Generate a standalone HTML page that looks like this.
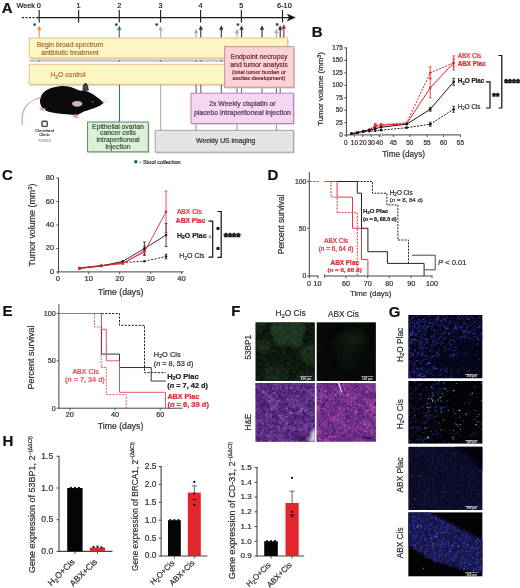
<!DOCTYPE html>
<html><head><meta charset="utf-8"><title>Figure</title>
<style>
html,body{margin:0;padding:0;background:#fff;}
body{width:520px;height:588px;overflow:hidden;}
svg{display:block;filter:blur(0.45px);}
text{font-family:'Liberation Sans', Arial, sans-serif;}
</style></head>
<body>
<svg width="520" height="588" viewBox="0 0 520 588">
<defs>
<filter id="blur2" x="-50%" y="-50%" width="200%" height="200%"><feGaussianBlur stdDeviation="4"/></filter>
<filter id="blur1" x="-50%" y="-50%" width="200%" height="200%"><feGaussianBlur stdDeviation="1.5"/></filter>
<filter id="soft" x="-5%" y="-5%" width="110%" height="110%"><feGaussianBlur stdDeviation="0.35"/></filter>
<filter id="nF1" x="0" y="0" width="1" height="1" color-interpolation-filters="sRGB"><feTurbulence type="fractalNoise" baseFrequency="0.3" numOctaves="2" seed="5"/><feColorMatrix type="matrix" values="0.2353 0.0000 0.0000 0.0000 0.0000 0.3922 0.0000 0.0000 0.0000 0.0000 0.2353 0.0000 0.0000 0.0000 0.0000 0.0000 0.0000 0.0000 0.0000 1.0000"/></filter>
<filter id="nF2" x="0" y="0" width="1" height="1" color-interpolation-filters="sRGB"><feTurbulence type="fractalNoise" baseFrequency="0.12" numOctaves="3" seed="7"/><feColorMatrix type="matrix" values="0.0863 0.0000 0.0000 0.0000 0.0000 0.1176 0.0000 0.0000 0.0000 0.0078 0.0863 0.0000 0.0000 0.0000 0.0000 0.0000 0.0000 0.0000 0.0000 1.0000"/></filter>
<filter id="nF3b" x="0" y="0" width="1" height="1" color-interpolation-filters="sRGB"><feTurbulence type="fractalNoise" baseFrequency="0.09" numOctaves="3" seed="17"/><feColorMatrix type="matrix" values="0.3059 0.0000 0.0000 0.0000 0.2431 0.2235 0.0000 0.0000 0.0000 0.0980 0.2510 0.0000 0.0000 0.0000 0.4235 0.0000 0.0000 0.0000 0.0000 1.0000"/></filter>
<filter id="nF4b" x="0" y="0" width="1" height="1" color-interpolation-filters="sRGB"><feTurbulence type="fractalNoise" baseFrequency="0.09" numOctaves="3" seed="19"/><feColorMatrix type="matrix" values="0.3412 0.0000 0.0000 0.0000 0.3333 0.1686 0.0000 0.0000 0.0000 0.1373 0.1176 0.0000 0.0000 0.0000 0.5098 0.0000 0.0000 0.0000 0.0000 1.0000"/></filter>
<clipPath id="cF1"><rect x="255.4" y="322.3" width="59.5" height="58.7"/></clipPath>
<clipPath id="cF2"><rect x="316.6" y="322.3" width="59.3" height="58.7"/></clipPath>
<clipPath id="cF3"><rect x="255.4" y="382.9" width="59.5" height="58.9"/></clipPath>
<clipPath id="cF4"><rect x="316.6" y="382.9" width="59.3" height="58.9"/></clipPath>
<clipPath id="cG1"><rect x="408.2" y="315.0" width="74.4" height="63.5"/></clipPath>
<clipPath id="cG2"><rect x="408.2" y="381.0" width="74.4" height="62.8"/></clipPath>
<clipPath id="cG3"><rect x="408.2" y="446.6" width="74.4" height="63.4"/></clipPath>
<clipPath id="cG4"><rect x="408.2" y="512.2" width="74.4" height="64.4"/></clipPath>
</defs>
<rect x="0" y="0" width="520" height="588" fill="#fff"/>
<text x="1.80" y="12.90" font-size="15" text-anchor="start" fill="#111" font-weight="bold" stroke="#111" stroke-width="0.22">A</text>
<line x1="22.00" y1="17.60" x2="37.00" y2="17.60" stroke="#222" stroke-width="1.2" stroke-dasharray="2,1.5"/>
<line x1="37.00" y1="17.60" x2="290.00" y2="17.60" stroke="#1a1a1a" stroke-width="1.35"/>
<path d="M287.3,14.100000000000001 L295.2,17.6 L287.3,21.1 L289.3,17.6 Z" stroke="#111" stroke-width="0.4" fill="#111"/>
<line x1="39.20" y1="10.00" x2="39.20" y2="22.40" stroke="#222" stroke-width="1.15"/>
<line x1="78.60" y1="10.00" x2="78.60" y2="22.40" stroke="#222" stroke-width="1.15"/>
<line x1="119.30" y1="10.00" x2="119.30" y2="22.40" stroke="#222" stroke-width="1.15"/>
<line x1="160.60" y1="10.00" x2="160.60" y2="22.40" stroke="#222" stroke-width="1.15"/>
<line x1="200.60" y1="10.00" x2="200.60" y2="22.40" stroke="#222" stroke-width="1.15"/>
<line x1="241.40" y1="10.00" x2="241.40" y2="22.40" stroke="#222" stroke-width="1.15"/>
<line x1="282.50" y1="10.00" x2="282.50" y2="22.40" stroke="#222" stroke-width="1.15"/>
<text x="38.80" y="7.90" font-size="7.3" text-anchor="middle" fill="#222" stroke="#222" stroke-width="0.22">0</text>
<text x="78.60" y="7.90" font-size="7.3" text-anchor="middle" fill="#222" stroke="#222" stroke-width="0.22">1</text>
<text x="119.30" y="7.90" font-size="7.3" text-anchor="middle" fill="#222" stroke="#222" stroke-width="0.22">2</text>
<text x="160.60" y="7.90" font-size="7.3" text-anchor="middle" fill="#222" stroke="#222" stroke-width="0.22">3</text>
<text x="200.60" y="7.90" font-size="7.3" text-anchor="middle" fill="#222" stroke="#222" stroke-width="0.22">4</text>
<text x="241.40" y="7.90" font-size="7.3" text-anchor="middle" fill="#222" stroke="#222" stroke-width="0.22">5</text>
<text x="284.40" y="7.90" font-size="7.3" text-anchor="middle" fill="#222" stroke="#222" stroke-width="0.22">6-10</text>
<text x="35.00" y="7.90" font-size="7.3" text-anchor="end" fill="#222" stroke="#222" stroke-width="0.22">Week</text>
<circle cx="34.60" cy="24.60" r="1.4" fill="#1b4f8f"/>
<circle cx="116.30" cy="24.60" r="1.4" fill="#1b4f8f"/>
<circle cx="156.70" cy="24.60" r="1.4" fill="#1b4f8f"/>
<circle cx="237.90" cy="24.60" r="1.4" fill="#1b4f8f"/>
<circle cx="277.20" cy="24.50" r="1.4" fill="#1b4f8f"/>
<line x1="39.20" y1="28.50" x2="39.20" y2="37.60" stroke="#f0873a" stroke-width="1.1"/>
<path d="M37.35,29.80 L39.20,26.00 L41.05,29.80 Z" stroke="#f0873a" stroke-width="0.4" fill="#f0873a"/>
<line x1="119.30" y1="28.50" x2="119.30" y2="37.60" stroke="#2d7a4c" stroke-width="1.1"/>
<path d="M117.45,29.80 L119.30,26.00 L121.15,29.80 Z" stroke="#2d7a4c" stroke-width="0.4" fill="#2d7a4c"/>
<line x1="160.60" y1="29.10" x2="160.60" y2="37.60" stroke="#a9a9a9" stroke-width="1.1"/>
<path d="M158.75,30.40 L160.60,26.60 L162.45,30.40 Z" stroke="#a9a9a9" stroke-width="0.4" fill="#a9a9a9"/>
<line x1="196.10" y1="31.80" x2="196.10" y2="37.60" stroke="#a9a9a9" stroke-width="1.1"/>
<path d="M194.25,33.10 L196.10,29.30 L197.95,33.10 Z" stroke="#a9a9a9" stroke-width="0.4" fill="#a9a9a9"/>
<line x1="237.00" y1="31.80" x2="237.00" y2="37.60" stroke="#a9a9a9" stroke-width="1.1"/>
<path d="M235.15,33.10 L237.00,29.30 L238.85,33.10 Z" stroke="#a9a9a9" stroke-width="0.4" fill="#a9a9a9"/>
<line x1="276.40" y1="31.80" x2="276.40" y2="37.60" stroke="#a9a9a9" stroke-width="1.1"/>
<path d="M274.55,33.10 L276.40,29.30 L278.25,33.10 Z" stroke="#a9a9a9" stroke-width="0.4" fill="#a9a9a9"/>
<line x1="200.80" y1="28.30" x2="200.80" y2="37.60" stroke="#43204a" stroke-width="1.1"/>
<path d="M198.95,29.60 L200.80,25.80 L202.65,29.60 Z" stroke="#43204a" stroke-width="0.4" fill="#43204a"/>
<line x1="221.30" y1="28.30" x2="221.30" y2="37.60" stroke="#43204a" stroke-width="1.1"/>
<path d="M219.45,29.60 L221.30,25.80 L223.15,29.60 Z" stroke="#43204a" stroke-width="0.4" fill="#43204a"/>
<line x1="241.60" y1="28.30" x2="241.60" y2="37.60" stroke="#43204a" stroke-width="1.1"/>
<path d="M239.75,29.60 L241.60,25.80 L243.45,29.60 Z" stroke="#43204a" stroke-width="0.4" fill="#43204a"/>
<line x1="262.00" y1="28.30" x2="262.00" y2="37.60" stroke="#43204a" stroke-width="1.1"/>
<path d="M260.15,29.60 L262.00,25.80 L263.85,29.60 Z" stroke="#43204a" stroke-width="0.4" fill="#43204a"/>
<line x1="280.20" y1="28.30" x2="280.20" y2="37.60" stroke="#43204a" stroke-width="1.1"/>
<path d="M278.35,29.60 L280.20,25.80 L282.05,29.60 Z" stroke="#43204a" stroke-width="0.4" fill="#43204a"/>
<line x1="283.80" y1="27.10" x2="283.80" y2="46.50" stroke="#a8283c" stroke-width="1.2"/>
<path d="M281.95,28.40 L283.80,24.60 L285.65,28.40 Z" stroke="#a8283c" stroke-width="0.4" fill="#a8283c"/>
<rect x="30.50" y="39.50" width="258.30" height="20.50" fill="#d8d8d8" stroke="none" stroke-width="1"/>
<rect x="30.50" y="65.70" width="258.30" height="20.20" fill="#d8d8d8" stroke="none" stroke-width="1"/>
<rect x="29.20" y="59.90" width="258.30" height="2.00" fill="#c9c9c9" stroke="none" stroke-width="1"/>
<circle cx="39.20" cy="60.90" r="0.7" fill="#555"/>
<circle cx="119.30" cy="60.90" r="0.7" fill="#555"/>
<circle cx="160.60" cy="60.90" r="0.7" fill="#555"/>
<circle cx="196.10" cy="60.90" r="0.7" fill="#555"/>
<circle cx="200.80" cy="60.90" r="0.7" fill="#555"/>
<circle cx="221.30" cy="60.90" r="0.7" fill="#555"/>
<rect x="29.20" y="38.00" width="258.30" height="20.00" fill="#fcf5c4" stroke="#f0bf80" stroke-width="1.0"/>
<text x="70.00" y="47.30" font-size="6.8" text-anchor="middle" fill="#a8733c" stroke="#a8733c" stroke-width="0.22">Begin broad spectrum</text>
<text x="70.00" y="54.50" font-size="6.8" text-anchor="middle" fill="#a8733c" stroke="#a8733c" stroke-width="0.22">antibiotic treatment</text>
<rect x="29.20" y="64.30" width="258.30" height="20.00" fill="#fcf5c4" stroke="#f0bf80" stroke-width="1.0"/>
<text x="68.00" y="76.80" font-size="6.8" text-anchor="middle" fill="#a8733c" stroke="#a8733c" stroke-width="0.22">H<tspan font-size="72%" dy="1.76">2</tspan><tspan dy="-1.76">O</tspan> control</text>
<line x1="196.10" y1="84.80" x2="196.10" y2="93.00" stroke="#444" stroke-width="0.9"/>
<line x1="200.80" y1="84.80" x2="200.80" y2="93.00" stroke="#444" stroke-width="0.9"/>
<line x1="221.30" y1="84.80" x2="221.30" y2="93.00" stroke="#444" stroke-width="0.9"/>
<line x1="237.00" y1="87.50" x2="237.00" y2="93.00" stroke="#444" stroke-width="0.9"/>
<line x1="241.60" y1="87.50" x2="241.60" y2="93.00" stroke="#444" stroke-width="0.9"/>
<line x1="262.00" y1="87.50" x2="262.00" y2="93.00" stroke="#444" stroke-width="0.9"/>
<line x1="276.40" y1="87.50" x2="276.40" y2="93.00" stroke="#444" stroke-width="0.9"/>
<line x1="280.20" y1="87.50" x2="280.20" y2="93.00" stroke="#444" stroke-width="0.9"/>
<line x1="196.10" y1="123.50" x2="196.10" y2="130.30" stroke="#888" stroke-width="0.9"/>
<line x1="237.00" y1="123.50" x2="237.00" y2="130.30" stroke="#888" stroke-width="0.9"/>
<line x1="276.40" y1="123.50" x2="276.40" y2="130.30" stroke="#888" stroke-width="0.9"/>
<line x1="119.50" y1="84.60" x2="119.50" y2="122.00" stroke="#2d7a4c" stroke-width="1.0"/>
<line x1="160.70" y1="84.60" x2="160.70" y2="130.30" stroke="#9a9a9a" stroke-width="0.9"/>
<rect x="225.90" y="47.90" width="69.20" height="40.70" fill="#d8d0d0" stroke="none" stroke-width="1"/>
<rect x="224.60" y="46.60" width="69.20" height="40.70" fill="#fad3d7" stroke="#d6959b" stroke-width="1.1"/>
<text x="259.00" y="58.80" font-size="6.85" text-anchor="middle" fill="#74283a" stroke="#74283a" stroke-width="0.22">Endpoint necropsy</text>
<text x="259.00" y="66.90" font-size="6.85" text-anchor="middle" fill="#74283a" stroke="#74283a" stroke-width="0.22">and tumor analysis</text>
<text x="259.00" y="73.70" font-size="5.6" text-anchor="middle" fill="#74283a" stroke="#74283a" stroke-width="0.22">(total tumor burden or</text>
<text x="259.00" y="79.80" font-size="5.6" text-anchor="middle" fill="#74283a" stroke="#74283a" stroke-width="0.22">ascites development)</text>
<rect x="192.30" y="94.30" width="102.40" height="30.40" fill="#d0c8d0" stroke="none" stroke-width="1"/>
<rect x="191.00" y="93.20" width="102.40" height="30.30" fill="#f6d6f1" stroke="#b985b3" stroke-width="1.0"/>
<text x="242.40" y="105.80" font-size="6.9" text-anchor="middle" fill="#553a58" stroke="#553a58" stroke-width="0.22">2x Weekly cisplatin or</text>
<text x="242.40" y="114.70" font-size="6.9" text-anchor="middle" fill="#553a58" stroke="#553a58" stroke-width="0.22">placebo intraperitoneal injection</text>
<rect x="156.50" y="131.60" width="138.20" height="21.90" fill="#cfcfcf" stroke="none" stroke-width="1"/>
<rect x="155.20" y="130.30" width="138.20" height="21.90" fill="#e4e4e4" stroke="#a0a0a0" stroke-width="0.9"/>
<text x="225.70" y="142.80" font-size="6.8" text-anchor="middle" fill="#333" stroke="#333" stroke-width="0.22">Weekly US imaging</text>
<rect x="89.00" y="123.20" width="60.60" height="30.00" fill="#cfd8cf" stroke="none" stroke-width="1"/>
<rect x="87.50" y="122.00" width="60.80" height="29.80" fill="#deeed9" stroke="#6d8f74" stroke-width="1.1"/>
<text x="118.00" y="128.60" font-size="6.8" text-anchor="middle" fill="#35603f" stroke="#35603f" stroke-width="0.22">Epithelial ovarian</text>
<text x="118.00" y="135.30" font-size="6.8" text-anchor="middle" fill="#35603f" stroke="#35603f" stroke-width="0.22">cancer cells</text>
<text x="118.00" y="142.00" font-size="6.8" text-anchor="middle" fill="#35603f" stroke="#35603f" stroke-width="0.22">intraperitoneal</text>
<text x="118.00" y="148.70" font-size="6.8" text-anchor="middle" fill="#35603f" stroke="#35603f" stroke-width="0.22">injection</text>
<circle cx="135.80" cy="161.70" r="1.75" fill="#1b5a9a"/>
<text x="139.60" y="163.80" font-size="5.6" text-anchor="start" fill="#333" stroke="#333" stroke-width="0.22">- Stool collection</text>
<path d="M40.6,97.4 C42.5,91 50,87 60,86.2 C67,85.6 73,87.5 77,89.5 C80,90.8 82.5,91 84.5,90.8 C88.5,91.2 92,93.5 96,96.5 C99.5,99 102.5,101.3 103.9,102.8 C101.5,104.8 99,106.3 96.5,107.3 C92,109 88,110.5 84.5,111.3 C81,113 78.5,114.8 75.5,115.3 C71,114.6 67,114.2 63,114.0 C56,113.6 50,112.4 46.5,111.0 C43,109.5 41,106.8 40.4,104 C39.8,101.8 39.9,99.6 40.6,97.4 Z" stroke="none" stroke-width="0" fill="#0b0b0b"/>
<path d="M82.6,91.2 C82.3,87.2 83.2,83.3 85.3,83.1 C87.4,83.1 88.5,86.6 88.8,90.6 Z" stroke="none" stroke-width="0" fill="#3b3434"/>
<path d="M84.4,89.5 C84.3,87 84.8,85 85.5,85 C86.3,85.1 86.8,87.2 86.9,89.4 Z" stroke="none" stroke-width="0" fill="#5a4a4a"/>
<ellipse cx="77.2" cy="103.8" rx="5.2" ry="2.9" fill="#cdb6aa"/>
<circle cx="92.60" cy="101.90" r="0.9" fill="#666"/>
<path d="M72.6,115.2 C73.5,114.2 77.5,114.2 78.4,115.6 L78.8,118.2 L77.6,117.4 L76.8,119.0 L75.8,117.5 L74.6,118.8 L74.2,117.2 L72.9,117.8 Z" stroke="none" stroke-width="0" fill="#e0a8ad"/>
<path d="M39.5,108.6 C40.5,107.4 43.8,107.5 45.3,108.6 L45.6,110.6 L44.2,110.0 L43.3,111.2 L42.4,110.2 L41.2,111.0 L40.8,109.8 L39.6,110.2 Z" stroke="none" stroke-width="0" fill="#e0a8ad"/>
<path d="M40.2,97.6 C31,100 24.5,106 22.8,113 C21.8,117.5 21.8,121 22.3,125" stroke="#cbb0bc" stroke-width="1.3" fill="none"/>
<path d="M101.5,101.3 L108.2,98.6 M101.8,102.3 L108.6,101.6" stroke="#c0c0c0" stroke-width="0.5" fill="none"/>
<rect x="42.0" y="121.3" width="5.2" height="5.1" rx="0.9" fill="#fff" stroke="#454545" stroke-width="1.4"/>
<text x="44.50" y="131.60" font-size="4.3" text-anchor="middle" fill="#555" stroke="#555" stroke-width="0.22">Cleveland</text>
<text x="44.50" y="135.60" font-size="4.3" text-anchor="middle" fill="#555" stroke="#555" stroke-width="0.22">Clinic</text>
<text x="44.70" y="141.60" font-size="4.3" text-anchor="middle" fill="#aaa" stroke="#aaa" stroke-width="0.22">©2022</text>
<text x="311.80" y="36.60" font-size="15" text-anchor="start" fill="#111" font-weight="bold" stroke="#111" stroke-width="0.22">B</text>
<line x1="346.40" y1="47.40" x2="346.40" y2="135.40" stroke="#444" stroke-width="1.0"/>
<line x1="344.20" y1="135.20" x2="346.40" y2="135.20" stroke="#444" stroke-width="0.9"/>
<text x="342.80" y="137.10" font-size="6.4" text-anchor="end" fill="#333" stroke="#333" stroke-width="0.22">0</text>
<line x1="344.20" y1="122.73" x2="346.40" y2="122.73" stroke="#444" stroke-width="0.9"/>
<text x="342.80" y="124.63" font-size="6.4" text-anchor="end" fill="#333" stroke="#333" stroke-width="0.22">25</text>
<line x1="344.20" y1="110.26" x2="346.40" y2="110.26" stroke="#444" stroke-width="0.9"/>
<text x="342.80" y="112.16" font-size="6.4" text-anchor="end" fill="#333" stroke="#333" stroke-width="0.22">50</text>
<line x1="344.20" y1="97.79" x2="346.40" y2="97.79" stroke="#444" stroke-width="0.9"/>
<text x="342.80" y="99.69" font-size="6.4" text-anchor="end" fill="#333" stroke="#333" stroke-width="0.22">75</text>
<line x1="344.20" y1="85.31" x2="346.40" y2="85.31" stroke="#444" stroke-width="0.9"/>
<text x="342.80" y="87.21" font-size="6.4" text-anchor="end" fill="#333" stroke="#333" stroke-width="0.22">100</text>
<line x1="344.20" y1="72.84" x2="346.40" y2="72.84" stroke="#444" stroke-width="0.9"/>
<text x="342.80" y="74.74" font-size="6.4" text-anchor="end" fill="#333" stroke="#333" stroke-width="0.22">125</text>
<line x1="344.20" y1="60.37" x2="346.40" y2="60.37" stroke="#444" stroke-width="0.9"/>
<text x="342.80" y="62.27" font-size="6.4" text-anchor="end" fill="#333" stroke="#333" stroke-width="0.22">150</text>
<line x1="344.20" y1="47.90" x2="346.40" y2="47.90" stroke="#444" stroke-width="0.9"/>
<text x="342.80" y="49.80" font-size="6.4" text-anchor="end" fill="#333" stroke="#333" stroke-width="0.22">175</text>
<line x1="346.40" y1="134.90" x2="460.80" y2="134.90" stroke="#444" stroke-width="1.0"/>
<line x1="346.40" y1="134.90" x2="346.40" y2="137.10" stroke="#444" stroke-width="0.9"/>
<text x="345.90" y="144.50" font-size="6.4" text-anchor="middle" fill="#333" stroke="#333" stroke-width="0.22">0</text>
<line x1="354.40" y1="134.90" x2="354.40" y2="137.10" stroke="#444" stroke-width="0.9"/>
<text x="354.40" y="144.50" font-size="6.4" text-anchor="middle" fill="#333" stroke="#333" stroke-width="0.22">10</text>
<line x1="362.90" y1="134.90" x2="362.90" y2="137.10" stroke="#444" stroke-width="0.9"/>
<text x="362.90" y="144.50" font-size="6.4" text-anchor="middle" fill="#333" stroke="#333" stroke-width="0.22">20</text>
<line x1="371.20" y1="134.90" x2="371.20" y2="137.10" stroke="#444" stroke-width="0.9"/>
<text x="371.20" y="144.50" font-size="6.4" text-anchor="middle" fill="#333" stroke="#333" stroke-width="0.22">30</text>
<line x1="379.40" y1="134.90" x2="379.40" y2="137.10" stroke="#444" stroke-width="0.9"/>
<text x="379.40" y="144.50" font-size="6.4" text-anchor="middle" fill="#333" stroke="#333" stroke-width="0.22">40</text>
<line x1="393.30" y1="134.90" x2="393.30" y2="137.10" stroke="#444" stroke-width="0.9"/>
<text x="393.30" y="144.50" font-size="6.4" text-anchor="middle" fill="#333" stroke="#333" stroke-width="0.22">45</text>
<line x1="409.80" y1="134.90" x2="409.80" y2="137.10" stroke="#444" stroke-width="0.9"/>
<text x="409.80" y="144.50" font-size="6.4" text-anchor="middle" fill="#333" stroke="#333" stroke-width="0.22">50</text>
<line x1="427.10" y1="134.90" x2="427.10" y2="137.10" stroke="#444" stroke-width="0.9"/>
<text x="427.10" y="144.50" font-size="6.4" text-anchor="middle" fill="#333" stroke="#333" stroke-width="0.22">55</text>
<line x1="443.50" y1="134.90" x2="443.50" y2="137.10" stroke="#444" stroke-width="0.9"/>
<text x="443.50" y="144.50" font-size="6.4" text-anchor="middle" fill="#333" stroke="#333" stroke-width="0.22">60</text>
<line x1="460.40" y1="134.90" x2="460.40" y2="137.10" stroke="#444" stroke-width="0.9"/>
<text x="460.40" y="144.50" font-size="6.4" text-anchor="middle" fill="#333" stroke="#333" stroke-width="0.22">65</text>
<circle cx="381.4" cy="134.9" r="1.3" fill="white" stroke="#555" stroke-width="0.6"/>
<text x="0" y="0" transform="translate(323.20,89.00) rotate(-90)" font-size="7.9" text-anchor="middle" fill="#333" stroke="#333" stroke-width="0.22">Tumor volume (mm<tspan font-size="65%" dy="-2.5">3</tspan><tspan dy="2.5">)</tspan></text>
<text x="403.60" y="156.60" font-size="8.2" text-anchor="middle" fill="#333" stroke="#333" stroke-width="0.22">Time (days)</text>
<path d="M351.52,133.70 L357.43,132.71 L363.35,131.21 L369.26,129.71 L375.18,126.72 L381.09,125.22 L406.72,123.73 L430.21,87.81 L453.69,62.87" stroke="#e3262e" stroke-width="1.0" fill="none"/>
<circle cx="351.52" cy="133.70" r="1.2" fill="#e3262e"/>
<circle cx="357.43" cy="132.71" r="1.2" fill="#e3262e"/>
<circle cx="363.35" cy="131.21" r="1.2" fill="#e3262e"/>
<circle cx="369.26" cy="129.71" r="1.2" fill="#e3262e"/>
<circle cx="375.18" cy="126.72" r="1.2" fill="#e3262e"/>
<line x1="375.18" y1="128.71" x2="375.18" y2="124.72" stroke="#e3262e" stroke-width="0.8"/>
<line x1="373.78" y1="124.72" x2="376.57" y2="124.72" stroke="#e3262e" stroke-width="0.8"/>
<line x1="373.78" y1="128.71" x2="376.57" y2="128.71" stroke="#e3262e" stroke-width="0.8"/>
<circle cx="381.09" cy="125.22" r="1.2" fill="#e3262e"/>
<line x1="381.09" y1="126.72" x2="381.09" y2="123.73" stroke="#e3262e" stroke-width="0.8"/>
<line x1="379.69" y1="123.73" x2="382.49" y2="123.73" stroke="#e3262e" stroke-width="0.8"/>
<line x1="379.69" y1="126.72" x2="382.49" y2="126.72" stroke="#e3262e" stroke-width="0.8"/>
<circle cx="406.72" cy="123.73" r="1.2" fill="#e3262e"/>
<circle cx="430.21" cy="87.81" r="1.2" fill="#e3262e"/>
<line x1="430.21" y1="97.79" x2="430.21" y2="77.83" stroke="#e3262e" stroke-width="0.8"/>
<line x1="428.81" y1="77.83" x2="431.61" y2="77.83" stroke="#e3262e" stroke-width="0.8"/>
<line x1="428.81" y1="97.79" x2="431.61" y2="97.79" stroke="#e3262e" stroke-width="0.8"/>
<circle cx="453.69" cy="62.87" r="1.2" fill="#e3262e"/>
<line x1="453.69" y1="66.86" x2="453.69" y2="58.87" stroke="#e3262e" stroke-width="0.8"/>
<line x1="452.29" y1="58.87" x2="455.09" y2="58.87" stroke="#e3262e" stroke-width="0.8"/>
<line x1="452.29" y1="66.86" x2="455.09" y2="66.86" stroke="#e3262e" stroke-width="0.8"/>
<path d="M351.52,133.70 L357.43,132.71 L363.35,131.21 L369.26,129.71 L375.18,125.22 L381.09,124.72 L406.72,122.73 L430.21,72.84 L453.69,62.87" stroke="#e3262e" stroke-width="1.0" fill="none" stroke-dasharray="2,1.3"/>
<circle cx="351.52" cy="133.70" r="1.2" fill="#e3262e"/>
<circle cx="357.43" cy="132.71" r="1.2" fill="#e3262e"/>
<circle cx="363.35" cy="131.21" r="1.2" fill="#e3262e"/>
<circle cx="369.26" cy="129.71" r="1.2" fill="#e3262e"/>
<circle cx="375.18" cy="125.22" r="1.2" fill="#e3262e"/>
<line x1="375.18" y1="127.22" x2="375.18" y2="123.23" stroke="#e3262e" stroke-width="0.8"/>
<line x1="373.78" y1="123.23" x2="376.57" y2="123.23" stroke="#e3262e" stroke-width="0.8"/>
<line x1="373.78" y1="127.22" x2="376.57" y2="127.22" stroke="#e3262e" stroke-width="0.8"/>
<circle cx="381.09" cy="124.72" r="1.2" fill="#e3262e"/>
<circle cx="406.72" cy="122.73" r="1.2" fill="#e3262e"/>
<circle cx="430.21" cy="72.84" r="1.2" fill="#e3262e"/>
<line x1="430.21" y1="78.83" x2="430.21" y2="66.86" stroke="#e3262e" stroke-width="0.8"/>
<line x1="428.81" y1="66.86" x2="431.61" y2="66.86" stroke="#e3262e" stroke-width="0.8"/>
<line x1="428.81" y1="78.83" x2="431.61" y2="78.83" stroke="#e3262e" stroke-width="0.8"/>
<circle cx="453.69" cy="62.87" r="1.2" fill="#e3262e"/>
<line x1="453.69" y1="69.85" x2="453.69" y2="55.88" stroke="#e3262e" stroke-width="0.8"/>
<line x1="452.29" y1="55.88" x2="455.09" y2="55.88" stroke="#e3262e" stroke-width="0.8"/>
<line x1="452.29" y1="69.85" x2="455.09" y2="69.85" stroke="#e3262e" stroke-width="0.8"/>
<path d="M351.52,133.70 L357.43,132.71 L363.35,131.71 L369.26,131.21 L375.18,130.71 L381.09,130.21 L406.72,127.72 L430.21,124.23 L453.69,109.26" stroke="#1a1a1a" stroke-width="1.0" fill="none" stroke-dasharray="2,1.3"/>
<circle cx="351.52" cy="133.70" r="1.35" fill="#1a1a1a"/>
<circle cx="357.43" cy="132.71" r="1.35" fill="#1a1a1a"/>
<circle cx="363.35" cy="131.71" r="1.35" fill="#1a1a1a"/>
<circle cx="369.26" cy="131.21" r="1.35" fill="#1a1a1a"/>
<circle cx="375.18" cy="130.71" r="1.35" fill="#1a1a1a"/>
<circle cx="381.09" cy="130.21" r="1.35" fill="#1a1a1a"/>
<circle cx="406.72" cy="127.72" r="1.35" fill="#1a1a1a"/>
<circle cx="430.21" cy="124.23" r="1.35" fill="#1a1a1a"/>
<line x1="430.21" y1="126.22" x2="430.21" y2="122.23" stroke="#1a1a1a" stroke-width="0.8"/>
<line x1="428.81" y1="122.23" x2="431.61" y2="122.23" stroke="#1a1a1a" stroke-width="0.8"/>
<line x1="428.81" y1="126.22" x2="431.61" y2="126.22" stroke="#1a1a1a" stroke-width="0.8"/>
<circle cx="453.69" cy="109.26" r="1.35" fill="#1a1a1a"/>
<line x1="453.69" y1="112.25" x2="453.69" y2="106.27" stroke="#1a1a1a" stroke-width="0.8"/>
<line x1="452.29" y1="106.27" x2="455.09" y2="106.27" stroke="#1a1a1a" stroke-width="0.8"/>
<line x1="452.29" y1="112.25" x2="455.09" y2="112.25" stroke="#1a1a1a" stroke-width="0.8"/>
<path d="M351.52,133.70 L357.43,132.71 L363.35,131.21 L369.26,130.21 L375.18,128.71 L381.09,127.22 L406.72,124.23 L430.21,109.26 L453.69,81.82" stroke="#1a1a1a" stroke-width="1.0" fill="none"/>
<circle cx="351.52" cy="133.70" r="1.35" fill="#1a1a1a"/>
<circle cx="357.43" cy="132.71" r="1.35" fill="#1a1a1a"/>
<circle cx="363.35" cy="131.21" r="1.35" fill="#1a1a1a"/>
<circle cx="369.26" cy="130.21" r="1.35" fill="#1a1a1a"/>
<circle cx="375.18" cy="128.71" r="1.35" fill="#1a1a1a"/>
<circle cx="381.09" cy="127.22" r="1.35" fill="#1a1a1a"/>
<circle cx="406.72" cy="124.23" r="1.35" fill="#1a1a1a"/>
<circle cx="430.21" cy="109.26" r="1.35" fill="#1a1a1a"/>
<line x1="430.21" y1="111.25" x2="430.21" y2="107.26" stroke="#1a1a1a" stroke-width="0.8"/>
<line x1="428.81" y1="107.26" x2="431.61" y2="107.26" stroke="#1a1a1a" stroke-width="0.8"/>
<line x1="428.81" y1="111.25" x2="431.61" y2="111.25" stroke="#1a1a1a" stroke-width="0.8"/>
<circle cx="453.69" cy="81.82" r="1.35" fill="#1a1a1a"/>
<line x1="453.69" y1="85.31" x2="453.69" y2="78.33" stroke="#1a1a1a" stroke-width="0.8"/>
<line x1="452.29" y1="78.33" x2="455.09" y2="78.33" stroke="#1a1a1a" stroke-width="0.8"/>
<line x1="452.29" y1="85.31" x2="455.09" y2="85.31" stroke="#1a1a1a" stroke-width="0.8"/>
<text x="457.70" y="58.00" font-size="6.3" text-anchor="start" fill="#e3262e" stroke="#e3262e" stroke-width="0.22">ABX Cis</text>
<text x="457.70" y="65.60" font-size="6.3" text-anchor="start" fill="#e3262e" font-weight="bold" stroke="#e3262e" stroke-width="0.22">ABX Plac</text>
<text x="457.70" y="83.30" font-size="6.3" text-anchor="start" fill="#222" font-weight="bold" stroke="#222" stroke-width="0.22">H<tspan font-size="72%" dy="1.49">2</tspan><tspan dy="-1.49">O</tspan> Plac</text>
<text x="457.70" y="108.50" font-size="6.3" text-anchor="start" fill="#333" stroke="#333" stroke-width="0.22">H<tspan font-size="72%" dy="1.49">2</tspan><tspan dy="-1.49">O</tspan> Cis</text>
<path d="M486,81.9 L490,81.9 L490,108 L486,108" stroke="#111" stroke-width="1.2" fill="none"/>
<path d="M498.5,55.5 L501.8,55.5 L501.8,108 L498.5,108" stroke="#111" stroke-width="1.2" fill="none"/>
<text x="495.80" y="99.48" font-size="9.25" text-anchor="middle" font-weight="bold" fill="#111" stroke="#111" stroke-width="0.7" stroke-linejoin="round">**</text>
<text x="512.00" y="87.01" font-size="10.03" text-anchor="middle" font-weight="bold" fill="#111" stroke="#111" stroke-width="0.7" stroke-linejoin="round">****</text>
<text x="2.00" y="179.60" font-size="15" text-anchor="start" fill="#111" font-weight="bold" stroke="#111" stroke-width="0.22">C</text>
<line x1="58.50" y1="177.60" x2="58.50" y2="272.40" stroke="#444" stroke-width="1.0"/>
<line x1="56.30" y1="271.90" x2="58.50" y2="271.90" stroke="#444" stroke-width="0.9"/>
<text x="54.30" y="273.90" font-size="7.6" text-anchor="end" fill="#333" stroke="#333" stroke-width="0.22">0</text>
<line x1="56.30" y1="248.45" x2="58.50" y2="248.45" stroke="#444" stroke-width="0.9"/>
<text x="54.30" y="250.45" font-size="7.6" text-anchor="end" fill="#333" stroke="#333" stroke-width="0.22">20</text>
<line x1="56.30" y1="225.00" x2="58.50" y2="225.00" stroke="#444" stroke-width="0.9"/>
<text x="54.30" y="227.00" font-size="7.6" text-anchor="end" fill="#333" stroke="#333" stroke-width="0.22">40</text>
<line x1="56.30" y1="201.55" x2="58.50" y2="201.55" stroke="#444" stroke-width="0.9"/>
<text x="54.30" y="203.55" font-size="7.6" text-anchor="end" fill="#333" stroke="#333" stroke-width="0.22">60</text>
<line x1="56.30" y1="178.10" x2="58.50" y2="178.10" stroke="#444" stroke-width="0.9"/>
<text x="54.30" y="180.10" font-size="7.6" text-anchor="end" fill="#333" stroke="#333" stroke-width="0.22">80</text>
<line x1="58.50" y1="271.90" x2="183.50" y2="271.90" stroke="#444" stroke-width="1.0"/>
<line x1="57.90" y1="271.90" x2="57.90" y2="274.10" stroke="#444" stroke-width="0.9"/>
<text x="57.90" y="281.30" font-size="7.6" text-anchor="middle" fill="#333" stroke="#333" stroke-width="0.22">0</text>
<line x1="88.80" y1="271.90" x2="88.80" y2="274.10" stroke="#444" stroke-width="0.9"/>
<text x="88.80" y="281.30" font-size="7.6" text-anchor="middle" fill="#333" stroke="#333" stroke-width="0.22">10</text>
<line x1="119.70" y1="271.90" x2="119.70" y2="274.10" stroke="#444" stroke-width="0.9"/>
<text x="119.70" y="281.30" font-size="7.6" text-anchor="middle" fill="#333" stroke="#333" stroke-width="0.22">20</text>
<line x1="150.60" y1="271.90" x2="150.60" y2="274.10" stroke="#444" stroke-width="0.9"/>
<text x="150.60" y="281.30" font-size="7.6" text-anchor="middle" fill="#333" stroke="#333" stroke-width="0.22">30</text>
<line x1="181.50" y1="271.90" x2="181.50" y2="274.10" stroke="#444" stroke-width="0.9"/>
<text x="181.50" y="281.30" font-size="7.6" text-anchor="middle" fill="#333" stroke="#333" stroke-width="0.22">40</text>
<text x="0" y="0" transform="translate(35.00,225.00) rotate(-90)" font-size="8.9" text-anchor="middle" fill="#333" stroke="#333" stroke-width="0.22">Tumor volume (mm<tspan font-size="65%" dy="-2.8">3</tspan><tspan dy="2.8">)</tspan></text>
<text x="120.70" y="295.20" font-size="8.7" text-anchor="middle" fill="#333" stroke="#333" stroke-width="0.22">Time (days)</text>
<path d="M79.53,268.38 L101.16,266.04 L122.79,262.52 L144.42,261.23 L166.05,256.54" stroke="#1a1a1a" stroke-width="0.9" fill="none" stroke-dasharray="2.2,1.4"/>
<circle cx="79.53" cy="268.38" r="1.25" fill="#1a1a1a"/>
<circle cx="101.16" cy="266.04" r="1.25" fill="#1a1a1a"/>
<circle cx="122.79" cy="262.52" r="1.25" fill="#1a1a1a"/>
<circle cx="144.42" cy="261.23" r="1.25" fill="#1a1a1a"/>
<circle cx="166.05" cy="256.54" r="1.25" fill="#1a1a1a"/>
<line x1="166.05" y1="258.89" x2="166.05" y2="254.20" stroke="#1a1a1a" stroke-width="0.8"/>
<line x1="164.65" y1="254.20" x2="167.45" y2="254.20" stroke="#1a1a1a" stroke-width="0.8"/>
<line x1="164.65" y1="258.89" x2="167.45" y2="258.89" stroke="#1a1a1a" stroke-width="0.8"/>
<path d="M79.53,267.80 L101.16,265.45 L122.79,263.69 L144.42,250.79" stroke="#e3262e" stroke-width="0.9" fill="none"/>
<circle cx="79.53" cy="267.80" r="1.25" fill="#e3262e"/>
<circle cx="101.16" cy="265.45" r="1.25" fill="#e3262e"/>
<circle cx="122.79" cy="263.69" r="1.25" fill="#e3262e"/>
<circle cx="144.42" cy="250.79" r="1.25" fill="#e3262e"/>
<line x1="144.42" y1="255.48" x2="144.42" y2="246.10" stroke="#e3262e" stroke-width="0.8"/>
<line x1="143.02" y1="246.10" x2="145.82" y2="246.10" stroke="#e3262e" stroke-width="0.8"/>
<line x1="143.02" y1="255.48" x2="145.82" y2="255.48" stroke="#e3262e" stroke-width="0.8"/>
<path d="M79.53,268.38 L101.16,266.04 L122.79,261.35 L144.42,248.57 L166.05,234.97" stroke="#1a1a1a" stroke-width="0.9" fill="none"/>
<circle cx="79.53" cy="268.38" r="1.25" fill="#1a1a1a"/>
<circle cx="101.16" cy="266.04" r="1.25" fill="#1a1a1a"/>
<circle cx="122.79" cy="261.35" r="1.25" fill="#1a1a1a"/>
<circle cx="144.42" cy="248.57" r="1.25" fill="#1a1a1a"/>
<line x1="144.42" y1="255.02" x2="144.42" y2="242.12" stroke="#1a1a1a" stroke-width="0.8"/>
<line x1="143.02" y1="242.12" x2="145.82" y2="242.12" stroke="#1a1a1a" stroke-width="0.8"/>
<line x1="143.02" y1="255.02" x2="145.82" y2="255.02" stroke="#1a1a1a" stroke-width="0.8"/>
<circle cx="166.05" cy="234.97" r="1.25" fill="#1a1a1a"/>
<line x1="166.05" y1="246.46" x2="166.05" y2="223.48" stroke="#1a1a1a" stroke-width="0.8"/>
<line x1="164.65" y1="223.48" x2="167.45" y2="223.48" stroke="#1a1a1a" stroke-width="0.8"/>
<line x1="164.65" y1="246.46" x2="167.45" y2="246.46" stroke="#1a1a1a" stroke-width="0.8"/>
<path d="M79.53,268.15 L101.16,265.80 L122.79,263.11 L144.42,251.97 L166.05,211.75" stroke="#e3262e" stroke-width="0.9" fill="none"/>
<circle cx="79.53" cy="268.15" r="1.25" fill="#e3262e"/>
<circle cx="101.16" cy="265.80" r="1.25" fill="#e3262e"/>
<circle cx="122.79" cy="263.11" r="1.25" fill="#e3262e"/>
<circle cx="144.42" cy="251.97" r="1.25" fill="#e3262e"/>
<circle cx="166.05" cy="211.75" r="1.25" fill="#e3262e"/>
<line x1="166.05" y1="232.50" x2="166.05" y2="191.00" stroke="#e3262e" stroke-width="0.8"/>
<line x1="164.65" y1="191.00" x2="167.45" y2="191.00" stroke="#e3262e" stroke-width="0.8"/>
<line x1="164.65" y1="232.50" x2="167.45" y2="232.50" stroke="#e3262e" stroke-width="0.8"/>
<text x="176.90" y="213.90" font-size="6.7" text-anchor="start" fill="#e3262e" stroke="#e3262e" stroke-width="0.22">ABX Cis</text>
<text x="175.80" y="223.00" font-size="6.7" text-anchor="start" fill="#e3262e" font-weight="bold" stroke="#e3262e" stroke-width="0.22">ABX Plac</text>
<text x="176.90" y="237.80" font-size="7.0" text-anchor="start" fill="#222" font-weight="bold" stroke="#222" stroke-width="0.22">H<tspan font-size="72%" dy="1.62">2</tspan><tspan dy="-1.62">O</tspan> Plac</text>
<text x="179.20" y="258.20" font-size="7.0" text-anchor="start" fill="#333" stroke="#333" stroke-width="0.22">H<tspan font-size="72%" dy="1.62">2</tspan><tspan dy="-1.62">O</tspan> Cis</text>
<path d="M208.5,221.2 L212.7,221.2 L212.7,257.2 L208.5,257.2" stroke="#111" stroke-width="1.2" fill="none"/>
<path d="M217.5,211.5 L221.2,211.5 L221.2,257.4 L217.5,257.4" stroke="#111" stroke-width="1.2" fill="none"/>
<line x1="208.80" y1="236.00" x2="211.20" y2="236.00" stroke="#444" stroke-width="0.7"/>
<line x1="208.80" y1="237.40" x2="211.20" y2="237.40" stroke="#444" stroke-width="0.7"/>
<text x="217.90" y="232.38" font-size="7.50" text-anchor="middle" font-weight="bold" fill="#111" stroke="#111" stroke-width="0.7" stroke-linejoin="round">*</text>
<text x="217.90" y="251.78" font-size="7.50" text-anchor="middle" font-weight="bold" fill="#111" stroke="#111" stroke-width="0.7" stroke-linejoin="round">*</text>
<text x="232.10" y="241.25" font-size="10.80" text-anchor="middle" font-weight="bold" fill="#111" stroke="#111" stroke-width="0.7" stroke-linejoin="round">****</text>
<text x="267.60" y="179.60" font-size="15" text-anchor="start" fill="#111" font-weight="bold" stroke="#111" stroke-width="0.22">D</text>
<line x1="309.30" y1="171.90" x2="309.30" y2="276.50" stroke="#444" stroke-width="1.0"/>
<line x1="307.10" y1="276.00" x2="309.30" y2="276.00" stroke="#444" stroke-width="0.9"/>
<text x="306.30" y="278.30" font-size="6.8" text-anchor="end" fill="#333" stroke="#333" stroke-width="0.22">0</text>
<line x1="307.10" y1="228.30" x2="309.30" y2="228.30" stroke="#444" stroke-width="0.9"/>
<text x="306.30" y="230.60" font-size="6.8" text-anchor="end" fill="#333" stroke="#333" stroke-width="0.22">50</text>
<line x1="307.10" y1="181.50" x2="309.30" y2="181.50" stroke="#444" stroke-width="0.9"/>
<text x="306.30" y="183.80" font-size="6.8" text-anchor="end" fill="#333" stroke="#333" stroke-width="0.22">100</text>
<line x1="309.30" y1="276.00" x2="318.60" y2="276.00" stroke="#444" stroke-width="1.0"/>
<line x1="324.60" y1="276.00" x2="432.60" y2="276.00" stroke="#444" stroke-width="1.0"/>
<line x1="309.30" y1="276.00" x2="309.30" y2="278.20" stroke="#444" stroke-width="0.9"/>
<line x1="318.00" y1="276.00" x2="318.00" y2="278.20" stroke="#444" stroke-width="0.9"/>
<line x1="346.00" y1="276.00" x2="346.00" y2="278.20" stroke="#444" stroke-width="0.9"/>
<line x1="367.70" y1="276.00" x2="367.70" y2="278.20" stroke="#444" stroke-width="0.9"/>
<line x1="389.20" y1="276.00" x2="389.20" y2="278.20" stroke="#444" stroke-width="0.9"/>
<line x1="411.20" y1="276.00" x2="411.20" y2="278.20" stroke="#444" stroke-width="0.9"/>
<line x1="432.00" y1="276.00" x2="432.00" y2="278.20" stroke="#444" stroke-width="0.9"/>
<text x="309.00" y="286.20" font-size="7.2" text-anchor="middle" fill="#333" stroke="#333" stroke-width="0.22">0</text>
<text x="317.50" y="286.20" font-size="7.2" text-anchor="middle" fill="#333" stroke="#333" stroke-width="0.22">10</text>
<text x="346.00" y="286.20" font-size="7.2" text-anchor="middle" fill="#333" stroke="#333" stroke-width="0.22">60</text>
<text x="367.70" y="286.20" font-size="7.2" text-anchor="middle" fill="#333" stroke="#333" stroke-width="0.22">70</text>
<text x="389.20" y="286.20" font-size="7.2" text-anchor="middle" fill="#333" stroke="#333" stroke-width="0.22">80</text>
<text x="411.20" y="286.20" font-size="7.2" text-anchor="middle" fill="#333" stroke="#333" stroke-width="0.22">90</text>
<text x="432.00" y="286.20" font-size="7.2" text-anchor="middle" fill="#333" stroke="#333" stroke-width="0.22">100</text>
<line x1="324.60" y1="274.20" x2="324.60" y2="277.80" stroke="#444" stroke-width="0.9"/>
<text x="0" y="0" transform="translate(284.00,224.40) rotate(-90)" font-size="8.4" text-anchor="middle" fill="#333" stroke="#333" stroke-width="0.22">Percent survival</text>
<text x="370.70" y="295.60" font-size="7.9" text-anchor="middle" fill="#333" stroke="#333" stroke-width="0.22">Time (days)</text>
<line x1="309.30" y1="181.50" x2="318.80" y2="181.50" stroke="#e03a44" stroke-width="1.0" stroke-dasharray="2.5,1.3"/>
<path d="M324.60,181.50 L331.00,181.50 L331.00,197.13 L337.10,197.13 L337.10,212.67 L357.30,212.67 L357.30,276.00" stroke="#e03a44" stroke-width="1.0" fill="none" stroke-dasharray="2,1.2"/>
<path d="M324.60,181.50 L337.10,181.50 L337.10,197.13 L352.50,197.13 L352.50,228.30 L361.50,228.30 L361.50,259.47 L367.90,259.47 L367.90,276.00" stroke="#e03a44" stroke-width="1.0" fill="none"/>
<path d="M337.10,181.50 L357.30,181.50 L357.30,193.20 L361.50,193.20 L361.50,228.30 L367.90,228.30 L367.90,251.70 L387.40,251.70 L387.40,263.40 L424.10,263.40 L424.10,276.00" stroke="#222" stroke-width="1.0" fill="none"/>
<path d="M357.30,181.50 L372.50,181.50 L372.50,193.20 L386.90,193.20 L386.90,204.90 L397.90,204.90 L397.90,240.00 L408.50,240.00 L408.50,263.40" stroke="#222" stroke-width="1.0" fill="none" stroke-dasharray="2,1.2"/>
<path d="M411.9,255.2 L435.2,255.2 L435.2,269.8 L424.8,269.8" stroke="#333" stroke-width="0.9" fill="none"/>
<text x="438.00" y="265.20" font-size="7.6" text-anchor="start" fill="#333" stroke="#333" stroke-width="0.22"><tspan font-style="italic">P</tspan> &lt; 0.01</text>
<text x="389.80" y="194.70" font-size="6.3" text-anchor="start" fill="#2a2a2a" stroke="#2a2a2a" stroke-width="0.22">H<tspan font-size="72%" dy="1.35">2</tspan><tspan dy="-1.35">O</tspan> Cis</text>
<text x="389.80" y="201.80" font-size="6.1" text-anchor="start" fill="#333" stroke="#333" stroke-width="0.22">(<tspan font-style="italic">n</tspan> = 8, 84 d)</text>
<text x="362.90" y="212.80" font-size="6.0" text-anchor="start" fill="#222" font-weight="bold" stroke="#222" stroke-width="0.22">H<tspan font-size="72%" dy="1.35">2</tspan><tspan dy="-1.35">O</tspan> Plac</text>
<text x="362.90" y="221.10" font-size="5.3" text-anchor="start" fill="#222" font-weight="bold" stroke="#222" stroke-width="0.22">(<tspan font-style="italic">n</tspan> = 8, 68.5 d)</text>
<text x="336.20" y="242.80" font-size="6.4" text-anchor="middle" fill="#e3262e" stroke="#e3262e" stroke-width="0.22">ABX Cis</text>
<text x="336.00" y="250.50" font-size="6.4" text-anchor="middle" fill="#e3262e" stroke="#e3262e" stroke-width="0.22">(<tspan font-style="italic">n</tspan> = 6, 64 d)</text>
<text x="344.80" y="264.50" font-size="6.4" text-anchor="middle" fill="#e3262e" font-weight="bold" stroke="#e3262e" stroke-width="0.22">ABX Plac</text>
<text x="344.60" y="272.20" font-size="6.2" text-anchor="middle" fill="#e3262e" font-weight="bold" stroke="#e3262e" stroke-width="0.22">(<tspan font-style="italic">n</tspan> = 6, 66 d)</text>
<text x="2.40" y="316.20" font-size="15" text-anchor="start" fill="#111" font-weight="bold" stroke="#111" stroke-width="0.22">E</text>
<line x1="58.90" y1="304.30" x2="58.90" y2="408.70" stroke="#444" stroke-width="1.0"/>
<line x1="56.70" y1="408.20" x2="58.90" y2="408.20" stroke="#444" stroke-width="0.9"/>
<text x="55.70" y="410.70" font-size="7.2" text-anchor="end" fill="#333" stroke="#333" stroke-width="0.22">0</text>
<line x1="56.70" y1="360.80" x2="58.90" y2="360.80" stroke="#444" stroke-width="0.9"/>
<text x="55.70" y="363.30" font-size="7.2" text-anchor="end" fill="#333" stroke="#333" stroke-width="0.22">50</text>
<line x1="56.70" y1="313.50" x2="58.90" y2="313.50" stroke="#444" stroke-width="0.9"/>
<text x="55.70" y="316.00" font-size="7.2" text-anchor="end" fill="#333" stroke="#333" stroke-width="0.22">100</text>
<line x1="58.90" y1="408.20" x2="182.50" y2="408.20" stroke="#444" stroke-width="1.0"/>
<line x1="69.80" y1="408.20" x2="69.80" y2="410.40" stroke="#444" stroke-width="0.9"/>
<text x="69.80" y="417.00" font-size="7.2" text-anchor="middle" fill="#333" stroke="#333" stroke-width="0.22">20</text>
<line x1="115.00" y1="408.20" x2="115.00" y2="410.40" stroke="#444" stroke-width="0.9"/>
<text x="115.00" y="417.00" font-size="7.2" text-anchor="middle" fill="#333" stroke="#333" stroke-width="0.22">40</text>
<line x1="160.20" y1="408.20" x2="160.20" y2="410.40" stroke="#444" stroke-width="0.9"/>
<text x="160.20" y="417.00" font-size="7.2" text-anchor="middle" fill="#333" stroke="#333" stroke-width="0.22">60</text>
<text x="0" y="0" transform="translate(33.50,357.50) rotate(-90)" font-size="9.0" text-anchor="middle" fill="#333" stroke="#333" stroke-width="0.22">Percent survival</text>
<text x="120.60" y="429.20" font-size="8.7" text-anchor="middle" fill="#333" stroke="#333" stroke-width="0.22">Time (days)</text>
<path d="M101.50,313.50 L119.50,313.50 L119.50,325.33 L144.50,325.33 L144.50,372.62 L165.70,372.62" stroke="#222" stroke-width="1.0" fill="none" stroke-dasharray="2.2,1.3"/>
<path d="M101.50,313.50 L101.50,354.08 L119.50,354.08 L119.50,367.52 L151.20,367.52 L151.20,381.04 L165.70,381.04" stroke="#333" stroke-width="1.0" fill="none"/>
<path d="M94.40,313.50 L94.40,327.03 L101.20,327.03 L101.20,367.52 L106.30,367.52 L106.30,394.57 L126.20,394.57 L126.20,408.20" stroke="#de4e5e" stroke-width="0.95" fill="none" stroke-dasharray="2,1.2"/>
<path d="M58.90,313.50 L101.50,313.50 L101.50,329.30 L106.30,329.30 L106.30,360.80 L119.50,360.80 L119.50,392.30 L165.50,392.30 L165.50,408.20" stroke="#de4e5e" stroke-width="0.95" fill="none"/>
<text x="85.60" y="373.80" font-size="7.1" text-anchor="middle" fill="#e2404c" stroke="#e2404c" stroke-width="0.22">ABX Cis</text>
<text x="84.90" y="381.80" font-size="7.3" text-anchor="middle" fill="#e2404c" stroke="#e2404c" stroke-width="0.22">(<tspan font-style="italic">n</tspan> = 7, 34 d)</text>
<text x="153.80" y="356.70" font-size="7.4" text-anchor="start" fill="#333" stroke="#333" stroke-width="0.22">H<tspan font-size="72%" dy="1.62">2</tspan><tspan dy="-1.62">O</tspan> Cis</text>
<text x="153.80" y="365.80" font-size="7.3" text-anchor="start" fill="#333" stroke="#333" stroke-width="0.22">(<tspan font-style="italic">n</tspan> = 8, 53 d)</text>
<text x="167.20" y="378.80" font-size="7.4" text-anchor="start" fill="#222" font-weight="bold" stroke="#222" stroke-width="0.22">H<tspan font-size="72%" dy="1.62">2</tspan><tspan dy="-1.62">O</tspan> Plac</text>
<text x="167.20" y="388.00" font-size="7.4" text-anchor="start" fill="#222" font-weight="bold" stroke="#222" stroke-width="0.22">(<tspan font-style="italic">n</tspan> = 7, 42 d)</text>
<text x="167.40" y="399.40" font-size="7.2" text-anchor="start" fill="#e3262e" font-weight="bold" stroke="#e3262e" stroke-width="0.22">ABX Plac</text>
<text x="167.40" y="407.30" font-size="7.5" text-anchor="start" fill="#e3262e" font-weight="bold" stroke="#e3262e" stroke-width="0.22">(<tspan font-style="italic">n</tspan> = 6, 39 d)</text>
<text x="231.20" y="316.40" font-size="15" text-anchor="start" fill="#111" font-weight="bold" stroke="#111" stroke-width="0.22">F</text>
<text x="290.50" y="316.30" font-size="8.3" text-anchor="middle" fill="#333" stroke="#333" stroke-width="0.22">H<tspan font-size="72%" dy="1.76">2</tspan><tspan dy="-1.76">O</tspan> Cis</text>
<text x="343.40" y="316.60" font-size="8.3" text-anchor="middle" fill="#333" stroke="#333" stroke-width="0.22">ABX Cis</text>
<text x="0" y="0" transform="translate(251.20,347.30) rotate(-90)" font-size="8.2" text-anchor="middle" fill="#333" stroke="#333" stroke-width="0.22">53BP1</text>
<text x="0" y="0" transform="translate(251.20,422.10) rotate(-90)" font-size="8.2" text-anchor="middle" fill="#333" stroke="#333" stroke-width="0.22">H&amp;E</text>
<g clip-path="url(#cF1)">
<rect x="255.4" y="322.3" width="59.5" height="58.7" fill="#050805"/>
<g filter="url(#blur1)" fill="#213c25"><path d="M272,322 L304,322 L306,330 L301,338 L303,345 L295,348 L288,344 L280,347 L274,340 L270,332 Z"/><path d="M257,341 L265,338 L272,344 L270,352 L262,355 L257,350 Z" opacity="0.65"/><path d="M301,347 L315,343 L315,366 L307,364 L300,357 Z" opacity="0.7"/><path d="M264,367 L279,364 L289,369 L287,381 L264,381 Z" opacity="0.45"/><path d="M297,371 L315,373 L315,381 L295,381 Z" opacity="0.4"/><path d="M256,322 L266,322 L264,330 L256,332 Z" opacity="0.4"/></g>
<rect x="255.4" y="322.3" width="59.5" height="58.7" filter="url(#nF1)" opacity="0.4"/>
<rect x="300" y="376.3" width="12" height="0.6" fill="#ddd"/><text x="306.0" y="379.5" font-size="3.1" text-anchor="middle" fill="#eee" font-weight="bold">100 µm</text>
</g>
<g clip-path="url(#cF2)">
<rect x="316.6" y="322.3" width="59.3" height="58.7" fill="#040604"/>
<g filter="url(#blur2)" fill="#1c281d" opacity="0.9"><path d="M336,340 L345,333 L356,329 L366,335 L364,346 L356,351 L346,349 L338,347 Z"/><path d="M338,352 L350,352 L357,360 L351,369 L341,365 Z" opacity="0.7"/></g>
<rect x="316.6" y="322.3" width="59.3" height="58.7" filter="url(#nF2)" opacity="0.4"/>
<rect x="361.3" y="376.3" width="12" height="0.6" fill="#ddd"/><text x="367.3" y="379.5" font-size="3.1" text-anchor="middle" fill="#eee" font-weight="bold">100 µm</text>
</g>
<g clip-path="url(#cF3)">
<rect x="255.4" y="382.9" width="59.5" height="58.9" filter="url(#nF3b)"/>
<g filter="url(#soft)"><path d="M309.1 387.2l.1 -.6M288.6 393l.1 .4M288.3 424.8l1.2 -.7M285.2 405.1l1.2 -.4M257.9 428.1l.8 .9M295.8 403.1l.1 1.1" stroke="#300060" stroke-width="1.0" stroke-linecap="round" opacity="1.0" fill="none"/><path d="M272.8 417.8l1.2 -.3M257.5 439.4l.8 -.9M292.4 405.7l.2 .4M298.5 421.9l.2 .4M310.4 409.5l.5 -.5M282.4 393.5l1.2 -.9M280.2 414.4l0 -0M258.8 403.4l.4 -.6M273.6 429.2l.9 .3M305.8 393.7l.5 .4M287.2 439.2l.2 -.1M263.7 400.7l.5 .7M258.5 414.7l.4 .1M271.3 387.2l.2 1.1M274.2 414.5l.2 .8M300.5 421.8l.7 -.6M303.9 401.3l.1 .3M296.2 430.4l.1 -.4M291.1 392.4l.1 .6M256.2 420.2l.5 .7M258.7 440.8l.8 -1M287 405.8l.1 0M275.2 383.2l.8 -.1M282.7 385.3l.2 .4M265.1 433.2l1 .4M310.8 415.6l.6 -.4M259.7 405.6l.2 -.1M302.8 417.3l.1 .9M256.9 437.1l.2 -1.3M255.3 408l.9 -1M284.8 437.3l.1 -.3M276.6 384.4l0 1M304.7 385.8l1.4 -.7M277.9 391.3l.7 -.6M271.9 386.3l.2 -.2M280.3 421.9l.2 .4M295.6 441.3l.8 .9M274.2 411.3l.1 -.2M296.7 409.1l1 .3M295.5 400.7l.6 .5M302.1 440.7l.2 -.6M292.2 435.9l.2 -.6M267.9 408.7l.2 -1.1M292 405.5l.5 .1M295.4 396.3l.5 .1M276.1 438.2l.7 .2M262.8 439.5l.2 -.5M264.5 434.8l1.1 .2M284.9 422.6l.6 .4M271.9 416.4l1 -0M266.4 397l.2 .4M263.2 389.4l.4 .2M258.3 413.6l.2 .2M311.2 431l.7 -.6M274.1 394.9l.7 0M291.1 399.8l.1 .6M282.8 388l1.1 .1M276.8 413.6l.4 -.5M289.7 421.2l.3 -1.3M261.6 403.5l.3 -.7M284.4 398.6l.1 -.2M281.8 405.5l.2 .6M297.1 419.6l.1 -.2M267.9 420.3l.6 -.6M258.7 439.4l.3 -.1M271 402l.4 -1.1M294.5 441.2l1.2 -.5M290.9 438.9l1.5 -.1M280.4 425.7l1 -0M301.7 425.1l.6 -.7M291.7 411.1l.2 0M290 389.1l1 -.4M313.6 416.2l.7 .9M306.7 434l.6 -.8M265.7 441.5l.4 .4M294.2 439.5l.8 -1.1M267.7 405.7l.8 -.1M269.2 397.8l0 1M303 441.4l.6 -.7M273.5 409.6l.7 -.2M296.7 408l0 -1.3M295.2 418.9l.4 -.1M275.6 426l.6 -.1M281.6 391.7l1.1 -.1M300.5 399.4l.5 .6M260.5 404.4l.3 .1M283.6 386.5l.6 -.6M307.7 424.2l0 0M314 413.3l.4 -1M300.9 401.4l.1 -.5M272.3 401.8l.8 .4M296.4 437.8l.6 -.1M262.4 403.5l.1 .2M288.6 411.7l0 -0M298.4 406.1l.1 -.4M296 433l1.3 .7M312.4 397.7l.6 1.2M286.3 405.6l.1 .4M277.1 400.5l1.4 .4M294.2 416.4l.9 -.2M302.9 420l.9 -0M271.4 416.6l0 .5M296.5 437.4l0 .7M293.8 396.5l.8 -.2M274.7 427.1l.4 -1M298.1 412.8l.3 -.9M305.6 436.9l.7 -.2M294.7 390l.2 -.7M285.8 422l.5 -.4M259.6 401.1l0 -0M272.9 437.2l1.4 .4M290.6 414l.6 .2M307.5 411.9l1.4 .3" stroke="#301860" stroke-width="1.0" stroke-linecap="round" opacity="0.5" fill="none"/><path d="M272.8 383.8l1.1 .5M278 391.1l.4 -.3M288.2 407.3l.9 .9M274.9 416.3l0 0M284.2 401.2l.4 -.9M294.2 409.5l.8 -.4M292.7 412.2l0 -.1M262.7 416.1l.7 -.4M296.2 385.2l.4 .1M302.2 387.1l0 -1.2M283.9 411.9l1.1 .5M273 391.8l.7 -.6M303.6 437.8l.5 0M286.9 432.8l0 1.1M302.3 408.4l.1 .2M309.6 434.3l.2 1.3M258.9 441.9l.4 -.5M286.9 396.8l0 0M275.2 412.9l.2 0M282.2 387.9l.4 -.6M306.2 411.5l.1 -.1M287.5 403.3l.5 .5M263.2 434.2l.6 .1M255.5 384.3l.6 .1M282 388.3l.3 .2M300.8 414.4l.1 .2M257.3 385.1l.3 -.1M304.8 441.5l1.2 -.1M307.4 388.6l.6 -.9M294 433.5l.3 .4M264.4 412.2l1.2 0" stroke="#301860" stroke-width="1.0" stroke-linecap="round" opacity="1.0" fill="none"/><path d="M289.4 391l.7 .4M304.8 395.2l.3 .7M260.6 421.2l.4 .5M303.1 392.4l.5 .8M267.3 428.3l.2 .3M290.2 416.1l.4 .8M269.4 424.4l.4 0M283.1 404.4l.1 -.9M257.1 388.7l0 -.1M298.9 386l1 0M313.3 389.9l.4 .4M292.3 440.1l0 -0M268.6 414l0 -.3M310 424.1l.2 0M295.2 424.7l.4 1.3M268.3 430.4l.3 .6M264.4 401.9l.1 -.2M290.1 384.7l.1 -1" stroke="#480060" stroke-width="1.0" stroke-linecap="round" opacity="0.5" fill="none"/><path d="M281.6 419.8l.9 .3M302.9 424l.3 -.1M279.2 424.8l1.1 1.1M280.5 419.2l.1 .4M259.4 399l.4 -1.2M302.6 417.8l1 -.2M298.1 385.3l.5 -.7M301.5 394.4l.7 .7M296.8 402.7l.7 .3M298.7 417.6l.1 .1M303.2 411.5l.6 .4M296.1 407.3l.3 -.7M308.3 405.4l.1 1M280.7 405l.2 -.2M280.8 442.4l.5 -1.4M275.1 429.5l.3 -.5M271.1 392.9l.2 -.2M281.2 424.7l.5 -.3M261.2 398.7l.7 .3M294 440.4l1 .8M295.2 394.7l.8 .2M305.5 411.2l.7 .6M311.4 426.8l1.3 .4M275.5 433.9l.5 -.4M274.7 391.8l0 0M273.1 440.9l1 .2M294.2 415.6l.6 .1M306.9 415.7l1 .4M284.2 384.4l.3 -.6M308.2 435.6l.3 -1.3M283.3 403.9l.7 -0M286.5 402.5l.1 -.8M288.8 430.1l.4 -.6M287.1 397.5l1.2 .9M289.1 417.5l.6 -1.4M309.5 396.5l.4 -.1M307.3 417.9l.1 -1.2M256.1 412.3l.7 .1M300.6 414.6l.2 -.5M276 410.9l.4 .9M259.7 423.4l.6 1.1M303 433.9l.7 .1M275.2 393.7l.5 1.3M256.5 401l.5 -1.2M304.3 391.3l.4 1.2M312.6 392.8l.6 -1.2M273.7 404.3l0 .1M269.4 407.4l.4 -.8M306.4 440.6l.2 -.5M262.7 400l.2 .2M288.7 441.4l.2 .6M259.1 432.8l.1 -.4M293.8 411.6l1.2 -.6M282.1 433l.9 -0M287.1 435.9l.3 -.2M268 419.6l1 .1M258.9 437.9l1 .3M309.5 429.9l.4 .4M310.3 425.4l.9 -.2M284.9 425.3l.2 -.6M285.8 434.5l.8 -.2M258.6 400.9l.1 .3M259.4 439.1l.2 .1M281.4 429.7l.1 .1M303.4 435.1l.2 -.3M272.1 441.6l.1 -.2M285.4 418.5l.8 .7M281.1 403.7l.9 1.1M292.4 423.4l.6 -.4M270.2 430l.8 -1M257.3 430.5l.1 .8M273.7 431.9l.1 .1M269.3 386.4l.5 0M262.7 441.7l.5 -1M256 436.9l.2 -.5M265.9 405.6l1.3 .5M277.1 414.3l.4 -.1M284.9 403.1l1.2 -.1M284.7 392.1l.1 -.2M309.6 417l.1 .1M264.8 437.8l1.5 -.3M275.5 417.7l.7 -1.2M259.2 384l.7 -.4M260.4 404.7l0 -0M259.5 417.6l.1 .2M272.3 411.2l.6 1M275.8 432.5l.7 .7M297.6 391l1 .3M283.5 434.3l0 .4M279.3 429.7l1.3 -.2M259.6 438l.6 .1M257.7 441.1l0 0M308.3 401.9l.3 -1.5M287 417.7l0 -0M299 415.8l.3 .5M293.8 415.1l.5 .6M307.5 383.9l.7 .8M308.6 403.5l.6 -.5M261.3 398.5l.2 .7M291.8 398.9l.4 .2M272.7 430.3l.4 -.2M306.6 435.4l1.1 .6M287.4 388.2l.8 .7M281.5 421.2l.8 -.6M297.1 427.3l.2 .2M301 386.7l.3 .4M296 403.4l.1 .1M302.3 428.5l0 .3M301.4 388.7l.7 .3M265.3 411.2l.8 -.4M313.9 425.7l.7 .2M261.7 431.7l.4 .3M294.2 388.9l.3 1M294.6 386.1l.4 .7M290 389.9l.3 0M261.8 412.4l.7 -.1M261.3 386.6l.6 .4M277.9 399.4l.2 -.1M256.6 399.4l.4 .4M273.5 439.7l.5 -.7M301.2 419.6l0 -.2M306.1 415.5l.5 -.9M287.3 403.9l.3 .9M254.8 416.5l1.3 .8M296.9 417.3l.3 .1M302.4 408.5l.6 .1M292.2 435.7l0 .5M306.7 436.1l.1 1.2M294.1 386.2l.1 .3M306.2 424.7l.1 1.4M262.3 394.1l0 0M312.4 398.3l.7 -1.2M289.4 388.4l.2 .3M311.4 384.4l.2 1.2M309.3 405l.9 .4M307.9 425.5l.2 .3M256.2 393.8l.3 -.5M294.8 440.5l.2 .6M262.5 409.7l0 -0M309.1 395l.2 .4M258.3 394.9l.1 .3M258.2 392.8l0 .7M294.2 431.3l1 -.2M307.3 420.9l0 0M275.1 415.9l.1 -.7M294.6 436.2l.1 -.2M262.8 423.6l.8 -.5M272.9 412l.1 -.2M296.8 439.8l.2 .1M275.6 440.5l.7 .2M270 393.1l.7 .6M272.4 417l1 -.5M289.6 383.4l.2 -.4M255.7 383.4l.7 .1M268 408.7l.9 -.2M271.5 387.3l.3 -.5M295.1 394.7l.7 -.8M277.8 418.2l.4 .5M298.1 416.6l.1 -.8M302.7 411.6l.2 -.1M264.8 410.1l.9 0M269.8 411l.2 .2M261.7 412.1l.7 -.2M280 415.5l0 -0M261.1 395.6l.3 .2M274.4 441.2l.1 1.1M309.6 438.5l.4 -.1M281.3 426.2l.1 .4M273.7 435.1l.1 .1M257.2 400.2l.2 .9M265.4 397.2l.2 .2M302.8 392.9l.3 .8M286.1 398.5l.7 .5M289.3 414.9l.5 -.9M285.6 431.4l.5 .5M261.5 417.9l.7 -.3M304.7 430.1l.9 -.4M273.9 429.6l0 -.2M309.4 400.5l.9 .7M270 388.7l1.3 .1M275 402.9l.7 .4M301.7 396.3l.9 0M298.3 409.2l.7 1M267.3 407.2l1.1 .2M283.2 405.9l.4 -.4M265.8 440.4l.1 -.4M313.1 438.5l.3 -.2M267.1 384.9l.2 .7M259.3 405.9l.7 -1.1M265.3 403.7l.3 -.3M259.6 428.6l1.4 .4M277 433.4l.2 .1M291 415.2l.8 .7M279.4 411.9l1.2 -0M313.5 393.3l1.2 .3M286.6 425.1l.1 -.2M289.9 430.6l.6 0M277.9 410.5l.9 -1.1M275.6 423.3l.7 -.1M308.7 428.5l.1 -0M297 434.3l1.4 .2M307.6 415.7l.8 -.6M312 401.8l.5 .8M290.9 405.3l0 .4M266.4 395.2l0 .4M289.2 429.3l1.3 .5M269.9 399.7l.2 -.2M292.1 420.2l.1 -0M294.1 394.8l.8 -.7M276.8 385.3l.3 -.5M279.1 393.2l.1 -0M256.8 418.2l1.3 .9M257 403.1l.5 -.2M297.9 424.2l.1 -.9M312.7 403l.5 .3M258.5 391.7l.1 .1M263.9 406l.1 -.2M262.6 405.5l.2 .9M287.6 427.8l.1 -.1M293.1 424.8l0 -0M308.9 417.3l0 -.2M262.3 414.5l.3 -.1M311.9 435.8l.1 -.2M309.4 394.5l0 .1M260.5 437l.8 -.2M298.1 426.4l.1 -0M299.5 418.4l.4 .1M301.3 439.3l.2 -.4M308.6 404.7l.7 .6M306.5 416.9l.3 .3M295.9 392l.4 -.2M274.6 424.7l.2 .3M256 429.4l0 -.2M281.5 427.3l.3 -1M308 433l.6 -.7M288.1 437.1l1 -.2M275.4 420.9l.4 -.3M303.9 416.8l0 1.1M296 401.3l.3 .1M296 383.3l.1 -.7M295.8 384.2l1 -.5M311.8 387.6l.4 -.4" stroke="#301860" stroke-width="1.0" stroke-linecap="round" opacity="0.75" fill="none"/><path d="M291.7 384.5l1 .4M258.1 425.4l.2 .4M314.1 430.4l.2 1.1M283.7 417.1l.4 -1.1M307.8 430.4l.2 .3M314.4 434.3l.5 -.2M278.9 396.7l.8 -0M303.8 415.2l.2 -1.2M295.8 417.7l.2 -.4M306.6 441.5l.6 0M291.1 408.1l.1 .1M267.7 408.4l0 -.5M283.1 425.7l.4 -.4M293.8 415.4l.2 -.5M265.1 403.4l.1 -0M272.5 405.4l1.2 -.1M313 408.1l.7 .6M258.3 425.7l0 -.4M281.7 391.8l.7 -.7M286 413.5l1.4 -.7M282.6 415.1l.2 .4M266.3 401l.3 .2M266.2 421.9l.2 -.2M276.7 383.3l.5 .7M306.7 387.6l.4 .2M283.3 425.8l.9 .1M313.9 401.8l.2 -.4M260.9 400.6l.9 -.5M305.4 429.9l.6 -.3M263 436.8l.5 .5M262.8 412.1l.8 .7M261.4 410.1l1.5 -.3M309.1 433.2l.1 -.2M309.8 385l1 .7M285.1 414.8l.6 -.3M282.5 392.9l.1 1.2M281.4 413.6l.3 .6M305.8 386.3l.4 .7M259.5 406.8l.2 .1M268.9 392.6l.2 -.1M313.6 411.3l.8 -.3M300.4 398.3l.4 -.5M274.5 424.3l1.1 -0M264.9 413.9l.6 -.4M282.3 407.6l.6 -.1M309.9 398.7l1.1 .7M303.1 402.5l.1 -.8" stroke="#481878" stroke-width="1.0" stroke-linecap="round" opacity="0.75" fill="none"/><path d="M295.3 435.5l.7 .5M255.7 391.2l.9 -.9M259.2 383.1l.8 1M300.1 386.4l1.5 .3M314.2 389.1l0 .5M313.4 406l.7 -.2M255.3 389.3l1.2 -.1M256.5 404.7l.1 .5M289.5 425.3l.3 -.4M290.8 409.5l.8 .7M269 417.8l.1 -.1M304.2 412.9l.2 -.1M284.2 388.5l1.2 -.3M278.6 418.8l.2 .8M310.7 441.4l.4 -.4M282.4 388.7l1 -.5M259.1 383.6l.4 -.4M260.4 430.7l.1 .6M267.4 408l1.5 .2M297.3 426.1l.1 -.3M283.7 405.5l.1 -0M270.6 418.3l.1 .3M301.8 385.2l.4 -.3M297 409.7l.6 .1M263.1 436.5l.5 -0M303.2 437.8l.3 -1M269.4 423.2l.7 -1.3M269.5 388.1l.9 .5M297.4 395.9l.2 .1M291.7 392.2l.7 .6M292.8 433.7l.9 .6M286.1 382.7l1.1 .7M259.1 408.4l.7 -.7M286 433.7l1.4 .3" stroke="#480060" stroke-width="1.0" stroke-linecap="round" opacity="0.75" fill="none"/><path d="M292.4 438.8l.6 -.8M292.2 434.2l.2 .6M262 427l.1 -1M297.2 408.9l.1 -.3M288.4 433l.5 -1M263.6 429.8l1.1 .4M275.3 385.4l.2 .2M268.1 403.8l.9 .6M299.6 397.9l.4 -0M312.6 441.3l.7 .3M273.7 432.4l.2 .7M309.1 430.7l1.1 .4M313.9 425.2l.1 .4M283 397.4l.6 -.4M293.9 433.6l.1 -.5M273 425.4l.3 1.3M276.4 438.9l0 -.1M273.2 441.3l.1 .2M280.4 429.4l.3 -1.5M258.9 436.5l.2 -.2M309.4 384.8l.1 .2M264.2 393.9l.2 -.7M290.9 415.3l.3 -1M285.4 431.7l.5 .7M314.4 428.5l.4 -.2M281.8 383.1l.2 .3M305.7 393l.2 -.1M260.7 413.4l.4 1.1M264.5 419l1 -.9M278.8 396.4l.3 .4M313.3 417l.6 .3M276.4 434.9l.1 -.1M279.9 396l.1 1.4M272.2 396l0 .2M285.5 412.1l.2 .2M281.8 426.2l.6 -0M256.9 391.1l.6 -1M313.9 406.6l.3 -.7M307.6 435.4l.1 .4M274.5 414.7l0 .3M296.5 391.7l.5 1M310.9 430.6l.1 -0M276 428.7l0 -.1M277.4 423.9l.1 -1.3M299.2 424.1l.9 1.2M298.9 437.8l.7 .5M282.3 386.7l.1 -1M266.5 396.9l.2 .8M266.7 403.9l1 -.9M301.4 419.4l.5 -.8M299.1 398.8l.7 -1.4M258.3 410.4l.1 -0M264.1 416.4l.9 -.4M311.9 389.3l0 -.5M302.5 425.9l.1 .6M261.3 396.7l.1 -.1M303.8 437.1l0 1.4M310.1 410.4l0 0M268.5 406.1l.8 -.6M273.9 439.7l.7 -.5M283 398.2l.7 -.8M295.3 423.6l.2 0M286.4 385.6l.9 1.3M271.3 425.6l0 .8M257.1 404.7l.2 .4M312.3 396.8l.2 .8M257 438.7l.4 .1" stroke="#301878" stroke-width="1.0" stroke-linecap="round" opacity="0.75" fill="none"/><path d="M295.8 427.6l.4 1.5M273.2 387.1l.9 -1M312.2 403.7l.7 -.7M268.9 407l.5 .2M312.4 420.9l.3 .9M258.8 408.1l1 -.6M310.3 405.1l.8 .6M278.6 415l.9 .9M276.3 415.1l.8 1.4M277.8 417l.2 .3" stroke="#301860" stroke-width="0.5" stroke-linecap="round" opacity="0.5" fill="none"/><path d="M265.2 400l0 0M297.9 436.4l.3 .2M309.4 436.3l.6 -1.4M306.6 389l.3 1.2M271.8 424l.1 -.3M297.2 400l.7 .5M278.6 406l.6 .1M274.1 427.9l1.1 .3M304.8 418.6l.6 .5M294.1 433.7l.7 -.3M300.4 395.1l.2 -.1M274.4 393.7l.4 .1M296.7 405.8l.7 .4M313.1 399.6l.3 -.1M314.2 440.3l.7 .8M274.9 432.9l.9 -.2M282.4 384.5l.1 .5M269.7 382.9l.2 1.1M258.8 396.3l.3 -.2M308.8 400.3l1.2 -.2M288.8 409.1l0 0M297 423.5l.5 1M304.9 414l.3 .2M302.5 409.4l0 -0M283.4 437.4l.7 .7M300.6 413.3l.1 -.4M283.9 412.9l.6 .2M307 404.6l0 -.2M257.7 431.6l.8 .1M272.3 416.1l.4 1.1M313.1 420.7l.1 .7M263.3 407.9l1.2 0M308.3 420.4l.6 .4M307.2 436.2l.1 -.5" stroke="#301878" stroke-width="1.0" stroke-linecap="round" opacity="0.5" fill="none"/><path d="M269.5 440.5l.1 .2M294.1 417.8l0 0M255 396.1l1.3 -.5M287.2 439.3l.6 .3M258.4 440.1l1.4 -.6M266.4 426l.9 .6M310.1 421.8l.6 .9M307.9 440.9l.5 -.5M270.7 385.2l.1 -.3M274.3 396.6l0 0M294.4 425.7l1 .6M313.2 436.7l.6 -.4M296.2 431.5l1 .3M293 397.6l.5 -.8M314.1 386.9l0 .2M308.5 414.6l1 .4M314.2 394.3l.7 -.6M264.2 398.9l.4 1.1M274.6 416.8l.8 .9M284.2 432.7l1.3 -.1M293.5 386.5l1.1 .7M300.3 432.4l1.1 .1M291.4 398.6l.2 .6M271 431.1l.8 .6M298.1 427l.5 1.1M300.9 431.5l.4 .4M268.3 441.1l.2 -0M278.2 413.8l.5 -.5M261.5 395.5l.2 -1.1M263.9 406.7l.1 -.6M287.4 427.9l.9 .3M299 395.9l.5 .7M277.9 391.7l.1 .6M270.4 391.6l.8 1.3M312.1 410.1l.2 -.7M273.2 428.5l.4 -1M279.4 424.4l.3 .2M297.8 406.3l1 .6M302.2 426.2l.8 .7M306.4 410.5l.2 .5M314.2 441.1l.3 .1M307.9 430.5l.3 -1.2M257.4 392.7l1.2 -.9M286.5 415.2l.1 .1M281.5 407.6l1.1 .7M286 423.8l.4 .4M288.6 388.3l.7 -1.2M284.6 384.6l.7 -.8M314 424.3l.2 .2M262.2 440.2l0 0M313.7 412.6l.1 -.2M275.9 436.6l.1 .9M296.1 415l.9 .8M301.7 424.8l0 -0M262.5 418l.3 -.2M274.6 412.2l1 -.2M270 392l0 .6M263.3 429.1l.2 -.2M295.9 427.7l.4 -.4M258.7 433.4l0 -0M282.3 388.4l.3 -.3M304.4 433.5l1 -.3M302.6 427.6l0 .4M289.8 382.8l0 1.2M307.7 416.1l1.2 0M309.8 427.4l0 .4M261 417.7l.5 .5M302.6 419.1l.9 .4M310.3 402.1l.4 -.3M274.2 402.1l.3 .3M266.6 404l.5 .2M312.3 422.8l0 -0M275.9 385.8l.9 -.7M275.2 424.6l.7 -.8M261.1 400.7l.6 -1.2M273.6 439.6l.7 .8M272.5 418.1l.5 -.4M284.3 389.9l.4 .5M263 403.6l1 -.9M305.9 400.3l.3 .1M277.6 395.4l1 0M274.6 396.4l.1 .4M280.6 428.3l.8 -.9M294.6 413.2l0 -0M291.5 391.1l1.2 -.7M313.7 421.8l1 -.3M260.1 396.7l1.1 -.3M303.5 420.8l1.1 .4M266.3 424.2l.8 -.9M303.2 399.5l1.1 .4M277.2 426.6l.9 -.2M297.9 385.6l1 .1M290.9 385.5l.7 .2M269.7 422.5l.6 0M289.9 413.9l.2 .3M265.3 389.5l.2 1.3M308.3 438.9l.5 -.1M300.9 418.3l.8 1.1M282.1 430.4l.5 .9M290 438.3l.6 .9M261.8 439.7l.3 .2M274.2 420.5l.2 -.1M297.6 397.9l.8 .3M276.1 438.3l.1 -.3M305.2 401.6l.9 .5M265.9 399.3l.1 1.2M268.7 429.2l.3 .5M304.8 384.4l0 -.8M261.3 425.7l.5 .6M305.9 422l.2 .7M306.2 410.6l.5 1.3M302.7 431.4l.1 1M275.9 419.6l0 0M265 384.2l.7 -.3M264.2 403.7l1 -1M307 431.7l.6 -.7M281.3 424.4l.5 .9M281.4 390.6l0 .7M311.1 413.9l.4 -.4M306.6 422.7l.1 0M261.8 405.7l.4 -.8M295.5 424.9l0 .6M277.3 429.8l.1 .8M264.4 426.1l.2 .3M293.6 405l.3 -.2M296.1 415.5l.2 -.1M287.5 434.8l.1 -.1M284.5 422.6l.6 -1.1M262 415.3l.4 -.6M261.4 390.3l.2 .8M298.8 383.4l.2 -.7M281.5 384.8l.3 -.5M276.3 424.3l.1 .9M267 429.8l.3 .1M283.8 388l.1 .2M297.1 430.2l.9 -.9M294.8 406.3l.9 -.8M282.9 392l.4 -.5M264.4 399.2l.2 .9M288.8 418.3l.1 1M279.6 432.1l.6 1M270.1 429.6l.4 -.1M277.5 407.5l.5 .1M288.2 408.2l.6 .6M303.6 410.7l1.1 -.2M268.1 393.8l.1 -.3M287.5 427.1l0 -.5M273.2 396.5l.4 .7M313.2 439.9l.6 -.6M268 412l1.1 -.2M283 426.3l1 -.2M302.8 416.3l0 0M312.9 402.4l.1 .5M305.3 415.4l0 .1M289.1 421.3l.9 -1M261.6 405l.5 -.4M282.9 439.6l.1 -0M275 396.6l.2 -.1M270.6 387.2l.5 1M260.9 403.2l.7 -.3M275 395.3l.5 -.7M305.1 413.5l.7 0M298.6 402l1.1 -.4M285 421.1l.5 -.5M277.2 387.5l.7 0M269.1 407.4l.1 -.4M266.2 422.2l.2 -.8M314.4 440.5l0 -.6M278.1 422.4l1.1 .2M295.8 396.9l.1 -.7M294.4 385.8l.7 .1M289.2 403.4l.8 .9M304.5 408.3l.4 -.1M276.8 420.4l.1 -.1M302.5 433l.3 -.7" stroke="#481860" stroke-width="1.0" stroke-linecap="round" opacity="0.75" fill="none"/><path d="M308.3 411.6l.9 -.8M313.7 433.3l.8 .7M277 418.3l.6 .7M271.8 412.9l.2 -.4M272.7 435l0 -.2M269.5 432.6l0 -0M285.4 399.5l0 -1M260.5 427.9l.5 .4M303.5 400.5l.6 -.7M291.9 389.9l.7 .5M303.7 391.5l.3 -.4M270.1 394.2l.8 -1.2M264.1 403.9l.8 -.2M288 430.4l.6 .3M271.7 434.4l.7 .2M289.2 408.1l1.1 .2M290.9 383.4l.1 -.1M267.5 383.8l.1 .2M272.3 422.8l.4 -.9M279.8 389.8l.3 -0M256.6 437.5l.1 -0M285.8 429.4l.2 -.1M313.3 384.4l.1 1.3M274.8 402.1l.8 -.2M272.2 395.1l.1 .2M292.1 410.8l.9 -.8M256.1 421l.2 .1M274.8 383.6l0 -0M269 413.2l.3 -1.6M272.1 412.5l1.1 .4M283.8 412.7l.4 -.2M278.4 388l1 -0M274.4 383.5l.6 .3M288.3 407.2l1.2 .8M283.5 421.6l.8 -.1M295.3 410.6l.8 1.4M300.9 419.2l0 0M264.4 387l0 .3M258.6 402l.9 .3M264.3 389.3l.4 .1M309.6 426.6l.9 .2M260.5 409.9l.1 -.5M264.9 417.9l.9 -1M306.3 416l.4 .2M273.4 422.5l.3 .8M291 407.2l.3 -1" stroke="#300060" stroke-width="1.0" stroke-linecap="round" opacity="0.75" fill="none"/><path d="M277.4 430.7l.2 -.2M279.2 386.8l.3 -.7M296.1 413.8l.2 -.6M282.6 407.7l1.2 .8M264.2 424.3l0 -0M293.6 387.3l.1 -.1M256.8 408.8l1 .4M256.9 389.7l.4 -.1M257.1 406.2l.1 1.1M283.4 423.6l.1 .9M296.9 417.1l.2 .5M306.9 386.6l.2 .4M259.9 396.5l0 .3M264.1 423.7l.7 -.2M303.6 427.3l.9 -0M297.1 422.1l.1 -.5M293.6 398.1l.9 -.8M305.7 420.6l1.2 -0M293.8 441.3l.3 .5M276.7 383l.5 .4M265.2 427.4l.6 -.9M286.4 423.6l.7 1M280.7 392.9l.6 -.4M276.1 407.6l1.4 -0M305.9 411.4l.7 .7M260.1 395.6l.6 .3M283.1 403.9l.1 .1M267.1 441.8l.5 -.8M259.6 392.6l.9 -.8M303.4 412.4l.4 -.5M285.1 403.4l.5 .5M264.3 400l.7 .7M299.9 441.1l.4 .6M261.6 429.9l.6 .7M282.2 392.8l.6 -.4M264.1 412.7l.5 .4M286.2 390.8l0 -1.2M273.9 404.1l1.1 .2M266.2 399.6l.5 -.5M288.2 435.7l.3 .4M285 400l.1 -.5M259.3 409.7l.6 .8M258.7 431.9l.1 .2M281.5 411.7l1.1 -.1M313.9 437l.1 -1M301.3 382.4l.7 1M305.3 412.4l.3 .1M275.8 387.1l1.2 .4M301.9 404.4l.4 -.6M294.6 425.1l0 -.2M274.7 414.4l1 .6M259.1 405.7l0 -.1M293.2 422.6l0 -.1M295.3 396.1l0 -0M258.6 397.3l1 -.8M292.7 426l.8 -.5M300.5 434.5l.5 1.3M308.6 428.6l.3 .3M285.4 440.2l.4 -.4M305.7 437.4l.5 .4M269.2 392.3l.9 -.7M281 408.1l.4 .2M298.5 419.6l.2 .8M258.1 427l.3 .3M262.4 427.1l.7 .4M313 432.2l.8 1.2" stroke="#481860" stroke-width="1.0" stroke-linecap="round" opacity="0.5" fill="none"/><path d="M294.4 417.4l1.2 .3" stroke="#480078" stroke-width="1.0" stroke-linecap="round" opacity="0.5" fill="none"/><path d="M297.7 412.8l0 -.7M278.8 401.8l.4 -.4M305.9 386.9l.2 .6M284.9 385.3l.7 1.3M306.5 419.6l.2 .8M256.9 400.8l1.4 -.2M278.1 432l.4 .5M305.2 394.3l.9 -1.4M295.9 425.3l.4 -1.2M295 402.2l1.2 -.8M294.3 398.3l.4 -.1M308.5 431.4l.9 -1.3M281.5 411.6l.8 .2M267.1 441.5l.4 -.5M276.5 414.2l1.3 -.3M313.3 411l1.5 .2M288.9 391.6l1.4 .6M262 386.7l1.2 .4M307.2 388.1l.2 -.4M275.2 422.6l1.3 -.1M258.1 430.1l.1 .5M300 412.3l.9 .2M268.9 412.8l1.5 .1" stroke="#301860" stroke-width="0.5" stroke-linecap="round" opacity="0.75" fill="none"/><path d="M280.8 398.3l.8 .7M290.9 428.4l.1 -.6M290.9 423.6l.1 .2M264.6 399.7l1 .2M260.6 438.5l0 0M304.7 414.8l.6 -.3M262.5 395.3l.8 -.1M293.6 415.3l.3 .7" stroke="#481860" stroke-width="1.5" stroke-linecap="round" opacity="0.5" fill="none"/><path d="M301 426.2l.2 .4M279.8 408.6l.6 -.4M266 420.6l0 -0M284.2 423.9l.6 .3M288.5 385.7l.5 .8M311.2 440.4l.8 -.1M274.3 437.1l.2 -.7M313.5 384.2l.1 .1M258.5 391.5l0 0M295 385.9l.1 .2M264.5 422.7l0 0M305.5 403.5l.6 -.4M260.3 401.9l.4 .1M282.1 427.4l0 -0M282.2 411.3l.3 -.3M291.2 411.4l.1 .1M263.3 396l.5 .2M274.1 397.7l.8 -.7M286.8 430.4l.8 .2M313.9 426.5l.2 -.1M276.5 398.8l0 .9M268.2 415.8l.1 -.1M295.6 431.4l.8 .5M277.4 428.9l0 .1M259.8 424.4l.5 .9" stroke="#301860" stroke-width="1.5" stroke-linecap="round" opacity="0.75" fill="none"/><path d="M309.2 387.5l.1 .2M289.4 384l.2 -.8M284.9 393.5l.4 .2M273.7 397.6l.2 -.8M305.6 387.1l0 -0M304.7 405.3l.5 -.8M308 427.8l1.2 -.4M258 397.6l.2 -.1M262.1 436.7l0 -.1M314.4 391.5l.6 .2M259.9 382.4l.8 1M270.6 433l.7 .4M294 411.7l.4 .8M308.2 401.2l.2 -.3M258.5 408.6l.6 .3M304.3 431.9l.8 -.3M264 396.5l1.1 .4M279.7 418.5l.4 -.7M287.7 431l.4 .5M313.9 437.2l0 -.9M288 422.4l.4 .6M311.9 409.7l.2 -.2M291.6 408.5l.1 0" stroke="#300060" stroke-width="1.0" stroke-linecap="round" opacity="0.5" fill="none"/><path d="M272 403.2l0 .1M309.3 440.7l.3 -.8M269.9 411.5l.2 -.4M299.7 424.5l.5 0M307.6 413.2l0 0" stroke="#480060" stroke-width="1.5" stroke-linecap="round" opacity="0.75" fill="none"/><path d="M255.9 406.9l.2 -.2M298.2 432l1.4 -.3M284.4 400.5l.5 -.5M314.5 416.5l.3 -.2M309.9 422.5l.7 -.1M271.7 386.5l.8 -.6M268.3 433.2l.3 -.2M271.6 389.9l.8 1M276.2 426.8l.3 .4M258.7 432.4l.3 .1M299.8 407.1l0 0M302.5 425.7l.2 -.6M300.7 402.8l1 -.6M270.3 427.1l.1 -.7" stroke="#481860" stroke-width="1.0" stroke-linecap="round" opacity="1.0" fill="none"/><path d="M297.5 430.2l.2 .1M286.5 418l.7 -.7M259.2 422.9l.5 -.2M273.9 411.2l0 -0M290.1 440.8l0 -0M301.6 386.6l.5 -.3M263.1 395.3l.4 1M304.8 419.7l0 0M263.7 412.9l.1 -0M314.3 403.5l0 -0M310.7 386.9l.2 .2M268.3 432.3l0 .9M312.4 420.8l0 -.3M284.2 392l0 -.5M299.5 439l.7 .3M277.3 383.4l.1 -.3" stroke="#481860" stroke-width="1.5" stroke-linecap="round" opacity="0.75" fill="none"/><path d="M306.7 435.4l.1 -0M259.5 389.7l0 .1M283 392.6l.1 -1.1" stroke="#300078" stroke-width="1.0" stroke-linecap="round" opacity="0.5" fill="none"/><path d="M286.9 385.3l.4 .3M307.2 413.5l.2 -.3M306.1 410.6l.5 1M313.8 388.5l1 -.9M269 419.9l.8 .7M309.4 408.1l.3 -.3M305.5 432.9l.5 -.7M283.8 404.1l.2 .2M289.2 397l.1 .4M304.2 410.3l.4 .8M312.6 388.9l1 -.2M306.4 386.5l.4 -.5M258.1 400.7l.6 -1.1M297.9 399.6l.3 .2" stroke="#481878" stroke-width="1.0" stroke-linecap="round" opacity="0.5" fill="none"/><path d="M258.7 409.8l1 .2M314.1 420.5l.2 -1.4M274.1 426.8l.5 -.5M288.8 401.6l1.2 .8M258.1 424.6l1.1 -1.2M282.1 397.6l1.4 -.8M255.1 413.4l1.4 .7M277.4 440.5l1.5 .2M263 418.7l.1 1.5M306.8 434.2l1.3 -.9M285.4 407.6l.9 1.1M309.9 395.7l.5 -.3" stroke="#481860" stroke-width="0.5" stroke-linecap="round" opacity="0.5" fill="none"/><path d="M293.3 417.9l1.5 -.3M284.9 388.1l.6 1M256.8 415.8l1 -.5" stroke="#300060" stroke-width="0.5" stroke-linecap="round" opacity="0.5" fill="none"/><path d="M282.7 423.8l1.2 .1M296.8 394.7l.7 .4" stroke="#480060" stroke-width="1.0" stroke-linecap="round" opacity="1.0" fill="none"/><path d="M304.4 437l.9 -.5M296.7 427.1l0 0M266.3 432.6l.5 .2M261.8 383.7l.1 .2M302.9 413.5l.2 -.4M268.6 399.7l.3 -.8M274.6 395.4l0 0M272.1 390.4l.3 .8" stroke="#301860" stroke-width="1.5" stroke-linecap="round" opacity="0.5" fill="none"/><path d="M279.8 404.8l.6 1.5M296.1 420.8l.7 1.1M293.3 408.2l.3 1.2" stroke="#481878" stroke-width="0.5" stroke-linecap="round" opacity="0.75" fill="none"/><path d="M266.7 390.2l0 -.9M278.7 411.2l.1 -.7" stroke="#301860" stroke-width="0.5" stroke-linecap="round" opacity="1.0" fill="none"/><path d="M266.6 441.6l.4 -.4M303.9 419.7l.9 .4" stroke="#301878" stroke-width="1.5" stroke-linecap="round" opacity="0.5" fill="none"/><path d="M257.8 432.2l1.4 .7M269.8 427.1l.7 .2M297 410.2l.4 1M313.6 436.3l.7 .3M276.2 388.1l.6 1.1" stroke="#301878" stroke-width="0.5" stroke-linecap="round" opacity="0.75" fill="none"/><path d="M275.3 412.7l1.1 1M267.6 392.5l1.5 .2M308.6 409.2l.6 .3" stroke="#481878" stroke-width="1.0" stroke-linecap="round" opacity="1.0" fill="none"/><path d="M313.6 404.5l1.1 -0M300.9 427.8l0 0" stroke="#481878" stroke-width="1.5" stroke-linecap="round" opacity="0.5" fill="none"/><path d="M289.3 385l.8 -.6M266.7 390.7l.7 .3M277.4 418.1l.4 -1.5M295.1 439l1 .1M279.9 404.3l.9 -.5M264.5 440.5l1.5 .3M305.7 420.9l.4 .9M307.4 429.6l.2 .7M303.4 391.3l.5 1.5" stroke="#300060" stroke-width="0.5" stroke-linecap="round" opacity="0.75" fill="none"/><path d="M273.3 430.6l.5 -.4M262.7 421l.9 1M280.5 396l.6 .4M260 416.5l.5 -.2M292.9 387.9l.5 1.1M258.7 415.8l1.3 -.3M261.5 401.4l.6 -.1M302.7 407.6l.8 .8M255.6 389.2l.8 -.4M310.8 441.6l1 -1.1M271.7 413.8l1.4 0M305.6 390.9l.5 0M286.4 415.6l1.1 .2M312.9 402.7l.6 .4M305.7 398.9l.3 .7" stroke="#481860" stroke-width="0.5" stroke-linecap="round" opacity="0.75" fill="none"/><path d="M301.2 420.1l0 -0M273.2 414.4l.7 .8" stroke="#481860" stroke-width="1.5" stroke-linecap="round" opacity="1.0" fill="none"/><path d="M310.9 428.3l.5 .1M303.3 410.8l1.3 .2M272.5 424.3l.3 -1.2M288.6 426.8l0 .4M305.4 396.8l1.1 .4M276.3 431.8l1.2 -.2M307.8 398l.1 -.4" stroke="#301878" stroke-width="1.0" stroke-linecap="round" opacity="1.0" fill="none"/><path d="M265.1 436.8l.1 -.3M278.7 403.7l0 -0" stroke="#300060" stroke-width="1.5" stroke-linecap="round" opacity="0.5" fill="none"/><path d="M305.3 436.7l0 .4" stroke="#481878" stroke-width="0.5" stroke-linecap="round" opacity="1.0" fill="none"/><path d="M299.9 415.6l1.1 1.2" stroke="#300060" stroke-width="0.5" stroke-linecap="round" opacity="1.0" fill="none"/><path d="M305.8 404.9l0 0M307 394.1l.7 -.8M264.7 438.4l.2 -.3M295 436.5l.2 .4M280.7 428l0 -0M263.9 431.8l1.1 -.2M289.2 401.9l0 0M271.2 388.1l0 0" stroke="#301878" stroke-width="1.5" stroke-linecap="round" opacity="0.75" fill="none"/><path d="M305.1 414.6l.1 -.4M303.4 430.6l.1 .1M304.6 422l.2 .4M293 409.8l.1 .1M310.5 440.2l0 -.1" stroke="#300060" stroke-width="1.5" stroke-linecap="round" opacity="0.75" fill="none"/><path d="M267.9 389.8l0 -0" stroke="#480078" stroke-width="1.5" stroke-linecap="round" opacity="0.75" fill="none"/><path d="M254.8 391.7l1.2 -.9M311.7 416.5l.1 1" stroke="#480060" stroke-width="0.5" stroke-linecap="round" opacity="0.5" fill="none"/><path d="M311 414l.1 .7M274.6 387.7l.5 .9M289.6 409.6l.7 -1M299.9 433.5l.2 -.5M294.4 417.9l.2 .8M313.9 422.2l.1 .2M261 408.2l.9 -1.1M282.5 421.4l.4 .5" stroke="#480078" stroke-width="1.0" stroke-linecap="round" opacity="0.75" fill="none"/><path d="M287.9 438.6l1.1 -.3M299 384.9l.5 -.1" stroke="#300078" stroke-width="0.5" stroke-linecap="round" opacity="0.75" fill="none"/><path d="M277.4 441.6l.3 -.2" stroke="#480060" stroke-width="1.5" stroke-linecap="round" opacity="0.5" fill="none"/><path d="M264.7 388.8l.9 .3M277.8 424.5l.2 1.1" stroke="#481878" stroke-width="1.5" stroke-linecap="round" opacity="0.75" fill="none"/><path d="M266.4 383.2l.7 .6M303.8 384.6l.3 -.9" stroke="#481860" stroke-width="0.5" stroke-linecap="round" opacity="1.0" fill="none"/><path d="M297.9 385l.2 -1.3M314.2 437.3l0 .2M313.9 387.8l.6 1.5M268.8 394.6l.7 0M267.1 439.1l.5 -.7M302.7 416.3l.1 .3M296.6 390.8l0 -0M291.6 432.6l.2 1" stroke="#300078" stroke-width="1.0" stroke-linecap="round" opacity="0.75" fill="none"/><path d="M274.1 439.1l.3 1.5" stroke="#300078" stroke-width="0.5" stroke-linecap="round" opacity="0.5" fill="none"/><path d="M289.4 439.5l.9 -.2M259.7 384.9l0 -.7M268.2 383.5l.5 .2" stroke="#301878" stroke-width="0.5" stroke-linecap="round" opacity="0.5" fill="none"/><path d="M300.3 388l.5 -.1M283.6 393.2l.5 .4M291.5 423.8l1.1 -.9M304.7 386.2l.1 1.1" stroke="#480078" stroke-width="1.0" stroke-linecap="round" opacity="1.0" fill="none"/><path d="M294.2 424.3l.1 -.4" stroke="#300078" stroke-width="1.5" stroke-linecap="round" opacity="1.0" fill="none"/><path d="M279.7 432l.3 1.5" stroke="#481878" stroke-width="0.5" stroke-linecap="round" opacity="0.5" fill="none"/><path d="M298.8 393.4l.5 -1.4" stroke="#301878" stroke-width="0.5" stroke-linecap="round" opacity="1.0" fill="none"/><path d="M313.7 385.7l0 -0M290.4 413.1l.5 .5M261 410.7l0 0M291.3 412.4l.5 .1M263.3 391.7l.6 .8M307.5 402.3l0 0M258.3 408.7l.2 .1M289.9 428.2l.1 .1M301.5 408.5l1 .3M306.4 425.1l.1 .1M305.9 411.6l.1 -.4M314.2 385.2l0 -0M290.8 387.8l.3 -0" stroke="#a878c0" stroke-width="1.5" stroke-linecap="round" opacity="0.75" fill="none"/><path d="M297.4 386.8l.8 1.1M294 441.1l.3 1.1M301.1 410.5l.7 0" stroke="#9060c0" stroke-width="1.0" stroke-linecap="round" opacity="0.75" fill="none"/><path d="M281 417.7l.9 .3M256.5 430.2l.2 -.1M314.6 390.4l0 -.5M258.9 421.6l.5 -.3M267.4 436.6l.4 .1M313.9 399.5l0 .1M278 401.1l.5 .9M307.7 438.8l.3 -.8M271.3 427.2l.1 -.5M300.4 439.2l.7 .5M287.5 422.2l.5 -.1M272.8 384.2l0 0M312.9 395.7l0 -.3M276.3 396.3l.3 -.9M281 415.9l.7 -.7M269.7 401.9l.4 -1M276.7 387.6l1.1 -.1M271.8 431.4l.9 -.9M295.5 413.1l.9 .5M271 404.4l.1 .1M272.7 388.7l.1 -.3M286.9 388.7l.6 -.4M269 440.8l1.1 -.3M296.8 441.5l1.1 -.1M277.1 401.3l.7 -.2M295.5 396l.8 -.2M262.9 429.7l.5 1M282.1 440.4l1 -.7M296.3 405.1l.2 -.1M294.8 424.5l.4 -.9M281.7 394.3l.4 .4M292.7 388.6l0 -.1M263.7 397.3l.8 -.2M311.6 426.5l.1 0M262.5 423.1l1 .7M298.7 384l1 .8M305.5 420.4l.9 .3M282.5 392.3l.9 -.8M313.8 406.3l.2 .2" stroke="#a878c0" stroke-width="1.0" stroke-linecap="round" opacity="0.75" fill="none"/><path d="M273.2 419.4l.7 -.1M278.5 429.6l.6 1.4M277.3 413.5l0 -0M266.7 439l.6 .3M256.4 383.3l.1 -0M311.7 389.8l.1 -.6M296.7 384.5l0 .2M272.6 425.7l.2 .7M270.5 441.6l.2 -.1M309.8 427.4l.9 -.4M261.5 440.2l.7 .4M306.8 409.3l.2 .3M279.4 428.9l1.2 -.6M266.1 429.1l.4 -.2M306.4 398.5l.4 1M256.4 420.5l.7 -1.1M282.9 424.3l0 .3M306.9 437.9l.4 -.1M259.6 395.4l.4 .3M306.6 400.8l.3 .1M289.3 392.4l.3 .4" stroke="#a878c0" stroke-width="1.0" stroke-linecap="round" opacity="0.5" fill="none"/><path d="M282.3 419.4l.1 -.3M300.6 414.7l0 -0M296.8 401.9l.3 -.9M313.4 388.8l.9 .3M261 415.9l0 0M269.9 400.5l.6 0M271.2 416.1l.2 .5M285.6 417.3l.7 -.7" stroke="#a878c0" stroke-width="1.5" stroke-linecap="round" opacity="0.5" fill="none"/><path d="M295.7 391.1l0 0M306.5 418.8l.3 -.5M311 439.9l.2 .8M271 426.7l.9 -.2M279 400.4l.6 -0M306.4 430.2l.8 1.3M256 434.8l.3 -.5M261.3 419.5l.1 -.4M281.5 441.3l.1 0M287.1 423.9l.1 -.4M265.5 383.4l.4 -.4M306.6 436.4l.1 .4M268.6 388.3l.5 -.1M276.4 389.7l.1 -.4M301.6 440.5l1.1 .2M310.4 413.3l.4 -.1M261.3 401.6l.5 -.5" stroke="#a860c0" stroke-width="1.0" stroke-linecap="round" opacity="0.75" fill="none"/><path d="M285.2 408.7l.3 -.2M265.5 399.2l.1 1M307 428.8l.8 -.1M290.9 429.2l0 -0M271.8 408.8l.1 .9M255.7 439.4l.2 .8M305 440.8l.1 -.8M281.9 386.4l0 0M263.5 427.5l0 0" stroke="#a860c0" stroke-width="1.0" stroke-linecap="round" opacity="0.5" fill="none"/><path d="M274 392.9l.8 -.4M286.9 408.5l0 -0M304.5 410.7l.2 -.1" stroke="#9078c0" stroke-width="1.5" stroke-linecap="round" opacity="0.75" fill="none"/><path d="M313.5 392.9l0 0M273.9 434.9l.3 -.1M294.9 421.8l.1 -.2M284.1 421.7l.4 .7" stroke="#9078c0" stroke-width="1.5" stroke-linecap="round" opacity="0.5" fill="none"/><path d="M285.3 423.6l.3 1.1M311.1 415.9l.5 -.4M300.7 421.3l.1 0M282.9 414.1l.1 -.5M259.3 421l.8 .5M271.7 399.4l.1 -.2M262.4 432.1l0 0M269 427.1l1.2 0" stroke="#9078c0" stroke-width="1.0" stroke-linecap="round" opacity="0.75" fill="none"/><path d="M305.7 403.9l.1 -.8M298.6 406.2l.5 1M280.6 386.8l.1 .2M292.9 441.1l.9 .1M285.9 388.1l.8 -1.1" stroke="#9078c0" stroke-width="1.0" stroke-linecap="round" opacity="0.5" fill="none"/><path d="M275.8 384.2l1 0" stroke="#9078c0" stroke-width="1.5" stroke-linecap="round" opacity="1.0" fill="none"/><path d="M278 426.7l0 .6M287 416.7l.2 -0M296.2 395.6l.6 -.3M290.5 412.2l0 -0M302.7 441.5l.6 -0M286.5 439.5l0 0M299.3 429.9l.1 .1M300 411.2l.6 .5M297.9 412.8l.2 1" stroke="#a860c0" stroke-width="1.5" stroke-linecap="round" opacity="0.75" fill="none"/><path d="M291.5 399.3l.6 -.5M270.6 432.7l.2 -.7M268.5 424.5l.5 .1M287 399.2l.9 .2M307.9 414.1l.5 -.3" stroke="#a878c0" stroke-width="1.0" stroke-linecap="round" opacity="1.0" fill="none"/><path d="M298.9 395.8l.4 .9" stroke="#9078c0" stroke-width="1.0" stroke-linecap="round" opacity="1.0" fill="none"/><path d="M267.5 421.2l0 0" stroke="#9060c0" stroke-width="1.5" stroke-linecap="round" opacity="0.75" fill="none"/><path d="M279.1 415.5l1 .4" stroke="#9060c0" stroke-width="1.5" stroke-linecap="round" opacity="1.0" fill="none"/><path d="M298.8 411.7l0 -.7" stroke="#a860c0" stroke-width="1.5" stroke-linecap="round" opacity="0.5" fill="none"/><path d="M294 405.7l0 -0" stroke="#a878c0" stroke-width="1.5" stroke-linecap="round" opacity="1.0" fill="none"/></g>
<g filter="url(#blur1)"><path d="M308,441.8 L310,436 L312.5,431 L316,428 L316,441.8 Z" fill="#e0d6e8"/><ellipse cx="302" cy="439.5" rx="3.5" ry="2" fill="#2a1830"/><ellipse cx="310.5" cy="437" rx="1.5" ry="1.5" fill="#3a2840"/><ellipse cx="309" cy="431" rx="1.5" ry="1.5" fill="#2a1830"/></g>
</g>
<g clip-path="url(#cF4)">
<rect x="316.6" y="382.9" width="59.3" height="58.9" filter="url(#nF4b)"/>
<g filter="url(#soft)"><path d="M357.8 422l1.1 -.2M357.9 434l.5 -.2M328.9 417.3l.6 -1M350.8 430.2l1 .7M336.3 438.4l.4 .7M356.7 419.5l.4 1.2M354.6 396.6l.2 .1M334.5 427.5l.1 .3M361.7 409.4l1.2 .4M373.3 384.8l1 .5M332.3 414.7l.8 -.9M359.4 421.3l.9 -.9" stroke="#601860" stroke-width="1.0" stroke-linecap="round" opacity="0.5" fill="none"/><path d="M322.8 432.7l.5 .4M339.2 434.1l.6 -.2M348.9 403.4l.1 .1M374.2 436.7l.8 .5M349.4 398.1l.6 .7M371.2 412.7l.8 -.4M328 425.7l.8 .8M342.7 426.7l1.2 .7M366.4 410.7l.2 .7M347.3 427.3l.6 -1.1M356.6 416.2l.1 -.6M356.9 415.3l.1 .8M322.3 438.1l.7 -.9M361.9 414.3l.2 .4M327.3 414.5l.2 .5M346.5 404.4l.6 .3M334.6 399.8l.7 -.3M327.2 387.1l.1 -1.3M339.7 403.9l.6 -.3M333.7 437.1l0 0M342.1 396.1l.5 -.2M365.5 414.8l.4 -.3M357.9 400.4l.5 -.1M361.2 410.7l.5 -.2M338.9 390.1l.1 -.2M332.1 428.4l.3 -.6" stroke="#301860" stroke-width="1.0" stroke-linecap="round" opacity="0.5" fill="none"/><path d="M358.1 386.8l.6 -.2M352.3 395.4l.3 .7M325.4 393.2l.1 .2M361.6 406l.1 .4M338.8 401l.6 -.4M371.2 418.6l.1 -1.2M340 407.1l.5 -.3M349.9 386.1l.7 .4M354.8 390.9l.5 -.8M321 400.9l.2 .5M326.4 399.2l.3 1.2M362.7 436.2l.5 -.8M370.2 439.3l0 0M359.3 403l.2 -1.3M323 431l.3 .9M373.2 414.8l.8 -.4M320.9 414l.6 -.5M357.1 384.2l0 0M335.4 401.8l.5 .4M362.3 384.9l.3 .4M369.3 384.6l0 0M361.5 387.1l.3 .5M341.5 430.9l0 -0M343 408.3l.4 -.2M355.7 384.6l.6 -.8M352 417l.1 .4M345.3 426.9l0 0M348.7 395l.2 .2M362.1 394.7l1.1 -.5M344.6 399l.3 -1.1M357.2 414.2l.6 .4M366.4 411.2l.4 -0M375.5 413.3l.1 -0M337.7 388.5l.1 -.3M334.4 399.4l.1 -.7M336.6 384.2l.4 -1.3M342.5 411.6l.1 0M334.6 408.1l.4 -.4M367.2 397l.6 -.6M372.2 424.5l.7 .7M322.3 427.2l.1 .5M346.9 392.1l.2 .6M359.6 401.4l1.2 -.3M359.3 400.9l.3 .1M373.6 410.7l.1 .1M360.2 402.9l1.3 .5M364.2 439l.7 .8M362.1 428.2l.4 0M346.2 436.6l.2 -1.1M352.5 434l.7 0M366.2 387.9l.8 -.1M375.2 395.5l.3 -.5M336.6 417.7l.3 -1.4M334.5 395.2l.2 .6M374.3 431.8l.1 -0M337.8 390.3l.1 1.1M370.1 427.4l.7 .4M369.2 434.4l.4 .1M334 384.7l.6 -.4M343.9 405.8l.3 -.3M334.5 414.2l0 .3M350.7 415.8l.5 -1M362.8 423.5l.1 .1M321.6 410.7l.1 -.6M344.6 401.6l.1 -0M353.5 431.7l.6 .7M364.3 386.7l.3 .5M363.6 434.4l.5 -.4M357.6 424.8l.5 -1M359.6 400.9l1.1 -.5M349 440.3l.1 0M367.7 436.1l0 -0M370.6 397.1l.3 1.2M354 430.6l.9 -.1M347.3 430.9l.1 .1M330.7 414.3l.2 .9M347 404.5l1 .9M333.2 437.3l.5 .2M339.2 431.2l.2 .1M338.5 401l1.4 .4M332.8 406.6l.3 .3M337.6 424.1l.1 .7M360.7 420.5l.4 -0M334.1 405.2l.7 .8M319.3 432.6l.2 .1M334.1 391.3l.2 .4M359.2 413.3l0 -.2M352.2 390.3l.1 .1M318.3 441.8l.3 -1M346.3 404.6l.5 .3M336.3 411l.1 .3M347.9 439.5l.4 1.3M327.2 408.5l.4 .5M344 411l.2 -.8M347.5 402.4l.8 .3M347.3 399.5l.1 -1.4M366.3 405.6l.3 -.7M361.2 439.5l.4 1M339.6 385l.6 -.1M340.8 424.6l.1 .3M322.1 413.6l.7 1.4M346.6 397.4l.2 .7M361.1 405.4l.4 -.2M326.8 404.7l.5 .7M354.8 432l0 -.3M325.5 440.5l0 0M337.1 386.2l1 .5M362.9 429.2l.3 .3M356.9 429.4l.6 -.6M374.7 434.8l.2 -1.1M368.2 412.6l.3 -1.4M341.6 396.7l0 0M360.7 424.4l.3 -.9M368.4 434.2l.3 -.2M326 384.3l.7 -.5M352.2 420l0 1.5M359 425.9l.1 1M366.3 409.9l.3 .8M337.2 417.3l0 -0M370.2 391.6l.6 -.1M368.7 397.4l.6 -.3M334.1 437l.5 -.1M337.5 395.4l.4 -.5M347.8 390.5l.9 -.8" stroke="#481878" stroke-width="1.0" stroke-linecap="round" opacity="0.5" fill="none"/><path d="M336.1 384l.2 .3M317.7 403.4l.3 .9M363.6 433.6l.4 -.5M355 416.9l.5 -.5M348.7 429.4l.1 -.1M337.9 427.2l.6 -.8M341.6 389.8l.5 .8M334.7 435.1l.5 -1.2M358.7 426.7l.4 .1M332.7 432.4l0 -.8M371.3 385.3l1 .2M368 436.3l.1 -1.3M370.7 409.6l.3 .5M342.4 387.4l.6 .8M337.4 388.9l.9 -.2M358.5 406.9l.3 -.8M363.8 405.7l1 -.9M371.4 392.1l.4 .6M335.8 405.7l.9 -.5M352.2 439.4l.7 1.1M354.1 389.7l.9 -.4M351.7 396.9l.1 -.6M360.5 431.1l.3 -.2M341.2 429.2l.6 .7M330 434.1l.2 -.1M325.8 396.6l.9 -.7M323.6 414.9l.5 .4M331.6 434.6l.4 -.9M330.1 417.8l0 .5M352.3 422.8l0 .6M336.9 413.5l0 -0M326.8 437.2l0 -.8M363 388.4l.7 -.5M319.2 421.5l1.1 -.3M361.8 396.6l.9 -1.2M349.8 425.7l1.4 -.3M351.4 395.5l.2 .1M347.8 415.3l.5 -.2M339.9 440.9l.1 -.9M346.4 404.2l.2 1.3M361.8 408.9l.1 -.5M368.5 410.7l.4 .9M322.1 413.9l.8 .2M322.5 428.7l.3 -.5M370 400.8l.5 -.5M326.9 416.8l.7 -1.1M334.5 391.4l.7 .9M374.7 400.8l0 -0M343.7 397.5l.1 .1M366.8 397.7l.8 1M338.1 386.1l.2 -.7M350.3 432.3l.2 -.1M355.6 396.6l.1 1.3M345.4 420.6l.1 .7M364.2 386.4l.5 .3M328.3 432.1l.5 1.2M375.4 427.8l.2 .6M334.8 397.5l.5 -.5M339.4 434.2l.2 -.3M340.4 416.5l.1 -0M325 415.9l.7 -.6M367.8 414.6l1 .5M329.5 419.5l.1 .1M357.1 410.1l.3 -1.2M320.6 426.6l1.3 .3M350.2 383.4l.8 .5M357 397.2l.1 1.3M340.1 415.2l.8 -.7M346.3 427.9l1.1 .2M359.4 410l1.1 -.9M360 417.6l.4 1.4M350.9 385.1l0 0M316.8 415.7l.3 .3M354.3 401.5l.9 1.3M346.9 436.5l.3 .4M328.6 389.9l.8 -.8M342 383.9l.2 -1.1M331 392.4l.1 .5M356.7 393.4l.9 .5M336.2 410.7l.7 .3M331.5 405.8l.5 .3M356.3 387.3l.1 .7M349.1 412.3l.2 -.1M349.1 403.9l.4 .9M345.5 434.2l.3 -.4M370.6 394.9l1 -.8M342.2 409.3l.7 1M317.5 400.1l1.2 -.7M361.2 421.7l.2 -.4M366.9 389.1l.2 .8M368.7 397.6l.8 1.1M362.2 432.7l.3 -.5M362.1 399.1l1.3 .5M343 429l.1 .5M355.2 396l.7 -.8M366.5 441.3l.5 -.5M358.8 410.6l.8 -.1M328 421.9l.9 -1M327.3 411.9l.6 -.3M354.6 391.1l1.5 .1M361.2 437.2l.6 .3M369.4 425.1l.2 -.2" stroke="#481860" stroke-width="1.0" stroke-linecap="round" opacity="0.5" fill="none"/><path d="M332.1 403.1l.1 -1.1M343.5 392.7l1.4 -.2M347.5 416.3l.2 1.2M359.4 392.8l.7 -.4M342 409.7l1 .6M366.7 415.3l.1 -.2M350.2 396l.7 .2M352.1 437.6l.6 .3M375.4 405.3l0 0M344.5 402.9l.2 .2M346.8 407l1.2 -.7M343 388.3l.4 .3M324.5 404.4l.5 -.2M354.4 408.3l.4 .5M369.9 410.4l.4 .5M357.3 438.4l1.1 .2M325 407.1l.5 .7M323 424.1l.2 1M361.9 398.8l1.3 -.5M355.1 433.3l.4 -.1M323 406.8l.5 -1.1M369.9 437.8l.5 .5M350.9 413l1 .4M327.3 392.9l.1 -1M371.2 402.7l.4 .6M353.1 396.4l1.4 .2M345.7 427.1l.8 -.6M336.3 390.3l.5 -.1M329.4 407.4l1 .3M317.4 412.8l.5 .8M343.7 403.4l.6 -.2M371 420.1l.2 1M359.4 417.8l.4 -.2M349.8 398.8l.1 .4M364.3 395l.8 -.5M365.3 394.1l.9 .9M348.7 421.1l.2 -.1M338 395.1l.3 .1M355.7 413.7l.9 -.1M362.8 432.5l.2 -1.2M346.2 397.5l1 -.1M374.2 423.3l.2 -0" stroke="#301878" stroke-width="1.0" stroke-linecap="round" opacity="0.75" fill="none"/><path d="M329.9 385l.9 .1M350.4 399.4l0 0M375.7 396.9l.3 -.4M325.2 418.9l.5 .3M362.4 416.8l1 -.3M327.1 393.8l.4 -.8M372.5 398.4l0 -.1M356.6 386.5l.2 -.4M372.4 394.9l0 -0M326.2 400.3l.7 .8M328 389.8l.4 1M369.4 428.4l1 .4M374.1 439.9l.6 .2M333.9 432.8l.2 -.1M353.2 421.8l.1 -.1M367.7 439.1l.5 1M321 426.3l.5 .3M347.5 434.4l.3 .3M346.2 440.7l.2 .2M348.9 414.7l0 .3M371.8 418.9l.4 -.1M354.4 412.4l0 -0M350.5 384.2l.5 -.5M373.2 407.3l0 .8" stroke="#481878" stroke-width="1.5" stroke-linecap="round" opacity="0.75" fill="none"/><path d="M318 398.2l1.1 -.5M343.8 405.6l0 -.2M361.3 398.5l.7 1.1M322.3 434.3l.5 .9M332.5 389.4l.6 -.5M349.5 432.4l.8 .3M335.7 416.1l.2 -.5M367.3 394.2l.4 0M332.6 400.9l.7 .3M355.5 433.2l.3 -1.2M352.5 416.7l1.1 -.1M375.3 428.6l.7 -.2M339.4 425.2l1.1 .3M370.1 428.2l.4 -1.2M326.7 423.6l.2 .8M322.3 442l.3 -1M356.4 391.6l.6 .1M338.2 432.6l0 -0M330.9 415.3l.1 -0M328.3 400.1l.4 -.8M372 397.6l.3 -.2M334 430l.3 -.9M324 429.3l1 -.4M358.9 384.7l.2 0M316.5 395.3l.7 -.3M334.3 431.3l.1 .3M345.8 413.6l.5 .4M329.1 397.1l0 -.3M353.9 391.3l1.1 .5M342.2 396.5l.3 .2M346.6 406.1l.2 .1M366.3 385.1l.3 -.7M358.8 389.8l.3 .2M360 418.2l.2 -.1M359.8 432.7l1 -0M339.7 429l.4 .1M374.9 404.3l.2 1.2M334.7 430.8l0 -.1M329.1 439.6l.1 -.1M321.6 400.1l.9 .4M372.2 420.6l.2 -.9M348.6 432.2l.8 -.6M331.9 434.7l.9 1.1M317.5 392.9l.4 0M335.8 386.9l.2 .6M353.1 389.5l.5 1.2M355.1 420.8l.9 .2M349.5 435.3l.4 .6M332.3 441.1l.3 -.9M355.9 384.3l1 .2M336.7 390.4l.1 0M348.9 400.5l.8 .7M317 405l1.2 -.7M350.9 439.9l1.5 -.1M324.9 407.2l1.1 .6M362.8 396.4l.7 1.2M323.7 385.6l.1 -1.3M334.7 439.7l.6 -.4M327.9 383.5l.8 -0M351.6 412l.9 -.3M334.2 388.5l0 -.6M350.3 406.9l.4 -.9M335.1 431.3l0 -.7M342.9 417.2l.1 -.6M350.1 418.3l.4 -.2M373.4 432.8l.9 .6M354.1 388l.2 -.3M318.8 390.4l.7 -.1M341.9 404.2l0 -.5M360.4 411.3l.4 .6M351.6 441.3l.2 -.2M343.2 406.9l0 -.9M319 421.7l.5 -.1M333.8 428.4l.9 -1M322.5 405.3l.8 -.9M321 383.5l.2 -.4M327.5 398.9l.1 1.1M363.4 437.6l0 -.7M325.3 389.3l.3 -.8M364.8 399.8l.6 -.5M337.4 394.6l0 -.5M322.6 411.1l.4 .4M340.5 434.4l.3 .1M325.5 402.1l.5 .2M326 431.4l1 .5M324.7 397.2l.5 .5M364 426.6l.4 .5M327.4 386.6l.9 .5M337.6 391.5l.2 -1.2M343.6 431.5l.8 .4M331.4 391.3l.1 -.4M318.9 425l.3 .7M351.9 441.5l.2 -.3M317.1 429.2l.5 .4M342.1 389.2l.3 .9M336 389.2l.7 .4M351.7 432.6l.1 -.7M348 421.5l1.5 .1M358.2 397.6l.1 .8M375.8 408.8l.1 .7M366 432.9l0 -.1M320.3 386.6l.7 -.1M348.9 424l.2 .1M374.5 412.4l1.1 1.1M375.2 441.5l1 -.7M361.7 423l.7 -.9M335.7 422.3l.6 .1M345.7 430.6l.1 -.1M316.3 386.3l.9 -.1M327.3 431l.4 1.1M368.4 408.5l.7 -.6M348.6 395.3l.5 .1M349.1 433.2l1 -.9M318.8 399.7l1 -.1M339.8 418.6l.9 .6M365.2 403.8l.4 .2M358.1 420.6l.2 0M341.5 432.8l.5 -0M363.5 392.1l.8 0M368 419.5l.8 .3M330.7 413.3l0 -.3M332.1 411.2l.2 1.2M357 430.2l1.3 -.5M370.8 428.6l.7 .3M327.5 392.8l.9 -0M375.8 395.5l.1 .8M341.4 434.7l.5 -.3M326.3 414l.1 .6M337.2 391.4l.1 -0M341.3 397.4l0 -0M325.8 436l1.1 -.5M321.4 406.6l.4 -.2M357 420.6l.6 -.2M363.4 400l.4 -.7M338.3 441.1l.8 -.3M333 384.1l.6 -1.1M340.2 398.1l0 -0M332.5 434.4l.4 .3M362.5 394.1l0 0M372.8 404l.2 .8M331.4 441.4l.3 -.1M323.7 432.6l.1 0M334.8 421.9l.3 -.2M339.3 384.3l.1 .3M349.8 397l0 -0M353.2 406.9l.7 .9M321.9 415.4l.6 .6M332.3 432.9l.1 1.4M373.8 383.3l.4 -.1M344.1 397.7l.1 -1.1M322.9 413.8l.2 0M369.1 417.5l.3 0M374 387.4l.3 .4M369.7 408.7l.2 .9M374.4 404.3l1 -.3M371.2 396.4l.6 .5M339.2 405.4l.4 -.4M355.9 389.3l.7 .2M326.7 387.9l.3 -.3M333.5 435.2l.3 .5M374.3 439.7l.3 .3M346.4 389.9l0 .2M330.9 405l.7 -1.3M364.8 423l.2 -.2M337 410.6l.5 .3M364.5 427.6l.8 -.8M353 413.5l.7 -.2M319.8 424.6l.3 .2M331.8 409l0 -0M330.2 387.8l.5 .6M373.4 419.4l.1 .4M333.1 414.3l1.2 .7M348.8 412l1.3 -.1M344.7 385.2l.9 .2M355.4 401.1l.1 .3M336.5 406.3l.3 -.2M364.7 434.4l.1 .3M362.3 396.8l.3 .4M331.4 416.8l.4 .1M331.4 403.4l.4 .1" stroke="#481860" stroke-width="1.0" stroke-linecap="round" opacity="0.75" fill="none"/><path d="M319.3 402.7l.4 -.4M351.4 390.1l1 -.2M346.5 409.2l.7 -.5M355.1 384.3l.2 -.2M373.8 418.9l.5 -.8M375 397.3l.4 -.1M348.9 428.7l.2 .3M354.8 387.9l.7 -.7M335.6 429.3l1 .5M364.5 395.4l.2 -1.2M371.5 438.5l1 .4M345 394l.5 -1.2M346.3 419.3l.2 .1M359.2 440l.1 0M327.8 425.1l1.4 -.3M369.4 434.8l.6 -.6M331.6 424.4l.4 0M372.4 385.9l0 -0M367.9 416.2l.3 .7M322.7 404.9l.2 -.1M341 407l.1 0M354.7 425.1l.1 -.2M368.6 407.3l.2 -.3M357.2 385.7l.4 -1.1M329.9 430.9l.7 -.1M347.5 422.9l1.2 .9M328.9 398.4l.4 -.2M350.5 417.5l1.4 .1M375 397.6l.1 .4M330.3 413.2l.2 -.4M341.7 389.7l.1 -.5M322.3 392.1l.1 -.1M359.3 402.2l0 0M368.9 429.6l.1 -1M350.9 422.2l.7 -.5M356.5 405.1l.1 -.1M373.3 423.1l.8 -.9M319 398.9l.6 .6M355.6 421l0 .2M373.9 430.8l.8 -.9M329.1 423.2l.5 -.2M375.6 403.3l.5 1.1M330.7 390l1 .3M360.8 398.4l.1 -.1M360 426l.3 -.2M328 387.5l.6 .3M337.8 417.8l1 .9M359.7 430.6l.2 .2M372.1 423.2l1.5 .3M332.2 433.6l.6 -1.1M341.7 437.1l.6 -.8M323.2 389.9l1.1 -.2M353.5 434.6l.5 .2M324.3 388.1l.8 .7M344.1 410l.7 -.5M324.7 407.3l.3 -.6M362.5 413.4l.7 -.1M371.9 406.4l.1 .3M324.1 386.4l.3 -.7M356.1 420.3l.9 .8M343 419.6l.5 -.2M339.1 439.4l.5 .7M374.4 414.7l.1 -.2M358.9 400.1l.3 -.5M328.8 435.9l.9 -.5M324.9 431l.8 .3M366.5 394.8l.5 -1.3M321 406.1l.1 1M322.8 403.6l.9 0M371 423.9l.5 -.2M373.7 385.1l0 0M357.9 388.1l.2 .7M366.9 424.5l.2 1M355.9 425.8l.8 .3M319.8 399.9l.1 -.8M360.7 423l0 .1M372.6 437.7l.1 -.3M374 426l.5 -.7M340.4 409.2l1 1M357.5 407.1l.6 -1.4M333.5 427.5l1 -.5M367.2 395.8l1 .3M359.6 409l.3 -0M349.1 394.9l1 -.7M322.8 403.7l.1 0M357.8 419.6l.3 -1.4M323.9 399.4l.2 -1M342.9 406.9l.4 -.3M345.7 427.3l.7 .3M329.2 416.3l.4 -.6M356.7 402.2l.3 -.5M353.2 393.9l.4 -.1M354.7 385l.3 -.3M354.4 411.4l.3 .5M346.8 433.4l.3 -.2M337.1 394.5l.5 -.4M320.5 410.3l.4 .5M345.1 393l.1 1.6M329.7 427l1 -.7M346.5 413l.1 -1M316.6 383.2l0 1.1M351.2 431l.6 -.7M317.8 426.8l.5 -.8M340.2 420.8l.2 .2M367.6 404.6l.5 .1M342.6 429.7l1.3 -.2M346.9 430.3l0 .2M340.4 424.3l1.2 .3M363.7 400l0 -0M328.2 408.5l.5 .6M345.7 411.4l.8 -.7M338.5 410.9l.2 1M322.1 416.9l.4 -.3M327.8 394.7l.1 .1M369.8 399l.2 -1.1M363.1 410.2l1 -.9M350.5 406.2l1.3 -.1M365.7 407.6l.2 -.2M347.8 417.9l.1 .3M345.8 419.9l.5 -1M374.7 427.7l.6 1M341.9 404.8l.2 -.7M336.4 412.3l.4 0M359.2 399.9l0 -0M356.6 433.1l0 0M338.4 383.7l.9 .2M357.7 434.8l.2 -.2M317.9 394.7l1.5 .3M333 425.9l.1 -.2M375.5 401.9l.3 -.7M330.3 387.6l1 .3M324.3 389.5l.2 .1M335.2 411.8l.8 1M328.2 400.1l.8 .6M335.8 386.2l1.3 0M374 420.9l1.2 -.3M352.5 394.5l.9 .4M369.2 425l.8 .4M363.2 416l.1 -.1M355.6 425.2l.3 -1M367.1 430.1l.6 .7M322.7 411.1l1.2 .4M370.4 435.7l.1 .3M371.1 402l.9 .1M360.6 407.1l.1 .5M336.7 434.4l.9 -.4M367.8 402.9l1.1 -.3M352.3 417.7l.3 .1M345.1 408.3l.4 0M356.2 401.1l1.3 -.1M324.4 392.8l1.1 -.2M348.3 424.6l.2 -.2M358.4 397l.1 1.3M351.2 422.1l.6 -.5M355.1 406.5l.8 .6M374.6 393.2l0 .6M355 386.8l1.2 .4M337.2 427.7l.8 -.1M361.5 440.7l.5 -.3M330.8 408.8l.5 .6M360.5 392.1l.5 -.1M365.1 389.9l.1 -.5M361.2 419.3l.1 -.5M368.8 405.5l.7 -.4M368.7 391.3l.9 .5M362.1 400.4l.1 .3M340 431.1l.2 .7M367.4 410.2l0 0M344.4 386l1.1 -.4M327.5 384.6l.5 -1M335.5 395.4l.1 -.1M351.5 423.1l.1 -.2M325.8 436.6l.4 0M328.8 402.9l1.1 .5M364.6 403l1.2 -.6M352.2 424l.1 -.1M360 429.6l.4 -.1M356.7 426.4l1.1 .4M316.8 429.6l1.3 -.4M334 384.5l.2 .3M347.9 437.1l.1 -1M350.7 398.6l1.4 .3M317.6 427.5l.9 .7M349.4 402.7l.5 -.2M347.6 415.1l.1 .1M341.5 435.2l.5 -1.1M361.9 427.7l.3 .5M340 430.6l.3 .1M353.9 398.9l.2 -.6M331.5 433.2l.5 1M352 425l.9 -1M334.6 413.6l1 .6M371.9 414.3l1 -.5M330.5 389.8l.3 .1M343.2 415.2l.6 -.3M332.3 433.5l1 .9M329.8 415.7l.5 -.9M329.1 405.3l.9 1M368.8 392.4l.3 .2M358.9 396l.1 -.4M319.6 429l1.4 -0M339.2 384.1l.1 -.5M359.8 421.7l.1 .2M368.2 406.4l.2 .2M323.3 427.4l.7 1M330.6 392.1l.8 .4M346.9 408.2l1 -.2M351.8 405.3l1.4 .6M353.6 435.5l.7 0M342.8 426.5l.3 .4M374.9 393l.3 1.3M358.3 397.1l.1 0M335.9 399.2l.2 .2M355 393.1l1.3 .4M364.3 429.5l0 -0M343.9 406.8l0 1.5M338.5 437.8l.2 -.5M358.6 411.3l.1 0M350.9 430.9l0 -.1M331.2 401.2l.8 -.2M323 421.3l.8 -.4M353.2 405.4l.8 .4M319 404.9l1.2 -.3M375.7 405.7l.3 0M331.6 395.4l.3 .3M371 439.9l.1 .1M337.2 384.6l.1 -.1M317 403.4l.1 -0M371 408.1l.4 -.9M322.4 428.8l.2 0M363.3 435.8l.7 -.2M351.5 421l.7 .4M373.5 394.3l.8 1.2M328.1 427.8l.1 -.2M335.9 420.6l1.1 .6M325.6 436.5l.3 .1M362.5 417.9l.9 -.1M373.6 389.7l.1 .7M342 397l.5 .2M338.7 423.4l.2 .5M345 434.6l.4 .6M324.1 393.8l.2 .2M334.7 403.3l.4 .2M357.2 413.7l.1 -.5M363.9 425.7l.5 1.1M342 405l.1 -1M343.4 416l.3 -.5M353.4 419.4l.2 -.6M360.7 425.1l.1 -.5M348.2 431.7l.8 .4M360.4 403.8l.7 -.8M354.4 426.3l.3 .3M358.3 431.5l.3 -.4M348.9 416l.4 -.1M340.2 411.1l.2 0M361.1 437.2l.1 .2M337.7 405.5l.4 -.7M333.9 384.2l1.3 .4M341.9 386.7l0 -0M330.3 400.2l.9 .2M337.5 384.6l1.5 .2M329 403.1l.3 -.1M322 438l.6 .3M341.3 428.1l0 .4M323.5 417.1l1 .6M367 386.2l1.1 -.2M348.7 387l.1 -.2M342.4 406.5l0 -0M342.4 431l.6 0M327.9 409.4l.4 -.4M373.8 426.9l.1 .5M335.5 397.2l.3 -.1M341.9 408.1l0 -0M346.5 388.4l0 -0M364.9 436.8l.6 -.9M325 383.4l1.1 .1M357.3 412.7l.6 -.1M349.2 417.3l.9 .1M348.8 431.1l.6 -.7" stroke="#481878" stroke-width="1.0" stroke-linecap="round" opacity="0.75" fill="none"/><path d="M332.1 422.8l.6 -.6M363.9 389.5l.2 -.7M354.4 414.6l.4 1M352.8 387.2l1.3 -.6M326.8 401.1l0 0M330.4 439.6l.3 -.6M337.1 409.2l.9 -.2M356.2 401l.5 .7M363.8 405.5l1.3 -.7M324.6 399.8l1 -.9M348.5 411.1l.1 1M363.3 439.7l.1 -.4M361.6 384.4l.7 0M372.9 416.1l0 .1" stroke="#601878" stroke-width="1.0" stroke-linecap="round" opacity="0.5" fill="none"/><path d="M326.5 435.5l.7 1.5M333.1 415l.3 .8M318.2 423.4l.6 .3M330.2 429.2l.7 -.1M370.3 383.3l1.3 .3M367.9 439.3l.9 -.6M325.6 423l.8 -.9M334.4 438.4l1.1 .5M336.8 437.7l.4 -.3M363.3 388.6l.6 -.4M350.4 393.5l.1 0M356.8 414.2l0 -.2M328.2 426.9l.8 -.2M356.6 439.9l.1 -.3M352.9 430.4l.1 -.6M317 434.3l.1 0M361.2 421.6l.3 .6M369.1 393.7l1.2 .4M348.5 420.2l.6 -.8M352.4 415.3l.4 .2M349.9 428.6l1 -.7M327.9 441.8l.5 -.3" stroke="#301878" stroke-width="1.0" stroke-linecap="round" opacity="0.5" fill="none"/><path d="M333.9 405.8l.1 -.6M346.4 428.4l0 0M355.9 392l.5 .3M324.8 418.1l.7 -.1M320 436l.2 -0M357.3 440.4l.9 -.2M355.9 411.1l.6 .6M372 387.1l.3 -.6M355.3 393.2l.8 -.5M366.4 408.5l.5 -.1M352.4 440.3l1 .2M359.7 410l.4 1.1M352 408.4l.3 .1M339.3 430.5l.4 .5M352.1 421.5l.1 -.1M366.2 424.6l.6 -.9M359.4 432l.7 -.9M352.6 422.9l.1 -.2M317.3 402.2l.8 -0M357.7 414.3l.1 .1M319.7 426.3l.1 -.9M340.2 385.4l.6 .7M374.4 434l.9 -1.1" stroke="#481878" stroke-width="1.0" stroke-linecap="round" opacity="1.0" fill="none"/><path d="M341.9 431.1l1 -.7M371.1 386.4l.2 -.4M340.9 394.4l1.1 .6M366 390.6l1.3 -1.1M370 421.3l.8 -.2M360.4 384.7l.5 .7M319.6 410.7l.7 1M335.9 403l.3 .9M347.8 425.5l.6 -1.2M370.5 385.3l.7 -1M344.8 411.3l.9 -.5M355.7 422.3l1.2 -.6M368.5 441.9l.4 -.7M359.3 390.4l.9 -1.3M366.8 396.2l.5 .7M343.3 405.6l.2 -1.4M333.1 410.6l.6 -.5M342 437.7l.8 .2M336.1 414.4l1.6 -.4M354 393.8l.9 -1.2M350.8 406.7l.4 -0M336 438.2l.6 -1.1M356.3 423.1l.5 -.8M358 415.9l.5 -.7" stroke="#481878" stroke-width="0.5" stroke-linecap="round" opacity="0.75" fill="none"/><path d="M350.4 422.8l1 -0M322 429.6l.9 .7M319 419.6l.6 -.7M370.8 435.6l1.2 -.1M366.3 389.9l0 -1M372.6 423.4l1.5 -.5M322.4 391.4l1.1 .4M323 437.9l1.1 1M321.4 421.4l.2 .7M317.9 396.3l1 .5M336.5 440.9l.3 -1.2M338 429.2l.3 .2" stroke="#481878" stroke-width="0.5" stroke-linecap="round" opacity="0.5" fill="none"/><path d="M349.7 407.2l.4 0M374.1 433.7l.9 .3M331.7 440l.6 -1.1M338.6 403.1l.9 -.7M350.6 430.5l.1 -.3M360.7 422.4l.3 -.6M329.1 391.7l1.3 .4M347.9 411.1l.1 0M342.1 422.8l.4 .5M335.3 392.5l.9 -.9M340.8 397.4l.3 -.3M349.2 383.2l.7 -.1M362.6 386.7l.3 -.3M348.9 382.9l.1 .4M370.6 397.7l.7 -0M329.1 410.6l.4 -.1" stroke="#601860" stroke-width="1.0" stroke-linecap="round" opacity="0.75" fill="none"/><path d="M355.4 407.8l0 -.1M340.4 417.6l0 -.1M357.5 438.4l0 -0M343.4 436.2l.7 -.9" stroke="#301860" stroke-width="1.5" stroke-linecap="round" opacity="0.75" fill="none"/><path d="M332.5 415.2l.5 0M366.6 396.3l.3 1.6M325 403l.3 1.5" stroke="#601878" stroke-width="0.5" stroke-linecap="round" opacity="0.75" fill="none"/><path d="M345.5 397.3l.1 -.8M369 417.3l.5 .2M330.5 399.5l.6 .9M355.9 424.3l.5 -1.1M322.5 412.6l.1 -1.4M343.8 429.2l.9 .1M324.8 413.9l1.2 -.2M322.4 434.6l.8 1.1M357 436.2l.5 -.2M369.4 394.9l1 1.3M341.6 408.3l.5 -.3" stroke="#481860" stroke-width="0.5" stroke-linecap="round" opacity="0.75" fill="none"/><path d="M356.1 400.1l.7 -.9M335.7 409l.3 -.6M328.2 423.5l.2 -.5M359.1 417l.3 -1M322.4 405.2l1 -.9M353.8 428.5l1 .5M365.4 407.4l1 -.2M338.9 389l.9 -.2M354.7 435.5l1.1 -.3M328.1 388.3l1.1 -.4M332.9 427.5l.2 .9M339.9 421.7l0 .9M363.3 387.6l.3 .3M355.9 406l.1 0M328.3 434.8l.2 -.1M333.3 438l1.1 .3M350.8 411.5l.5 .3M366.8 412.4l.1 -.7" stroke="#481860" stroke-width="1.0" stroke-linecap="round" opacity="1.0" fill="none"/><path d="M358.9 404.8l0 .2M362 383.8l0 -0M362.4 426.6l.2 -.6M332.5 413.4l1.1 0M327.3 388.9l0 0M365.1 435.6l.4 -.2M347.7 436l.2 .3M331.3 412.4l.2 -.7M316.5 435l.6 -.1M317.4 403.2l.5 -.1M373.7 391.9l.3 .7M328.5 418.9l.3 .5M367.8 437.9l.1 -.3M319.8 424l.8 -.4M355.6 398.9l.5 1.1M324.9 435.6l.3 -.4M368.5 432.5l0 -.8M328 415.1l.9 .1M365.2 421.9l.3 -0M338 397.1l1 -.2M374.8 415.1l.2 .4M333.7 434.6l.2 -.7M347.2 416.5l0 0M323.8 405.4l.2 .3M359.2 423.1l.7 .7M344.3 439.7l.2 .3M351.7 426.3l.3 -.4M331.8 411.7l.8 -0M364.8 428.1l.2 .1M364.5 426.1l1.3 0M370.6 393.8l.8 -.3M337 409.2l1.1 0" stroke="#301860" stroke-width="1.0" stroke-linecap="round" opacity="0.75" fill="none"/><path d="M325.3 403.4l0 0M320.1 403.8l.4 .4M334.9 383l.6 .4M320.5 409.8l.8 .9" stroke="#301878" stroke-width="1.5" stroke-linecap="round" opacity="0.75" fill="none"/><path d="M331.7 435l0 .1M372.6 434.5l1 .4M322.9 422.5l.4 .6M350.8 415.3l.6 -.1M362 393l.7 .2M366.3 389l.8 .8M347.1 407.3l0 0M319.6 435.1l0 -1.2M319.5 441l1.1 -.3M330.4 398.7l.6 .3M359.3 384.5l0 1.1M339.2 417.2l1 .1M333.1 412.9l.7 -.8M329.3 439.1l.9 .4M370.3 437.2l.4 0M337.8 402.3l.7 .5M326.8 420.1l.5 -.4M358 435.2l.3 -.3M333.8 397.7l1.1 .7M340.1 416.5l.7 -.7M360.9 417.6l.6 .5M319.9 434.8l.1 -.3M319.4 406.8l1 .5M335.3 422.5l.2 -.1M361.4 392.4l.5 -.1M346.2 404.1l1.1 -.1M354 433.4l.9 .3M325.2 431.2l.1 .5M338.1 395.8l.5 .6M335.2 383.7l1 -.1M343 401.4l1.1 -.5M320.9 387.1l1.4 -.2" stroke="#601878" stroke-width="1.0" stroke-linecap="round" opacity="0.75" fill="none"/><path d="M329.1 422.7l0 -1M359.6 437.2l.4 .1M363.8 405.6l.1 .2M361.3 422.5l.8 .4M317.5 439.9l.2 -.2M331.9 389.8l.6 .1" stroke="#301878" stroke-width="1.0" stroke-linecap="round" opacity="1.0" fill="none"/><path d="M342.4 410.3l.6 1.5M362.3 437.6l1.6 -.1M335.4 397.3l.3 1.4M366 434.4l.6 0M352.5 401.1l.5 -.6M338.3 428.8l.9 1" stroke="#301878" stroke-width="0.5" stroke-linecap="round" opacity="0.75" fill="none"/><path d="M346.2 416.2l.2 0M375.2 404.8l.6 .4M336.7 385.1l.1 -.8M367 436.8l0 0M336.1 385.2l0 -0M359.1 409.3l.5 .6M346.1 423.1l.5 -.8M346.6 397.4l0 0M362.2 392.2l0 -1M359.2 423.1l0 .2M346.6 411.7l.2 .5M374.2 415.6l.1 -.1M367.1 407.8l.3 .4M321.5 437.9l0 .6M322.1 407.5l.5 -.9M330.6 430.2l.8 .3M375 403.4l.6 -.7M332.5 384.4l0 -.6M363.9 403.3l.6 -.1M321.8 405l.4 .2M361.5 431.2l.2 0" stroke="#481860" stroke-width="1.5" stroke-linecap="round" opacity="0.75" fill="none"/><path d="M366.3 424.7l.5 1M351.5 412.8l1.2 -.3M332.5 437.5l1.2 .8M367.8 410.3l.9 .4M330.9 408.4l1.1 1.2M325.3 387.3l.2 .5" stroke="#481860" stroke-width="0.5" stroke-linecap="round" opacity="0.5" fill="none"/><path d="M341.2 400.7l1.2 0M375.1 440.9l1.2 .5M375.1 410.4l.5 -0M346.3 404.7l.5 -.1" stroke="#301878" stroke-width="0.5" stroke-linecap="round" opacity="0.5" fill="none"/><path d="M360.7 393.6l.6 -.1M333.9 393.3l0 .7M327.2 394.1l0 0M365.9 432.4l.9 -.1M354.5 436.8l0 -0M337.8 394.7l.3 .4M367.2 416.1l.1 .3M358.6 389.7l.2 .1M348.5 438.9l.5 -.8M316.5 387.7l.8 -.1M350.7 384l.9 .2M322.8 413l0 0M334.9 430.1l.3 .8M363.6 417.6l.3 .6M354.6 386.2l.1 .2" stroke="#481878" stroke-width="1.5" stroke-linecap="round" opacity="0.5" fill="none"/><path d="M365.5 405.8l.2 -1.1M336.4 425.7l1.4 -.4" stroke="#301860" stroke-width="0.5" stroke-linecap="round" opacity="0.75" fill="none"/><path d="M340.5 421.1l.4 -1.2M347.7 425.3l.7 -.5M361.7 427.5l.4 -.6M359.7 421.4l1.3 .3M362.1 439l.5 .1" stroke="#601878" stroke-width="1.0" stroke-linecap="round" opacity="1.0" fill="none"/><path d="M366.4 388.8l1 -0M347 406.6l.7 -.6M372.5 387.2l0 -0M325.5 413.4l.7 .7M331.7 422.6l.2 .5M335.8 391.5l0 -.2" stroke="#481860" stroke-width="1.5" stroke-linecap="round" opacity="0.5" fill="none"/><path d="M369.8 419.6l0 -.2M367.7 392l.1 -.4" stroke="#601878" stroke-width="1.5" stroke-linecap="round" opacity="0.5" fill="none"/><path d="M319.1 390.2l.1 1M357.2 435.4l.4 .1" stroke="#481878" stroke-width="1.5" stroke-linecap="round" opacity="1.0" fill="none"/><path d="M323.7 383.3l.5 .5M332.8 438.3l.1 -0M323.2 401.8l.1 -.2M327 416.7l.8 -.6M331.2 402.4l.4 1" stroke="#601878" stroke-width="1.5" stroke-linecap="round" opacity="0.75" fill="none"/><path d="M374.4 415.7l.2 0M374.4 439.6l.7 .6M352.7 403.2l0 -.3" stroke="#301860" stroke-width="1.0" stroke-linecap="round" opacity="1.0" fill="none"/><path d="M321.4 409.8l.6 -.2" stroke="#601860" stroke-width="0.5" stroke-linecap="round" opacity="0.5" fill="none"/><path d="M358.6 391.7l.3 -.8" stroke="#301860" stroke-width="0.5" stroke-linecap="round" opacity="0.5" fill="none"/><path d="M316.3 435.3l1.2 .4" stroke="#601860" stroke-width="1.0" stroke-linecap="round" opacity="1.0" fill="none"/><path d="M341.3 408.7l0 .1M332.3 430.8l.4 -.9" stroke="#601860" stroke-width="1.5" stroke-linecap="round" opacity="0.5" fill="none"/><path d="M355.2 418l.3 -1.2" stroke="#601878" stroke-width="0.5" stroke-linecap="round" opacity="1.0" fill="none"/><path d="M332.2 423.5l.1 -.6" stroke="#301860" stroke-width="1.5" stroke-linecap="round" opacity="0.5" fill="none"/><path d="M345.2 383.3l.6 .9" stroke="#481878" stroke-width="0.5" stroke-linecap="round" opacity="1.0" fill="none"/><path d="M337.8 404.6l0 .1M352 385.4l.6 -.4" stroke="#301878" stroke-width="1.5" stroke-linecap="round" opacity="0.5" fill="none"/><path d="M335.3 400.8l.1 -.3M341.7 441l.5 .1" stroke="#601860" stroke-width="1.5" stroke-linecap="round" opacity="0.75" fill="none"/><path d="M344 390.6l1.3 .9" stroke="#601878" stroke-width="0.5" stroke-linecap="round" opacity="0.5" fill="none"/><path d="M354.6 424.7l.1 -1.2M347.7 403.8l.9 -.6M346.2 440.1l0 -0M356 415.3l.2 -.1M316.9 398.1l.1 -.1M335.9 389.7l.5 1M373.3 413.7l.4 -.2M358.1 396l0 0M324.1 408.5l.3 .1M344.6 384.9l1 .1M359.4 401.3l.4 -.7M350.8 405.1l.8 .1M348.4 383.8l.2 -.8" stroke="#d860c0" stroke-width="1.0" stroke-linecap="round" opacity="0.75" fill="none"/><path d="M367.4 391.8l.2 -1M343.1 409.8l.3 0M351.9 416.5l0 0M366.7 386.5l.1 -.3M365.2 414.3l0 -0M360.6 423.6l0 0M369.9 441.5l.1 .3M358 438.5l0 .5M331.3 430.3l.3 -.2M326 397l.3 .5M372.9 433l0 -0" stroke="#c060c0" stroke-width="1.5" stroke-linecap="round" opacity="0.75" fill="none"/><path d="M368.2 410.6l.5 -.8M365.9 421.1l0 -.1M354.8 390.1l.9 -1.2M354.2 407.6l1 .1M371.1 383.3l.1 .3M373.5 420.2l.3 -1M358.9 404.5l.4 .1M363.8 422.8l.4 -.6M356.8 411.9l.1 .1M373.5 434.8l.1 -.3M374.7 390.3l.9 -.3M366.7 387l0 0M337.3 390.7l.5 1.1M344.2 409.9l.2 -1.1M344.9 426.4l.9 .6M365.7 411.2l1.5 -.3M366.7 412l.1 -.7M336.4 411.1l0 0M344.4 388.7l0 .2" stroke="#c078c0" stroke-width="1.0" stroke-linecap="round" opacity="0.75" fill="none"/><path d="M348.2 404.8l0 -0M374 387.5l.1 0M326.1 404.1l.1 0M345.4 406.2l0 -0M344.2 425.4l.7 .2M350.7 421.5l0 0M325 433.1l0 -0" stroke="#c060c0" stroke-width="1.5" stroke-linecap="round" opacity="0.5" fill="none"/><path d="M350.5 399.4l0 0M343 384.2l.1 .8" stroke="#c078c0" stroke-width="1.5" stroke-linecap="round" opacity="0.5" fill="none"/><path d="M355.9 398.9l.3 -1.3M365.3 430.8l0 .4M320.6 400.9l.5 1.3M335.9 383.9l.2 -.2M340.3 408.2l0 .6M340.1 433.5l0 -0M353.2 439.7l.2 1.1M325.1 440.5l.6 -.6M351.1 411l.4 .1M347.9 395.5l1.2 -.2M367.9 436.4l.3 .6M334.2 399.6l0 -0M330 427l.5 -1M349.3 385.2l0 1.1M354.7 412.4l.7 .3M345.9 388.8l0 0M357.7 384.3l.6 .1" stroke="#d878c0" stroke-width="1.0" stroke-linecap="round" opacity="0.75" fill="none"/><path d="M362.1 405.8l.2 .5M325.1 390l.4 -.2M352.7 422.2l.4 -.1M335.6 394.5l.1 -.1M333.3 401.6l0 -0M369.2 425.4l1 .6M343 414.5l.1 .9M369.2 424.7l.9 0" stroke="#d878c0" stroke-width="1.0" stroke-linecap="round" opacity="0.5" fill="none"/><path d="M320.7 396.1l.5 0M346.7 425.6l.1 0M335 395.2l.5 -.7M351.4 397.3l.2 1.1M358.6 432.9l0 -.3M327.7 414.8l1 .3M372.7 418.1l0 0M319.5 438l.4 1M348 426.7l.5 .9M353.3 399.8l.6 -.6M359.7 422.8l.8 -1.2M328.6 436.1l0 -0M337.8 414.3l.6 -.4M332.8 411.8l0 -0M333.9 436.9l.3 -.1M369.5 414.9l.1 -0M373.6 441.5l.8 -.6M318.2 426.6l.3 -.1M318.6 429l.7 -.3M334.1 403.2l1.2 -.3M367.1 392.1l.1 .5M365.3 399.3l.6 -.4M337.4 432.3l.2 -0" stroke="#c060c0" stroke-width="1.0" stroke-linecap="round" opacity="0.75" fill="none"/><path d="M347.4 421.3l1.2 -0M317.3 434.4l.7 .3M332.3 436.3l.4 -.1M355.5 413.6l.1 .4M357.5 426.1l.2 -.1M367.6 410.2l.7 -0M347.4 407.3l.5 1.4" stroke="#c078c0" stroke-width="1.0" stroke-linecap="round" opacity="1.0" fill="none"/><path d="M365.8 431.4l.6 0M317.8 430.9l0 -0" stroke="#d860c0" stroke-width="1.5" stroke-linecap="round" opacity="0.75" fill="none"/><path d="M366.5 402.9l0 0M372.1 410.1l.3 -.2M349.2 436.4l.3 .1M359.8 405.2l.3 -.2M351.8 383.2l.2 .4M353.9 397.3l.7 .2" stroke="#d878c0" stroke-width="1.5" stroke-linecap="round" opacity="0.5" fill="none"/><path d="M335.9 395.2l0 -0M356 411.7l.4 .1" stroke="#c078c0" stroke-width="1.5" stroke-linecap="round" opacity="1.0" fill="none"/><path d="M374.8 417.3l.6 -.4M355.9 440.3l1.1 .1M350.5 401.7l1.2 -.2M372.1 402.4l0 0" stroke="#c078c0" stroke-width="1.0" stroke-linecap="round" opacity="0.5" fill="none"/><path d="M359.8 382.9l0 0M329.7 399.2l0 0M325.3 391.5l0 -0M370.7 404.9l0 -0M319.8 439.3l.3 .2" stroke="#c078c0" stroke-width="1.5" stroke-linecap="round" opacity="0.75" fill="none"/><path d="M345.3 389.3l.2 -1.3M322.3 388.9l0 0M335.2 389.4l.8 -.5M346.3 436.1l1.2 .2M357.3 420.6l.1 -.1M369.8 400l.4 .6M324.1 394.1l0 -0M334.3 383.4l1 .5" stroke="#c060c0" stroke-width="1.0" stroke-linecap="round" opacity="0.5" fill="none"/><path d="M343.2 407l.4 .7M328.4 414.4l.7 1.1M371.2 391.9l1.1 -.3M372.6 413.6l.5 -.9" stroke="#d860c0" stroke-width="1.0" stroke-linecap="round" opacity="0.5" fill="none"/><path d="M340.7 422.3l0 0M339.5 386.3l.3 0M372.5 407.3l.6 .2M363.3 399.1l.3 .2M365.2 425l.6 -.7" stroke="#d878c0" stroke-width="1.5" stroke-linecap="round" opacity="0.75" fill="none"/><path d="M361.6 438.2l1.3 -.3M335.5 437.5l.2 -.3" stroke="#d878c0" stroke-width="1.0" stroke-linecap="round" opacity="1.0" fill="none"/><path d="M348 395.1l1 .2" stroke="#d860c0" stroke-width="1.0" stroke-linecap="round" opacity="1.0" fill="none"/><path d="M364.4 439l.2 -.7M333.9 428.3l.1 -.1" stroke="#c060c0" stroke-width="1.0" stroke-linecap="round" opacity="1.0" fill="none"/><path d="M372.1 433.4l.2 -.4M371.5 385.9l0 0" stroke="#d860c0" stroke-width="1.5" stroke-linecap="round" opacity="0.5" fill="none"/></g>
<path d="M337.6,383 L339.5,387 L341.2,392.5 L342.2,392 L340.5,386.5 L339.3,383 Z" fill="#f0e6f2"/>
<rect x="362" y="437" width="9" height="1.6" fill="#2a1530"/>
</g>
<text x="388.80" y="316.50" font-size="15" text-anchor="start" fill="#111" font-weight="bold" stroke="#111" stroke-width="0.22">G</text>
<g clip-path="url(#cG1)">
<rect x="408.2" y="315.0" width="74.4" height="63.5" fill="#06061a"/>
<g filter="url(#soft)"><path d="M432.9 342.9l.9 -1.3M420.6 374.3l1 -1M417.5 371.1l.7 -.2M426.8 343.3l1.4 -.6M473.8 336.8l1.2 -.6M457.5 336.7l.2 -.2M426.3 341.4l1.1 -.7M463.3 315.9l.7 -.6M421.2 342.9l.8 -.6M471.8 317.4l1.5 -.2M482.2 336.3l.7 -.3M430.4 350.5l.5 -.7M428.1 323.6l1.5 -.2M421.2 316.5l.4 -.1M473.7 328.2l.7 -.8M434.3 367.4l.1 -0M424 326.3l.1 -.1M414.2 340l.4 -.6M410.3 378.4l.7 -.6M408.5 373.4l.5 -.8M420.1 376.9l1.1 -.2M451.7 371.1l.7 -.6M449.6 323.5l.7 -1.2M441.3 323.9l.3 -.5M439 326.1l.9 -.3M476.6 337.5l.6 -.8M436 356.5l.4 -0M418.2 315.7l.1 -0M446.2 370.8l1.2 -1M458.1 370.8l1.2 -.8M409.9 348.3l.1 -0M432 368.1l.8 -.9M429.9 323.3l.4 -.1M435.5 319.5l.2 -.1M420 331.6l1.2 -.3M418.6 319l.6 -.2M453.4 350l.6 -.1" stroke="#3030a8" stroke-width="1.5" stroke-linecap="round" opacity="0.5" fill="none"/><path d="M431.4 335.9l1.5 -.2M446.3 328.3l1.2 -.4M416.5 360.7l1.5 -0M430.1 351.5l.3 -.3M422.3 354.7l.4 -.5M463.5 332.3l1.5 -.8M442.3 343.4l.3 -.2M409.8 348.9l.2 -.1M414.4 325l.6 -.6M466.6 316.6l.4 -.1M450.4 355.9l1.4 -.5M444.3 378.1l.2 -.1M464.6 337.9l.7 -.9M453.5 332.4l0 -0M462.6 319.8l.1 -.1M479 317.7l1.1 -.5M455.5 325.8l.5 -.1M468.1 332.8l.6 -.9M478.2 327.6l.7 -.3M482.3 330.9l.5 -.5M419.3 348.3l1.3 -.1M421.6 354l.5 -.6M413.7 333.4l.2 -.1M457.1 318.7l1.5 -.7M435.9 378.3l.9 -.2M414.1 372.5l.8 -1.1M448.9 329.1l.2 -0M424 339.3l.8 -.5M453 340.8l1.2 -.1M419.4 344.8l1.1 -1.1M409.7 337l.1 -.1M424.3 334.5l.8 -0M427 363.4l1.7 -.2M442 342.6l.1 -.1M465.8 329.9l.7 -.6M413.9 363.4l.8 -.6M417.4 352.9l.8 -.6" stroke="#303090" stroke-width="1.5" stroke-linecap="round" opacity="0.75" fill="none"/><path d="M426.4 374l1.2 -.9M465.2 331.2l.5 -.1M414 326.6l1.1 -0M426.6 342.8l.2 -.2M432.5 356.6l1.6 -1M426.4 364.1l.5 -.2M449.3 321l1.5 -.5M445.9 321.2l1.1 -.1M479.8 322l.5 -.7M421.2 368.4l1.2 -1M442.4 315.4l1.6 -.7M471.2 331.8l.2 -.1M421.4 363.3l.3 -.2M410.5 344.8l.8 -.5M479.6 327.5l1.1 -.5M469.4 316.3l1 -.2M424.1 331.2l1.6 -1.1M447.8 325.4l.6 -.4M464.9 355.7l1.5 -.5M418 352.7l.6 -0M431.5 356.5l1.7 -.5M421.3 333.7l1.4 -.7M446.5 368.8l1 -1.1M414 330.1l1.2 -.2M431.9 357l1.6 -.7M432 376l.9 -.4M444.4 327l1.3 -.1M473.1 339.4l.6 -.2M425.8 359.6l.4 -.1M443.9 369.8l1 -.1M440.7 320.6l1.6 -.5M425 328.8l.9 -.3M429.3 374.1l.7 -.6M442.4 369.1l1.1 -1.1M442.1 320.3l.4 -.7M450.7 372.8l.6 -.3M455.2 350.4l1.2 -.3M472.6 333.5l1.8 -.3M448.2 342.9l1.3 -.5M438.4 374.9l.4 -.2M451.3 330.7l.4 -.4M421 321.8l1.2 -.3M437.8 324.9l1.3 -.5M418.3 340.7l.7 -.4M420.3 321.8l.4 -.1M463.3 334.1l1.2 -.9M435.8 322.9l1.4 -.5M437.8 318.8l.5 -0M410.3 356l1.8 -.6M435.6 345l1 -.3M425.3 371.6l1.8 -.2M422.1 342.8l1.3 -1.3M420 361.5l.5 -.6M473.1 331l.8 -1.2M412 319.7l.9 -.7M425.4 364.3l.4 -.3M443.7 325.1l.6 -.7M408.5 344.1l1.2 -1.1M420.7 336.8l1.4 -1.5M439.7 376l.9 -1.2M422.9 378.6l1.7 -.3M419.2 375.9l1.3 -.7" stroke="#303090" stroke-width="1.0" stroke-linecap="round" opacity="0.75" fill="none"/><path d="M411.2 372l.7 -1M411.4 343.2l.8 -.9M442.9 334l1.7 -.8M414.6 350.3l1 -1.3M415.4 357.2l1.7 -.3M421.6 361.9l.5 -.1M430 370.5l.4 -.1M431 373.5l1 -1.2M472.2 320.8l.6 -1M443.7 327.1l.5 -0M429.8 322.5l1.1 -0M431.6 322.8l1.4 -.3M450.6 346.4l.3 -.4M465.5 337.3l1.7 -.6M439.1 326.6l.2 -.2M411.8 333.8l1.3 -1.2M409.5 361.4l1.2 -.2M422.9 360.8l1 -1.2M436.4 369.5l.5 -.4" stroke="#3030c0" stroke-width="1.0" stroke-linecap="round" opacity="0.75" fill="none"/><path d="M456.8 324.1l.9 -1.1M421.5 369.6l1.2 -1.1M458.4 327.8l1.5 -.6M439.5 337l1.5 -.4M429.6 320.4l.8 -.9M463.4 323.8l1.1 -.4M461.3 340.2l.4 -.1M461.4 318.1l1.1 -.5M479.8 335l1.3 -.4M447.5 372.9l.3 -.4M427.7 371l.5 -.8M481.5 332.8l.5 -0M434.3 333.6l.7 -.1M450 345l1.1 -.9M466 317.6l.7 -.2M454.2 328.6l1.4 -.4M433.1 330.5l1.3 -1M422.8 371.1l.4 -.3M415.3 377.9l.7 -.5M415.4 360.1l.5 -.3M415.1 340.2l.9 -.5M431.9 347.3l.8 -1.2M410.8 342.4l1 -0M465.9 352.6l.6 -0M481.6 338.8l.4 -.5M432.9 336.7l.6 -.1M419.3 369.5l1.3 -.8M418 336.9l.6 -.6M439.9 345.8l1 -.8M410 326.6l1.8 -.1M410.1 372.5l.7 -.5M419.3 320.2l.5 -.3M427.1 369.7l1 -1M441.5 334.1l.9 -.1M468.5 319.3l1.6 -.7M462.9 332l1.2 -.6M419.5 343.2l.9 -.1M416.8 328.1l.7 -.4M413.3 323.4l.8 -.2M451.1 330.6l.4 -.3M430.2 326.7l1.8 -.2M448.7 334.4l1.5 -.3M417.9 341.9l1 -1.6M421.6 348.5l1.5 -.6M424.5 321.5l1.3 -.2M417.6 322.5l.7 -.8M478.1 340.5l.7 -.6M420.9 338.4l1.3 -.4M421.2 377.4l.4 -.5M422.3 350.2l.5 -.7M417.1 375.2l1.3 -1.1M426.5 364.7l1.1 -.5M445.4 320.1l1.2 -.3M457.6 317.1l.4 -.6M459.1 316.3l1.1 -.8M434.3 331l.8 -.5M440.1 332.7l.5 -.7M482.3 322.2l.5 -.4M407.7 363.5l1.8 -.2M473.7 333.9l1.7 -.3M409.3 333.2l.7 -.4M434 320.2l1.5 -.8M444.1 332.7l1.7 -.8M450.7 377.7l1.5 -1.1M430.7 336.4l.3 -0M409.8 324.2l.9 -.2M446.4 329.1l1.5 -.6M413.5 334.9l.7 -.6M410.6 332.5l.8 -.2M442.6 322.4l.7 -.4M443.2 331.5l.4 -.5M411.5 355.7l1 -.4M463.4 336.9l.8 -1.3M441.4 336.7l.9 -.6M455.3 323.2l.5 -.5M423.5 318.5l1.5 -0M434.2 338.3l1 -.7M449.7 340l1 -0M431 329.3l1.5 -1.3M424.2 338.9l.5 -.2M454.1 325.5l1.1 -.9M422.1 376.8l1 -.3M470 324.1l.3 -.2M425 324.5l.5 -0M451 376.2l1.1 -1.5M412.4 329l.3 -.1M409.7 320.1l1.7 -.9M435.4 341.1l.7 -.1M474.1 318.6l.9 -0M424 376.1l.5 -.1M408.7 378.5l.3 -.4M428.6 317l1 -.9" stroke="#3030a8" stroke-width="1.0" stroke-linecap="round" opacity="0.75" fill="none"/><path d="M444.8 338.1l.7 -.2M440.2 344.1l.7 -.2M419.6 375.3l.7 -.9M418.6 367.6l.6 -.6M454 330.1l.8 -.8M424.3 369.7l.6 -.5M464.3 323l.6 -.6M436.9 318.3l1.6 -.3M476.5 331.1l.8 -.5M413 369.4l.4 -.4M458.6 316.7l.4 -.3M437.7 351.3l1.5 -1.1M456.7 328.9l.8 -1.3M424.6 323.2l1.1 -1M470.3 340.2l.4 -.4M421.8 350.7l.2 -.3M454.3 339.2l.6 -1M411.5 378.4l.9 -.6M444.9 347.8l1.4 -.2M439.9 335.8l.4 -.4M411.4 352.3l.3 -.4M409.5 342l1.6 -.4M449.5 358.2l.9 -.9M469.5 324.3l.4 -.5M460 316.6l1 -1.2M432 339.5l.8 -.1M409 339.8l1.3 -1.3M414 352.2l.9 -1.1M419.8 354.6l1.1 -1M427.4 358.9l1 -1.6M443.7 367.5l1.1 -1M469.6 370.1l.6 -.3M466.7 319.5l.3 -0M471.8 325.4l.2 -.3M450.8 340.5l1.1 -.8M444.1 337.9l.5 -.7M456 353.6l.8 -.2M431.3 330.7l.2 -.3M420 320.4l1.3 -.1M437.1 330.1l.5 -.7M440.6 324.8l1.8 -.3M463.1 322.4l1.1 -1M408.8 343.3l.8 -.9M432.9 316.3l1.3 -1M445 320.6l.3 -.4M431.5 326.9l.4 -.3M440 329.2l1.3 -1.3M442 341.3l.7 -.3M411.9 318l.7 -.7M420.1 372.5l.7 -.1M411.6 361.9l.5 -.3M456.1 372.3l1.4 -.3M408.7 343.5l1.8 -.1M424.8 316l.9 -.8M467.5 333l1.1 -.3M436.8 318.1l1.5 -0M448.3 324.5l.9 -.8M409.6 373.9l1.6 -.8M458.7 338.7l.7 -.4M417.1 374.4l1.5 -.6M457.3 358l.2 -.3M418.6 326.1l.5 -.3M410.4 377.2l.9 -1M418.1 329l1.4 -.4M413.1 320.8l1.4 -.3M407.7 374l1.5 -.9M465.7 330.4l.7 -0M444.7 371.2l.7 -.2M456 333l.6 -.2M425 326.2l1.6 -.9M420.5 328.7l1.2 -.2M446 376l.9 -0M412 366.4l1.2 -.8M451.4 344.5l.7 -0M476.5 324.5l1.1 -1M426.3 321.3l.9 -.6M413.1 364.4l.9 -.5M463.8 318.4l.5 -.6M437.2 331.3l.7 -.8M408.6 334.4l.8 -.1M425.1 321.9l1 -.9M414.2 327.7l1.8 -.9M420.1 340.3l.4 -.3M416.1 340.3l1.2 -.5M427.7 327.3l1.1 -1.4M423.9 319.9l.5 -.2M443.3 318.3l.7 -.3M429.3 322.9l.9 -.3M424 359.5l.8 -.5M416 317.2l.3 -.3M480.6 333.5l.6 -.2" stroke="#3030a8" stroke-width="1.0" stroke-linecap="round" opacity="0.5" fill="none"/><path d="M436.9 353.2l.7 -.3M446 329.2l.4 -.5M429.2 363.4l.9 -.9M423.6 376.5l.6 -.9M423.6 376.5l1.3 -.4M412.2 331.5l.5 -.2M422.8 319.5l.2 -0M453.5 355.6l.9 -1.1M440.6 370.4l.2 -.1M468.3 371.7l.2 -0M410.8 335.1l1.4 -.3M412.8 355.1l.5 -.6" stroke="#4848c0" stroke-width="1.5" stroke-linecap="round" opacity="0.75" fill="none"/><path d="M439.3 315.5l.9 -.7M464.8 341.7l1 -.9M418.5 354.1l1.3 -.2M474.7 354.9l.4 -.2M452.4 317.9l.7 -.2M431 344.8l1 -0M477.1 344.4l.5 -.6M420.1 326.7l1.3 -.1M410.2 335.2l.7 -.6M417.5 372l.7 -.6M420.4 346.9l1.3 -.5M481.8 331.9l1 -.7M415.6 344.9l.5 -0M408.3 350.2l1 -1.4" stroke="#4848c0" stroke-width="1.0" stroke-linecap="round" opacity="0.5" fill="none"/><path d="M453.5 320.7l.6 -.2M460.4 317.9l.4 -.5M432.9 351.2l1.6 -.2M425.1 333.2l.3 -.4M411.5 361.7l.3 -0M425.1 356.8l.7 -.5M459.9 328.3l.5 -.2M474 331.7l1 -0M453.2 350.6l.9 -.1M424.9 329.9l1.4 -1M409.9 342.9l.7 -.1M409.6 342.8l1.2 -.1M437.6 363.1l.5 -.5M423.6 330.4l.6 -.5M414 343.6l1 -.1M413.4 374.7l.6 -.3M427.6 356.2l.7 -.6M424.3 334.4l1.5 -.6M474.2 321.5l1.7 -.1M424.9 355.4l1.7 -.1M439.2 341.5l.6 -.1M422.5 352.6l.6 -.7M425.4 322l.5 -.6M418.5 326.6l.8 -.3M422.7 325.6l.3 -.3M435.6 320.5l.2 -0M426.9 330.9l1.1 -.2M436.3 354.1l.6 -.8M435.9 328.2l.2 -.1M444 339.2l1.1 -.3M421.3 345.6l1.2 -.1M440.8 315.9l1.2 -1.2M437.3 319.6l.7 -.7M447 338.2l.6 -.6M473.8 327.2l1.2 -.6M434.7 323.4l.2 -.2M424.8 335.1l.7 -.3M417.2 341.8l.9 -1.2M412.5 343l1.8 -.9M462.4 368.9l.8 -1.4M416.6 329.5l1.2 -.6M410.3 323.5l1.5 -.9M428.8 320.2l1.2 -.1M411.6 328.9l1.1 -.4M421.1 358.1l.9 -1.2M459.8 338.1l1.7 -.1M420.3 335.1l.9 -.7M433.9 335.8l.9 -1M446.3 372.5l.4 -.2M455.3 330.8l1.5 -1.2M426.2 372.5l1.1 -1M423 371.9l.1 -.2M430.5 347.3l.7 -.2M434.1 360.2l1.2 -1.1M462.7 331.1l1.5 -.8M453.5 320.9l.2 -.3M413.9 374.2l1.4 -.8M433.1 344l1.4 -.2M443.6 315.8l.7 -.5M480.1 322.2l.8 -.6M421.3 367.2l.8 -.7M476.5 354.8l.6 -.7M450.1 319.5l.8 -.7M408.6 376.7l1.7 -.4M459.4 326.4l.7 -.1" stroke="#303090" stroke-width="1.0" stroke-linecap="round" opacity="0.5" fill="none"/><path d="M417.6 328l1 -.6M457.7 353.1l1.9 -.2M431.2 338.8l.3 -.2M443.7 346.9l.7 -.4M424.1 376.6l.8 -.9M445.4 321.7l1.3 -.1M461.5 327.4l.7 -.5M480.8 323.6l.4 -0M426.6 316.9l.8 -.8M415 351.5l.5 -.3M444.1 348.1l.9 -.4M408.6 376.2l1 -.7M423 337.4l.4 -.3M432.2 348.8l1.1 -.6M440.8 373.8l.5 -.7M436.6 324.5l.6 -.8M428.1 316.1l1.2 -.3M441.9 321l.3 -.4M431.8 322.3l.3 -.4M467.7 333.1l.3 -.4M408.8 332.3l1.1 -.4" stroke="#3030c0" stroke-width="1.0" stroke-linecap="round" opacity="0.5" fill="none"/><path d="M467 327.4l1 -1.2M469.7 331.5l.9 -0M481.4 338.4l1.1 -.1M450.2 349.7l.2 -.1M408.4 376.1l1.4 -.6M433.5 369.3l.4 -.5M453.5 355.5l.7 -.2M408.4 353.8l1 -1M440.2 321.1l.1 -.1M407.9 323.2l.6 -.9M417.2 322.2l.4 -.7M412.7 333.9l.3 -.4M477.3 344.6l.2 -.1M432.6 325.1l1.2 -.2M469.3 338.2l.6 -.7M448.7 333.9l1.3 -1M415.5 378.9l.7 -1M456.1 329l.8 -.5M415.4 335.7l.4 -.7M426.3 342.1l.2 -.2M467.7 319.4l1.2 -.7M424.4 344.4l.3 -.2M455.9 327.4l.2 -.2M443.7 319.1l1 -.8M410.2 334.3l.8 -.6M418.8 331l.6 -.7M418.2 331.9l.1 -.2M437.1 343l.2 -.3M477.7 339l1.1 -.4M416.8 368.5l1.1 -.1M455 347.5l1.3 -.1M465.8 324.4l.4 -.5M414.7 339.7l.2 -0M445 326.5l.3 -.3M409.2 365l.2 -.2M426.7 339.6l1.1 -.9M407.8 341.8l1.1 -.2M444.2 338.4l.8 -.6" stroke="#3030a8" stroke-width="1.5" stroke-linecap="round" opacity="0.75" fill="none"/><path d="M414 324.2l.1 -.1M423.7 347.7l.5 -.4M410.1 322.6l.3 -.2M438.9 349.9l.5 -.7M421.4 368.7l.4 -.3M412.1 371.4l1 -.2M416.8 355.6l.3 -.3M425.7 356.9l.4 -.2M471.1 334.5l.1 -0M411.5 340.4l.5 -.8M421.7 337.8l.4 -.6M465.7 335.8l.6 -.4M430.4 358.4l.7 -.1M423.2 352.3l.2 -.2M437.2 333.5l.4 -.1M413.6 369.6l.4 -0M414.6 365l1.2 -.1M447.9 349.3l.9 -1.1M451.1 315.3l.2 -.2M413.1 369.9l.9 -1.3M437 316.6l.3 -.1M452.3 353.9l.3 -.4M459.6 319.3l.2 -.3M408.9 357.8l.6 -.5M423.2 326.7l.8 -1.1M412 322.5l.6 -.8M420.2 342.4l1.6 -.7M434 345.4l.6 -.9M412.9 353.3l.3 -0" stroke="#303090" stroke-width="1.5" stroke-linecap="round" opacity="0.5" fill="none"/><path d="M412 317.6l1.4 -.6M411.4 340l1.1 -.5M460.7 336.9l1.2 -.5M454.2 327.6l.9 -0M438.7 318.3l.4 -.2M437.1 320.1l1.3 -.7M422.7 328.1l1.5 -.1M435.4 368.7l1.2 -.4M473.5 323.5l.6 -.9M433 341.5l1.1 -1.4M417.6 376.1l1.3 -1.2M438.1 355.4l1.5 -.2M410 352.9l1.1 -0M425.8 348.7l1 -1.4" stroke="#4848c0" stroke-width="1.0" stroke-linecap="round" opacity="0.75" fill="none"/><path d="M479.5 326.1l.3 -.2M453.6 336.3l.1 -.1M415.9 334.6l1.1 -.8M426.6 327.8l.8 -1M420.2 325.5l.3 -.1" stroke="#4848c0" stroke-width="1.5" stroke-linecap="round" opacity="0.5" fill="none"/><path d="M420.8 373.8l1.2 -0M462.4 353.8l.1 -0M462.1 327.7l.8 -1M472.6 334l1 -.4M453.1 329.3l1 -.6M413.3 332.9l.5 -.6M444 351.7l.7 -.5M479.3 359.2l.4 -.2M428.1 362.9l.1 -.2M446.4 317.4l1.1 -1.2M414.1 339.7l1.1 -.4M461 326.4l.6 -.2M460.9 330.1l1.2 -.6M421.8 355.3l.9 -.5" stroke="#3030c0" stroke-width="1.5" stroke-linecap="round" opacity="0.5" fill="none"/><path d="M433.5 367.6l1.3 -.5M417.1 323.7l1.6 -.2M438.3 339.3l.5 -.2M412 339.9l1.2 -.8M419.5 376l.8 -1M427.8 326.8l.4 -.2M419.7 363.3l.3 -.1M436.8 317.1l1.2 -.4M415.9 316.6l.3 -.4M450.5 322.8l.2 -.2" stroke="#3030c0" stroke-width="1.5" stroke-linecap="round" opacity="0.75" fill="none"/></g>
<rect x="465" y="374.2" width="13" height="0.6" fill="#ddd"/><text x="471.5" y="377.4" font-size="3.1" text-anchor="middle" fill="#eee" font-weight="bold">100 µm</text>
</g>
<g clip-path="url(#cG2)">
<rect x="408.2" y="381.0" width="74.4" height="62.8" fill="#030308"/>
<g filter="url(#soft)"><path d="M424.4 416l1.4 -.4M429.3 424l.8 -.2M411.9 398.8l1.2 -.3M409.2 441.7l1.4 -1M426.4 418.4l1.2 -.7M414.2 422.8l1 -1M413.4 434.2l.4 -.7M476.7 433.1l.5 -.9M427.3 401.6l.5 -.7M431.6 386.4l.5 -.9M481.6 382l.9 -1.6M441.8 407.9l1.4 -.4M424 422.6l1.2 -.7M410.6 406.4l1.7 -.4M420.6 439.9l.4 -.2M443.2 407.8l1.2 -.6M434.6 411.4l.4 -.7M413.8 382.3l.9 -.5M433.7 416.3l.3 -.6M425.3 412.7l1.2 -.3M432.3 434.2l1.6 -.1M477.1 443l.5 -.8M428.3 407.4l.8 -.7M410.3 422.1l1.5 -.1M470.2 435.7l1.3 -.2M435.3 384.2l.6 -0M433.5 399.1l.4 -.1M428.8 427.8l1.2 -.8M434.4 422.1l.4 -.7M446.5 402.1l.4 -0M415.2 419.3l.7 -.4M441.1 407.4l.5 -1.3M434.3 389.2l.4 -.9M408.2 385l.4 -.2M412.9 427.5l.2 -.4" stroke="#3030a8" stroke-width="1.0" stroke-linecap="round" opacity="0.75" fill="none"/><path d="M442.3 383.8l1.2 -0M432.8 413.7l.1 -0M417.6 401.2l.2 -.1M419.3 393.5l.9 -.3M427.6 408.1l.5 -.1M443.2 443.2l.5 -.6M433.4 417.4l1.6 -.2M424.7 437.9l1.3 -0M433.9 426.2l.6 -.3M434.5 409.6l.2 -.3M411.1 426.8l.1 -0M464.2 403.9l.6 -.8M429.8 438.4l.7 -0M424.9 423.3l1.2 -.9M423.2 433l1.1 -.6M410 440.3l.4 -.1M438.3 434.5l.2 -.3" stroke="#303090" stroke-width="1.5" stroke-linecap="round" opacity="0.5" fill="none"/><path d="M435.6 410.7l.3 -.4M449.4 400.4l.8 -.7M438.2 432.2l.5 -.2M412.7 419.1l.8 -1.4M429.2 390.9l.3 -.4M428 403.9l.7 -.1M421.2 442.9l1.2 -.7M418.9 413.4l.6 -1M454.3 435.3l.4 -.9M446.5 400.9l.2 -.4M430.5 405.8l.4 -.1M446.1 406.9l1.6 -.7M428.6 394.1l.7 -.9M443.7 441.4l.8 -1M426.3 420.6l1.7 -.7M418.1 431.4l.7 -1.4M431.8 402.8l.5 -.2M413.5 409.2l.4 -.3M474.8 403l.7 -1M433 391.5l1.1 -.6M477 397.8l.3 -.4M440.2 391l1.8 -.3M435.5 414.9l.3 -.3M436.4 392.5l.8 -.2M412.6 391.9l1.4 -.5M425 415.9l1.3 -.9M427.4 407.7l.8 -.8M424.9 387.9l1.6 -.4M453 405.9l.3 -0M409.8 433.8l.6 -.5M412.4 418.5l.7 -.2M441.4 393.2l1.2 -.5M434.6 381.8l1.5 -1.1M422.2 422l1 -.6M428.6 403.4l1.6 -.2M410.5 398.4l.4 -.2M440.3 437.6l1.5 -1M413.4 416.5l.9 -.5" stroke="#3030a8" stroke-width="1.0" stroke-linecap="round" opacity="0.5" fill="none"/><path d="M414.2 407.6l.6 -1M431.2 440.9l1.2 -.1M409.5 396.2l1.6 -.2M438.6 407.3l.5 -1.2M437.3 438.7l.2 -.5M410.8 441.5l.2 -.4M418.9 384.8l1.1 -1.6M408.8 418.8l1.6 -.8M430.2 416.1l1.3 -.8M416.6 439l.9 -.8M423.2 439l1.5 -0M441.6 389.2l1.3 -.1M440.4 389.1l1.1 -.5M426.8 428.8l1.1 -1M428.1 414.3l.4 -1M422.5 423.9l.4 -.4M407.9 430.8l1.5 -.9M409.3 414l1.4 -.6M446.9 394.7l.3 -.6M434.6 392.2l1 -.3M421.1 422.3l.5 -.3M452.9 396.6l.5 -.4M442.8 389.8l1.5 -1.1M409.8 405.9l1.4 -.6M428 437.4l.6 -.5M412.5 413.2l1.5 -.1M427.3 420.5l.8 -.2M415.4 398.9l.7 -1.4M454.9 424.6l1.7 -.5M434.9 430.4l.2 -.5M428.4 418.8l1.7 -.7M414.3 442.6l.9 -.9M426.1 428.5l.7 -1.3M431.8 396.1l1.3 -.7M419.1 395l.7 -1M419.8 423.6l.6 -.6M410.8 431.8l.3 -.7M426.3 413.2l1.2 -.8" stroke="#303090" stroke-width="1.0" stroke-linecap="round" opacity="0.5" fill="none"/><path d="M418.8 382l.2 -.3M414.3 426.6l1.9 -.1M432.8 393.7l1.2 -1.3M415.9 420l1.1 -.2M423 440.9l1.2 -1.5M432.9 384.4l1.4 -.4M460.7 383.1l.8 -1M417.8 435.4l.7 -.7M414.9 387.9l1.4 -.3M412.6 441.9l.7 -0M417.5 408.7l.9 -.3M422 407l1.4 -.6M415.3 410.6l.4 -.4M419.1 440.4l1.2 -.6M435.8 422l.3 -.2M409.3 413.5l1.1 -.3M426.5 404.6l.8 -1.4M408.5 416.5l1.2 -1.1M446.9 401.3l.8 -.7M415.5 389.4l1.6 -.8M427.2 415.4l.4 -.6M417 439.7l1.4 -.5M435.9 430.6l.8 -0M479.8 410.4l.3 -.3M418.7 399.2l.2 -.1M414.4 408.6l1.1 -.8M410.4 388.6l.5 -.6" stroke="#303090" stroke-width="1.0" stroke-linecap="round" opacity="0.75" fill="none"/><path d="M437.4 400.3l.7 -.8M442.8 430.3l.3 -.1M419.5 427.1l.6 -0M440.4 410.6l.1 -.3M430.3 418.3l.3 -.4M421.3 407l.5 -.1M419.7 429.7l.9 -0M415.3 432.1l.8 -.4M439.7 408.1l.9 -0M457 433.2l.4 -.3M420.7 395.5l.9 -1.3M425.8 390.5l.2 -0M468.6 412.4l1.1 -.2M423.7 418l.2 -.2M420.4 398.8l.6 -0M474.6 387.3l1.3 -.2M426 404.4l.6 -.7" stroke="#3030a8" stroke-width="1.5" stroke-linecap="round" opacity="0.5" fill="none"/><path d="M438.5 384.2l1.3 -.3M415.2 390.9l.2 -.5M424 427.9l.5 -.2M418.4 409.3l.5 -1.1M439 414.9l.5 -.3M410 397.5l.2 -.1M420.4 443.8l1.4 -.5" stroke="#181890" stroke-width="1.0" stroke-linecap="round" opacity="0.75" fill="none"/><path d="M427.6 390.1l.8 -.7M423.6 428.4l.3 -.5M414.1 395.4l1.8 -.5M420.5 394.3l.7 -0M433.5 411.1l.8 -1.4M416.5 436.7l.6 -.2M437.7 386.9l1.1 -1.6M419.9 394.2l.4 -.9M408.8 413.4l.6 -.8M416.9 395l.3 -.8" stroke="#181890" stroke-width="1.0" stroke-linecap="round" opacity="0.5" fill="none"/><path d="M410.8 393.9l.8 -.4M435.3 407.7l.9 -1M427.5 438.8l.7 -.9M437.6 383.7l.6 -.9M415 381.7l.5 -1.3M441 409.4l.5 -1.3M417.1 428.5l1.1 -.5M432.1 386.4l0 -0M433.1 395.9l.6 -1.1" stroke="#3030a8" stroke-width="1.5" stroke-linecap="round" opacity="0.75" fill="none"/><path d="M446.7 391.6l1.2 -.7M420.8 437.3l.3 -.7M419.2 385.2l.8 -.5M470.2 394.8l.4 -.8M411.2 428.2l1.5 -.2M426.3 416l.5 -.2M429.7 415.5l.7 -.8M436.9 415.9l.3 -.1M438.1 390.7l.2 -0" stroke="#303090" stroke-width="1.5" stroke-linecap="round" opacity="0.75" fill="none"/><path d="M429.8 406.8l.9 -.3M435 405.7l.2 -.1M411.7 436l.5 -1M429.1 396.7l.9 -0M436.3 433.6l1.2 -.2" stroke="#181890" stroke-width="1.5" stroke-linecap="round" opacity="0.75" fill="none"/><path d="M434.7 432.7l.9 -1.2M436.1 405.9l.3 -.3M422.4 405.2l.4 -.8" stroke="#181878" stroke-width="1.0" stroke-linecap="round" opacity="0.5" fill="none"/><path d="M426.3 423.3l.6 -.7M434.2 381.9l.9 -.2" stroke="#181878" stroke-width="1.0" stroke-linecap="round" opacity="0.75" fill="none"/><path d="M422 390.7l1 -0" stroke="#181878" stroke-width="1.5" stroke-linecap="round" opacity="0.5" fill="none"/><path d="M423.1 442.3l.9 -0" stroke="#181890" stroke-width="1.5" stroke-linecap="round" opacity="0.5" fill="none"/><path d="M439.3 388.7l.2 -.4" stroke="#181878" stroke-width="1.5" stroke-linecap="round" opacity="0.75" fill="none"/></g>
<path d="M456.6 383.7l.3 0M459.9 424.6l.6 0M468.5 443.1l.5 0M428.2 398.8l.3 0" stroke="#90d8d8" stroke-width="1.0" stroke-linecap="round" opacity="0.75" fill="none"/><path d="M428.9 398.5l0 0M474.2 419.7l0 0" stroke="#78c0f0" stroke-width="1.0" stroke-linecap="round" opacity="0.75" fill="none"/><path d="M478.3 443.7l0 0" stroke="#60c0f0" stroke-width="1.5" stroke-linecap="round" opacity="0.75" fill="none"/><path d="M430.8 407.2l0 0M438.6 393.8l.1 0M430.9 431.3l.5 0" stroke="#78d8d8" stroke-width="1.0" stroke-linecap="round" opacity="0.5" fill="none"/><path d="M453.5 390.5l.4 0" stroke="#90d8d8" stroke-width="1.0" stroke-linecap="round" opacity="1.0" fill="none"/><path d="M432.2 393.2l0 0" stroke="#90d8f0" stroke-width="1.0" stroke-linecap="round" opacity="0.75" fill="none"/><path d="M445 388.7l.2 0" stroke="#78d8d8" stroke-width="1.5" stroke-linecap="round" opacity="0.75" fill="none"/><path d="M482 423.7l.1 0M443.9 382.5l0 0" stroke="#78d8f0" stroke-width="1.5" stroke-linecap="round" opacity="0.5" fill="none"/><path d="M431.6 398.7l0 0" stroke="#a8d8f0" stroke-width="1.5" stroke-linecap="round" opacity="0.75" fill="none"/><path d="M479.7 421.9l.1 0" stroke="#78c0c0" stroke-width="1.0" stroke-linecap="round" opacity="0.5" fill="none"/><path d="M453.3 439.6l.6 0" stroke="#90c0f0" stroke-width="1.0" stroke-linecap="round" opacity="0.5" fill="none"/><path d="M432.3 388.3l0 0" stroke="#60d8c0" stroke-width="1.0" stroke-linecap="round" opacity="0.75" fill="none"/><path d="M439.4 381.4l0 0M453.2 430.5l.3 0M428.8 411l.4 0" stroke="#78d8c0" stroke-width="1.0" stroke-linecap="round" opacity="0.75" fill="none"/><path d="M441.4 412.3l0 0" stroke="#78c0c0" stroke-width="1.5" stroke-linecap="round" opacity="0.75" fill="none"/><path d="M440.6 429.7l0 0" stroke="#90c0d8" stroke-width="1.5" stroke-linecap="round" opacity="0.5" fill="none"/><path d="M468.7 402.9l.1 0" stroke="#90d8c0" stroke-width="1.0" stroke-linecap="round" opacity="0.75" fill="none"/><path d="M477.6 421.7l0 0" stroke="#78f0f0" stroke-width="1.0" stroke-linecap="round" opacity="0.75" fill="none"/><path d="M432.8 401.4l0 0" stroke="#78d8c0" stroke-width="1.5" stroke-linecap="round" opacity="0.5" fill="none"/><path d="M442.1 393.7l.2 0M453.3 409.8l.1 0M481.5 400.4l.2 0M463.7 420.9l0 0M435.2 401.7l.3 0M459.8 417.3l.2 0M443.2 395.8l0 0" stroke="#90c0d8" stroke-width="1.0" stroke-linecap="round" opacity="0.75" fill="none"/><path d="M476.8 416.3l0 0" stroke="#90c0d8" stroke-width="1.0" stroke-linecap="round" opacity="1.0" fill="none"/><path d="M476 424.8l.3 0" stroke="#78d8f0" stroke-width="1.5" stroke-linecap="round" opacity="0.75" fill="none"/><path d="M425.2 427.9l.4 0M456.9 424.8l.2 0M441.1 401l.2 0" stroke="#90c0f0" stroke-width="1.0" stroke-linecap="round" opacity="1.0" fill="none"/><path d="M427.6 437.3l.3 0" stroke="#78d8f0" stroke-width="1.5" stroke-linecap="round" opacity="1.0" fill="none"/><path d="M472.4 393.3l0 0" stroke="#90c0c0" stroke-width="1.5" stroke-linecap="round" opacity="0.75" fill="none"/><path d="M473.3 433.8l.3 0M432.1 396.1l.4 0" stroke="#78d8c0" stroke-width="1.0" stroke-linecap="round" opacity="0.5" fill="none"/><path d="M462 441.8l0 0" stroke="#78c0d8" stroke-width="1.0" stroke-linecap="round" opacity="0.5" fill="none"/><path d="M414.7 415.4l0 0" stroke="#60c0c0" stroke-width="1.5" stroke-linecap="round" opacity="0.5" fill="none"/><path d="M423.1 412.1l.1 0M479 427.1l.3 0M455.3 423l.5 0" stroke="#78c0f0" stroke-width="1.0" stroke-linecap="round" opacity="0.5" fill="none"/><path d="M431.5 387.3l.2 0M429.2 408l0 0" stroke="#90c0c0" stroke-width="1.0" stroke-linecap="round" opacity="0.75" fill="none"/><path d="M481.9 429l0 0" stroke="#78c0d8" stroke-width="1.0" stroke-linecap="round" opacity="1.0" fill="none"/><path d="M438.1 400l.4 0M478.9 414.6l.3 0" stroke="#a8c0f0" stroke-width="1.0" stroke-linecap="round" opacity="0.75" fill="none"/><path d="M459.2 410.4l.3 0" stroke="#78c0f0" stroke-width="1.5" stroke-linecap="round" opacity="1.0" fill="none"/><path d="M466 414.2l0 0" stroke="#90d8d8" stroke-width="1.5" stroke-linecap="round" opacity="0.75" fill="none"/><path d="M454.7 413.3l.1 0" stroke="#60c0d8" stroke-width="1.0" stroke-linecap="round" opacity="1.0" fill="none"/><path d="M427.4 407.6l.4 0" stroke="#90f0d8" stroke-width="1.0" stroke-linecap="round" opacity="0.75" fill="none"/><path d="M458.1 426.3l.4 0" stroke="#60c0d8" stroke-width="1.0" stroke-linecap="round" opacity="0.5" fill="none"/><path d="M432.6 400.3l.1 0" stroke="#60c0c0" stroke-width="1.5" stroke-linecap="round" opacity="1.0" fill="none"/><path d="M474.9 410.4l.4 0" stroke="#90d8f0" stroke-width="1.0" stroke-linecap="round" opacity="0.5" fill="none"/><path d="M448.5 410.4l0 0" stroke="#90c0c0" stroke-width="1.5" stroke-linecap="round" opacity="0.5" fill="none"/><path d="M443.6 420l.1 0" stroke="#78d8d8" stroke-width="1.5" stroke-linecap="round" opacity="0.5" fill="none"/><path d="M436.7 411.1l0 0" stroke="#78d8d8" stroke-width="1.0" stroke-linecap="round" opacity="0.75" fill="none"/><path d="M453 437.6l.1 0" stroke="#90c0d8" stroke-width="1.5" stroke-linecap="round" opacity="0.75" fill="none"/><path d="M481.7 383.1l0 0" stroke="#78c0c0" stroke-width="1.0" stroke-linecap="round" opacity="0.75" fill="none"/><path d="M438.9 423l.1 0" stroke="#60d8f0" stroke-width="1.0" stroke-linecap="round" opacity="0.75" fill="none"/><path d="M460.6 428.8l0 0" stroke="#60f0d8" stroke-width="1.0" stroke-linecap="round" opacity="1.0" fill="none"/><path d="M440.1 397.5l0 0" stroke="#90d8d8" stroke-width="1.5" stroke-linecap="round" opacity="1.0" fill="none"/><path d="M448.5 443.6l0 0" stroke="#78d8c0" stroke-width="1.5" stroke-linecap="round" opacity="0.75" fill="none"/><path d="M456 418.4l0 0" stroke="#90c0d8" stroke-width="1.0" stroke-linecap="round" opacity="0.5" fill="none"/>
<rect x="465" y="440.0" width="13" height="0.6" fill="#ddd"/><text x="471.5" y="443.2" font-size="3.1" text-anchor="middle" fill="#eee" font-weight="bold">100 µm</text>
</g>
<g clip-path="url(#cG3)">
<rect x="408.2" y="446.6" width="74.4" height="63.4" fill="#0b0b26"/>
<path d="M452,446.6 L482.6,446.6 L482.6,472 Q472,452 452,446.6 Z" fill="#030308" filter="url(#blur1)"/>
<g filter="url(#soft)"><path d="M417.1 462.5l.5 1M475.2 479.8l0 -0M471 505.2l.4 -.5M422.7 487.3l0 0M437.6 454.7l.1 -0M411.8 497.8l.3 .2M482 497.8l.2 -.6M454.6 473.3l.7 -.7M424.1 480.6l.1 .1M452 478l0 -0M427.6 489.6l.6 -0M469.3 468.2l.2 -.1M417.9 463.7l.4 .5M428.8 480.9l0 .1M424.1 481.2l.2 .2M432.2 492.3l0 -0M421.4 452.7l.4 .5M439.8 448.5l.2 .4M447.5 478l.1 0M476.8 502l.1 -.4M434.8 447.9l.4 -.4M456.9 465.2l.6 -.4M429.8 494l.1 .1M413.9 500.2l.1 .1M448.4 451.3l.1 .3M421 468l0 -0M417.7 480.7l.2 .2M426.9 490.5l.4 .2M441.6 455.5l.4 -.5M416.7 502.9l.1 -.4M474 502.8l.8 .3M454.3 480.7l.1 -1M469.1 485.1l.6 .7M465.7 470.7l.3 .7M464.3 500.5l.6 .4M478.2 495.2l0 .1M415.5 472.9l0 0M478.2 508.9l.5 -.5M473 483.4l.3 0M411 487.1l.2 0M455.1 466.9l.6 -.6M455.9 453.3l.7 -.4M412.6 475.7l.1 -.6M474.8 505l.2 -.1M466.7 480.2l.4 .4M420.2 498.8l.9 .5M437.7 459.8l.5 -.7M440.6 483l.8 -.2M473.6 508.1l.3 0M433.8 478.4l.2 1.1M462.7 509.7l.6 .2M450 486.9l0 0M458.1 491.4l.2 .2M425.3 471.9l.6 -0M424.1 483.7l.1 .2M417.2 505.6l.7 -.6M474.4 508.4l.3 -.2M430.1 481.4l0 0M417.6 487.9l0 -.1M411.7 462.4l.6 -.7M438.9 484.3l.1 -0M418.8 448.7l.5 .2M465.1 474.9l.1 -.3M476.7 465.5l.2 .1M469.8 505.2l.5 -.9M435.1 447l.1 .7M445.6 476.1l.5 -.7M418 504.1l.9 -.7M479.2 476l.2 -.2M425.3 507.9l.1 -.1M423.5 481.5l.5 -.4M430.5 505.8l.6 .4M479.9 508.6l0 -.2M457.4 484.2l.7 .2M417.1 496.3l.8 .2M467 507.1l.9 .2M424.4 503.4l.3 .1M480.3 491l.5 -.5M452.6 458.5l.2 -.3M433 501.3l.1 .2M439 493.7l.2 .6M418.4 490.9l0 0M426.2 457.9l0 0M444.3 493.6l.2 .6M460.8 482.7l.2 -.1M474.8 473.1l.6 -.6M471.6 489l0 -.2M429.5 489.9l.4 -0M463.2 477.8l0 -0M440.3 500.2l.6 -.3M415.4 474.2l.4 .3M465.3 509.7l.6 -.9M429.5 504.2l.4 .6M413.6 457l.2 -.2M451 474.9l.4 .7M481.2 483.9l.1 .2M428 501.4l.7 -.1M447.5 459.5l.9 .1M418.7 478.2l.4 .2M425.8 468l.3 .5M449.7 459l.2 .2M418.5 488.2l.2 -.2M444 506.5l.1 .2M417.9 480.5l.4 .6M435 460.3l.7 -.2" stroke="#181860" stroke-width="1.0" stroke-linecap="round" opacity="0.5" fill="none"/><path d="M428.6 489.8l.3 .3M423.9 508.6l.2 .7M466.6 503.9l.8 .2M425.5 494.9l.1 -.4M448.9 507.6l0 -0M455.4 454.5l.3 -.5M469.3 466.7l.4 -.5M429.3 495.6l.1 .7M420.3 475.2l.7 -.1M443.6 468.4l.8 .2M434.8 490.2l.2 -.1M417.5 452.5l.2 .2M418.3 487.9l.1 -.1M467.5 466.7l.8 -.1M424.3 462.3l.8 -.5M472.1 474.9l.7 -.2M430.4 480.1l.4 -.9M442 491.2l.3 .1M416.5 505.5l.1 -.2M435.8 448.7l0 -.3M431.6 493.4l.6 .6M419.8 494.9l.3 0M459.7 485.3l.6 .2M432.7 484.1l0 .2M460.9 467.8l.2 1.1M479.4 482.2l.4 -.5M445.9 458.2l.1 .1M474.8 493.5l.1 -.4M436.6 484.2l.2 .1M436.7 491l0 -0M441.6 469.7l.8 -0M426.8 502.2l.3 -.6M418.3 454.7l.8 -.3M436.5 500.9l.3 -.1M442.2 497.9l.2 -.9M412.2 454.2l.5 -.2M409.2 504.2l.5 -.1M409.8 503.6l.6 -.6M410.8 478.4l.8 .2M450.1 452.7l.5 -.2M433.3 504.3l.3 -.4M435.9 496.5l0 0M433.6 486.2l.4 .1M476.8 487.7l.6 .6M468.4 476.7l.3 .1M475.7 480.9l.5 -.1M452.1 499.8l.3 0M421.7 476.4l.1 -1M430.5 465.4l.2 .8M468.7 484.2l.1 -.3M419.5 499.3l.1 -.4M465.5 509.3l0 .1M414.7 499.9l.1 .4M472.8 500.9l.1 .7M433.2 448.1l.4 -.3M442.6 454.1l.3 .8M409.3 493l.5 -.3M462.3 486.4l.3 .6M464.6 509.5l1.1 0M431.9 463.9l0 -0M409.1 493.7l.3 -.1M419.4 509.2l.6 -0M458.8 492.3l.1 .3M447.6 483.1l.1 .1M441.1 496.3l.2 .7M455.7 499.8l.8 -.1M452.7 486.7l.1 -.4M418.7 449.7l.1 .2M423.3 479.3l.9 .2M409.8 507.8l0 0M409.2 468.8l.2 -.4M426.9 491.9l.1 .2M433.8 483.7l.1 -.1M478.6 490.9l.5 .5M435.9 502.4l.6 .3M450.8 461.5l.7 .3M428.8 476.7l.3 1.1M449.5 498.3l.2 .9M452.8 509.4l.1 -.3M457 503.9l.6 -.3M458 493l.3 .3M449.6 459.2l.5 .4M472.4 488.6l.1 .5M411.9 475l.3 .8M444.7 488l.2 -.7M426 499.2l.2 -.7M412.9 506.3l.2 0M417.2 475.4l.6 -.5M445.1 492.1l.2 .3M454.5 452.1l.2 .7M433.1 481.7l.2 .3M480.2 500.8l0 -0M421.8 508.4l.1 -.1M410.1 452.2l.2 .1M475.3 509.8l.3 -.7M449.2 477.9l0 0M446.8 450.2l0 0M425.7 494.5l.2 .1M448 456.5l.1 -.1M472 453.1l.1 0M432 484.7l0 .1M432.9 480.7l.4 -.2M451.3 490.1l0 -.1M415.6 494.8l.4 .4M463.7 468.4l.8 .3M470.6 496.7l.1 -.8M434 490.1l.1 .2M411.9 507.9l.1 .9M443.1 473.5l.1 .1M476.4 491.2l0 -.1M421.5 486.4l.1 -.1M447.5 508.3l.4 .8M419.7 481.8l0 .2M455.6 470.3l.9 .4M463.7 474.8l.1 .4M415.1 493.7l0 0M465 481.3l.6 -0M420.1 476.5l.5 .3M479.1 508.9l.3 -.1M434.6 493.6l.5 -.3M423.1 490.4l0 -.1M470.5 485l.5 -0M457 509.1l.3 -.2M438.6 462l.8 .1M408.7 496.1l.2 .1M469.8 476.1l.1 -.6M417.2 481.2l0 0M474 485.6l0 -0M450.6 492.5l.1 .3M408.8 493.3l.7 .2M444.8 455.5l.3 .5M458.5 491.9l.7 -.1M469.5 504.8l0 0M409.7 503.3l.1 -.1M428.3 486.3l.1 .9M436 467l.8 -.1M418.4 476.1l.5 -.7M410.7 459.5l.3 -.3M437.9 460.4l0 -0M446.5 469.3l0 -.1M460.6 481.2l.4 .2M452.8 476.5l.6 -.4M444.7 492.4l.3 -.2M433.6 504.5l.2 -.5M444.1 471.5l.6 -.1M415.7 484.3l.2 -.3M435.6 455.9l0 0M446.6 483.1l.2 -.5M410.8 472.5l.2 -.2M446.9 492.9l.1 -.3M409.8 502.3l.7 .4M418.4 475.5l.6 1M425.4 482.9l0 .3M417.8 468.8l.6 .5M431.6 490.4l.4 -.3M446.4 467.1l.5 -.2M443 483.5l.3 .2M414.1 506.7l.1 1.1M419.1 498.3l.8 .2M424.5 504l.6 .8M471.1 473.1l.5 -.4M478.8 504.6l.4 -.9M434.2 447l.7 -.6M470.7 493.8l.4 .8M429 465.5l.6 .1M415.2 455.8l.9 .2M429.2 503.6l.5 -.6M443.2 496.3l.8 -.1M477.7 477.3l.7 -0M432.4 488.1l0 -.6M427.5 496.7l.1 -.7M443.9 485.6l.7 -.2M475 496.9l.6 -0M440.6 470.2l.7 .4M408.7 496.7l.4 -.1M421.7 449.7l.8 .5M467.1 483l0 .1M442.7 464.7l.8 -.4M432.4 482.9l.3 .2M431.9 456.1l.7 .2M426.8 454.8l.6 -.2M428.4 507.7l0 -0M423.6 486.7l0 0M424.3 496.1l.1 0M442.7 486.6l.6 0M469.9 499.4l.6 -.3M414.4 499.1l1.1 -.1M479.8 493.6l.3 -.1M462.1 466l.1 0M472.4 472.1l0 -0M445.6 467l0 .8M434.9 490.5l0 .1M473.6 486.1l.6 .1M429.7 461.8l.3 -.6M476.2 476.1l0 -.7" stroke="#303078" stroke-width="1.0" stroke-linecap="round" opacity="0.5" fill="none"/><path d="M461.7 473.7l.6 .4M428.2 459.7l.3 -.1M421.6 452.7l.6 .2M427.4 501.2l.5 -.3M424.4 504.2l.8 -.1M447.1 491.5l.7 .6M452.5 447.7l0 .2M412.2 504.1l.3 -.2M419.2 484.1l.2 -1M410.8 494.3l.1 -.3M428.1 451.7l.6 -.3M424.8 481.9l.4 -.1M430.1 448.7l0 .4M431.9 463l.6 -.2M409.8 499.6l.2 -.1M411.7 489.7l.1 .2M416.1 456.5l.2 -.8M445.2 451.6l.6 -.2M465.4 500.6l.1 -.7M480.1 472.3l.8 -0M412.7 505.3l.3 -.3M435.6 496.6l.4 .2M459.6 508.1l.1 .3M432.7 493.5l.7 -.3M436.4 500.1l.1 -.7M478.7 494.1l0 -.8M411.4 457.8l.6 -.4M468.6 480.4l.3 .4M425.2 493.7l.3 -.9M473 477.7l.1 0M451 480.9l.4 .1M438.4 507.6l.3 .7M448.5 506.6l.1 -0M468.6 487.4l0 -.1M441.5 483.1l.1 .1M453 453.6l.6 -.7M466.7 493l.6 .1M429.4 499.2l0 0M431.7 499.3l.7 -.4M470.5 470.6l.1 .2M454.7 494.2l0 .1M457.7 480.3l.9 .3M466.6 501.7l.2 .8M439.1 459.6l.2 -.3M479 471.7l1 -.3M468.8 499.2l.1 -.8M450.6 459.9l.2 -.4M477.2 497.1l.7 -.4M476.7 469.3l.4 -.1M436.1 471.9l0 .5M441.7 492.3l.1 -.3M461 465.3l.3 .1M432.1 479.2l.6 .1M447.7 474.1l.1 .5M416.6 455.1l.2 .6M433.5 504.2l.4 .3M463.7 469.8l.6 -.3M432.7 460l0 -1M415.8 448.1l0 -.3M443.2 484.8l0 .3M465.8 470.3l.1 0M414.5 498.4l.3 -1M473.3 470.6l.6 .1M471 491.3l.1 .1M473.7 510.1l.8 -.3M437.7 458.4l.2 .2M462.6 496.7l.1 .7M431.4 506l.1 0M424.1 500.3l.4 .2M421.8 492.5l.2 .3M442.3 457l.6 -.3M426.6 489.6l.3 -0M442.7 496l.5 -.2M448.2 478.7l0 0M454.4 503.2l.2 -.4M420.1 504.3l.7 -.4M460.8 491.9l.7 .1M454 454.3l.3 -.1M437.6 484.4l.3 -.5M461.6 508.8l1 .2M427.6 491.1l.5 0M446.7 499l.6 -.7M480.6 497.3l.3 -.2M415.1 465.9l.1 -.4M419.6 447.2l.1 .5" stroke="#303078" stroke-width="1.0" stroke-linecap="round" opacity="0.75" fill="none"/><path d="M428.5 485.2l.2 .2M411.7 475.8l.1 .4M429.1 482.1l.1 -0M433.7 501.6l.6 -.7M444.9 491.1l.1 .9M480.1 469.7l.1 .1M440 503.5l.6 .4M434.8 502l.6 -.1M415.2 499.6l.6 -.5M427.2 469.2l.3 .4M409.7 475.9l.2 .9" stroke="#303090" stroke-width="1.0" stroke-linecap="round" opacity="0.75" fill="none"/><path d="M436 454.1l0 0M466 466.7l.8 -.1M438.1 486.9l.2 -.4M452.1 496.2l0 .3M421.3 474.5l.2 .1M452.6 468.8l1 -.5M423.1 508.1l.1 -.1M444.5 505.8l.2 1.1M429.6 497.5l.1 -.3M469 476.9l.4 .1M410.2 453.3l.5 -.6M478.5 494.9l.7 -.3M408.7 474.6l.1 .1M418 477.3l.4 -.1M413 504.4l.7 0M426.9 475.9l.2 .2M416.8 494.2l.2 .8M449 491.8l.6 -.7M451.6 457.2l.1 .9M432.9 477.6l.5 .3M440.4 466.2l.1 0M414.2 507.5l.1 .6" stroke="#303078" stroke-width="1.0" stroke-linecap="round" opacity="0.25" fill="none"/><path d="M469.9 490.1l.1 -0M463.1 498.7l0 -.2M434.6 474.2l.3 .1M430.2 482.9l.1 -.2M452.9 492.9l.6 .4M419.4 473.7l.6 -.9M444.7 482.3l.5 -.1M479.4 480.1l.3 -.4M465.3 481.2l0 -0" stroke="#181860" stroke-width="1.0" stroke-linecap="round" opacity="0.25" fill="none"/><path d="M424.6 493.7l.1 -.1M411.5 485l0 0M423.8 474.8l0 0M470.7 470.6l.4 .2M411.6 459.3l.1 -.1M413.6 500.6l.3 -.1M462.7 466.3l.2 -.1M421.1 508.3l.1 .1M457.5 459.4l.4 -0M468.2 486.6l.1 1M476.5 493.5l.2 .5M481 485.7l.5 0M407.9 454.1l.6 -.1M465.4 500.6l.6 .1M418.4 467.3l.3 .2M463.6 504.7l.6 .6M471.9 486.5l0 -.1M411.6 489.7l.3 1M441 471.8l.2 -.6M435.1 480.6l0 .4M463.4 465.8l.7 .2M441.9 508.4l.8 .3M453 454.4l.1 -.2M437.1 505.8l.5 .7M432.7 472.3l0 -0M428.6 482.3l0 -.7M442.9 492.6l.1 .2M423 481.1l.5 .2M448.7 488.6l.1 .3M437.7 489.2l.1 .4M438.4 464.2l.8 -.7M432.7 480.9l0 -0M411.8 494.5l.2 -0M463 488.5l.8 .6M473.4 486.3l.5 -.8M461.5 495l0 -.1M445.5 450.2l.1 .1M426.8 454.3l0 0M451.8 490.8l.2 .5M410.2 509.7l.2 .4M420.6 448.8l.4 .4M427.7 458.4l.1 -0M460.4 464.8l.3 0M419.3 482.3l.8 -.2M460.6 478l.8 .4M429.4 491l0 0M454.5 489.9l.2 .6M468.2 486.3l0 -.7M480.1 492.3l.8 .3M451.6 488.6l.3 .1M453.8 495.9l.1 -.6M412.1 476.1l0 .4M410.6 499.8l.7 .6M473.6 471.6l.1 -.1M480.4 507.6l.1 .7" stroke="#181860" stroke-width="1.0" stroke-linecap="round" opacity="0.75" fill="none"/><path d="M414.6 476.9l.1 .2M468.6 506.8l.4 .3M429.8 503.6l.2 .2M410.4 490.7l.5 .1M418.2 457.8l0 -0M415.2 483.6l.1 -.7M426.6 494.2l0 -.1" stroke="#303060" stroke-width="1.0" stroke-linecap="round" opacity="0.75" fill="none"/><path d="M475.6 501.2l.7 -.6M410.9 501l0 .2M410.7 470.5l0 0M460.9 466.6l.4 -.2M480.7 509.6l.2 .2M421.4 454.2l.1 -1M447.9 469.5l.1 .3M470.3 503.7l.1 -.1M432.6 448.6l.3 -.9" stroke="#303060" stroke-width="1.0" stroke-linecap="round" opacity="0.5" fill="none"/><path d="M443.1 495.9l.4 -1M478.8 481.4l.4 .3M424.6 486.9l.1 -.3M462.7 462.7l.7 .2M419.7 479.9l.1 -.2M461.4 499.8l.2 .8M450.7 500.4l.6 -.7M459.3 508.8l.5 .6M435.2 468.2l.3 .8M466.5 506.9l.2 -.1M409.3 479.5l.3 .5M427.7 478.2l.5 .2M447.7 501.1l0 0M421.2 478.5l.5 -.6M426.1 491.5l.3 .6M422.1 505.5l0 .2M419.6 487l.6 .9M480 470.7l0 -0" stroke="#303090" stroke-width="1.0" stroke-linecap="round" opacity="0.5" fill="none"/><path d="M428.7 499.1l.2 .4M456.6 485.4l0 -0M433.8 464.9l.2 -.1M450.1 479.9l.1 -0" stroke="#303090" stroke-width="1.0" stroke-linecap="round" opacity="0.25" fill="none"/></g>
<rect x="465" y="506.0" width="13" height="0.6" fill="#ddd"/><text x="471.5" y="509.2" font-size="3.1" text-anchor="middle" fill="#eee" font-weight="bold">100 µm</text>
</g>
<g clip-path="url(#cG4)">
<rect x="408.2" y="512.2" width="74.4" height="64.4" fill="#030306"/>
<path d="M408,512 L428,512 L445,521 L465,531 L483,540 L483,573 L470,571 L450,566 L430,559 L416,550 L408,544 Z" fill="#121244" filter="url(#blur1)"/>
<g filter="url(#soft)"><path d="M450.1 546.3l1.5 -.1M431.2 540.8l1.4 -1M435.4 553.1l.7 .1M418.6 545.2l.5 -.4M424.6 554.2l1.2 -.1M461.3 541.2l1 -.2M476.1 559.3l1.3 .2M460.9 561.3l.4 -0M409.1 517.8l.2 -.4M458.8 560.3l1.5 -.2M469.9 549.1l.3 -.3M434 556.5l.6 -.2M411.6 517.2l1.2 -.5M428.4 513.1l.9 -.5M441.1 557.5l1.6 -.4M472 552.3l.5 -.8M436.3 542.1l.7 -.7M429.8 551.7l.7 -.2M481.4 553.4l.4 -.5M466.2 546.6l1 -1.1M408.6 542.3l.3 -.1M453.9 557.7l1 -.8M414.9 516.2l.4 -.2M463.5 551.8l.9 -.6M460.3 551l1.3 -.4M422.3 536.1l.4 -.6M473.5 571.1l.3 -.3M410.6 545.1l1.3 -.1M412.9 533.1l.5 -.2M431.1 558.1l1.8 -.4M440.5 528.3l.5 -.1M437.8 524.9l.9 -.3M446 531.1l1.7 -.6M413.2 540.8l1.2 0M437.6 557.6l1.3 -.1M433.3 543.9l.5 -.1M413.2 524.6l1.5 -0M418.5 528.9l1.4 -1.1M475 562.9l1 -1.2M461.4 532.5l.7 -.3M427.1 549.8l.6 .1M413.2 529l2 -.4M421.1 533.7l1.2 -.1M427.9 531.4l1.4 -.5M471.9 557.5l2 0M441.1 536.3l1.2 -.9M461.8 537.4l.9 -.6M430.2 518.5l.8 -.6M436.6 544l.9 -1.4M463.3 544l1.4 -.7M464.7 535.3l.3 -.2M478.3 541l1.4 -.6M476.7 552.1l.6 .1M480.4 559.2l.4 -0M416.7 527.9l.9 .1M420.3 521.9l.6 -.1M447 554.4l.3 -.4M421.6 527.8l.5 -.3M426.3 551.2l1.3 -0M459.4 568.1l1.7 -.6M469.7 554.7l.9 .1M452.5 534.3l.5 -.3M446.8 532.5l1.6 -0M412.2 519.8l.5 -.2M442.9 522.9l1.6 -1.2M442.8 543.8l1.2 -1.1M433.6 535.5l1.2 -.5M448.4 558.9l.7 -.5M454.2 558.9l.8 -.1M469.4 550l.5 -.5M463 545.7l1.8 -.6M409.3 525l1.4 -.2M456.7 543.4l.6 -0M461.3 561.2l1.1 -.4M438 557.2l.7 .1M444.8 547.7l1 -.4M455.9 553.4l.6 -.4M414.6 538.3l1.4 0M467.4 560.9l1.1 -.6M453.8 526l1 -.7M420.9 539.6l.6 -.1M431.1 526.5l.9 -.3M434.3 518.9l1.6 -.3M427.5 514.2l.7 -.2M439.7 561.2l.5 -.2M459.2 563.4l.6 -.1M477.5 540.8l.3 -.1M430.4 554.8l.9 -.4M429 542.1l1.8 -.3M431.4 524.1l1.3 -.9M465.8 551l.8 -1.2M424.6 525.1l1.4 -1.3M452.8 560l.9 -1.4M410.3 543.3l1.1 -.8M436.1 524.4l.2 -.1" stroke="#3030a8" stroke-width="1.0" stroke-linecap="round" opacity="0.75" fill="none"/><path d="M437.9 555.7l1.4 -.6M453.5 546.6l.4 -.5M440.5 544.6l.5 -.4M412.2 539l.1 -.1M419.3 525.8l1.1 -.3M471.4 555.7l.2 -0M412.1 517l.2 -0M457.1 557.7l.8 -.9M480.4 568.4l.3 -.2M439.1 519l.2 -0M454.9 543.3l.2 -.1M466.5 544.8l.9 -.7M458.3 546.4l.3 -.5M434.2 561.1l1 -1M431 516.1l.3 -0M443.8 522.3l.5 -.8M468.5 553.9l.1 -0M469.8 561.8l1.2 -.7M462.6 550.2l.1 -.1M419.3 543.4l.2 0M411.6 522.4l.6 -1M458 530.5l1.3 -.5M467.2 536.2l.9 .1M426.1 554.6l.7 -.4M476.2 563.4l1.4 -0M413 535.8l1.3 .1M476.9 539.2l1 -.3M425.4 540.1l1.1 .1M475.7 553.9l.9 -.6M443.1 545.1l1.3 -.8M463.4 546.3l.3 -.5M413.7 548.7l1.5 -.2M462.7 535.7l.5 -.9M433.4 552l.1 -.1M455.4 554.1l1.7 -.3M430.2 528.7l.5 .1M463.8 565.9l1.1 -0M478.8 562.5l.2 -.2M480.3 542.1l.3 .1M438.7 557.5l.7 -.8M448.2 526.4l.1 0M464.7 562.9l.5 -.1M466.4 551.4l1.5 0M447.6 529l.6 .1M414.6 531.8l.8 -.4M438.6 540.8l.4 -.4" stroke="#3030a8" stroke-width="1.5" stroke-linecap="round" opacity="0.75" fill="none"/><path d="M460.1 539.5l.4 -.5M446.1 528.1l.8 -.2M476.2 567l1 -1.3M417.9 531.6l1.2 -.2M423 522.7l1.8 0M435 560.3l1 -1.6M446.5 543.5l.9 -.4M429.6 556.8l.9 -.9M465.5 558.6l.9 -.2M477.2 553.1l1.2 -.2M471.7 568.3l1.1 .1M425.3 535.7l.4 -.4M431.5 544.7l.7 -.8M419.2 525.3l.8 -.9M435.8 532.8l1.8 0M449.1 527.7l1.6 -.7M448.4 535.6l.6 .1M437.8 551.3l1.8 -.3M454.6 567.2l.5 .1M433.2 520.6l.6 -.6M420.7 538.2l.6 -.3M481.5 550.9l.9 -1M439.8 534.5l.5 -.6M466.9 559.5l.9 -1.5M448.8 541.1l.7 -.2M453.6 561l.9 0M461.9 551.8l1.2 -1M454 563.4l.4 -.2M415.1 516.9l.9 -.6M433.5 537.9l1.2 -.3M449.1 526.1l1.4 -1.3M475.7 547l1.3 -.4M411.3 532.5l1.5 -.7M461.9 534.4l1.1 -0M417 522.6l1.2 -1M425.4 518.1l.9 -.9M440.2 540.4l1.2 -.6M462.3 558.6l.9 -1.3M436.2 534.1l.5 -.3M439.9 525.7l1.2 -.7M446.1 554.4l.9 .1M433.7 552.6l1.3 -.1M433.5 547.6l1.4 -1.1M448.1 525.3l.2 -.3M447.3 562l1.1 -1M441.4 551.6l1.4 -.8M427.6 529l1.8 -1M412.5 537.8l.6 -.6M428 519l.6 -.2M453 543.1l1 0M464.7 553.5l.8 -.3M469.3 538.2l.2 -.3M422.6 536.2l1.1 -.8M475.3 543.9l1 -.2M468.5 559.3l1 -.9M433.2 515.6l1.9 .3M468.1 564.5l.5 -.8M446.9 561.8l.8 -.6M411.5 535.6l.9 -.6M464.5 548.1l1.8 .3M469.4 550.1l.7 -.8M452.7 560.5l1.5 -.5M424.2 537.7l1.6 -.1M443.2 527.4l1.7 -0M428.1 535.4l1.4 -.5M466.2 569.6l.4 -.5M417.6 542.4l.8 -1M441.4 543.8l1 -1.3M417.6 548.4l1.6 -0M472.6 562.3l1.5 -.2M426.7 549l1.8 -.3M435 520.8l.5 -.3M454.6 559.2l1.3 -.2M426 548.4l.5 -.4M429.6 526.5l1.4 -1.1M463.8 543.5l1.2 -.4M425.2 520.8l.9 -1.4" stroke="#303090" stroke-width="1.0" stroke-linecap="round" opacity="0.5" fill="none"/><path d="M460.5 558.2l1 -1.6M441.4 543.9l.3 -.4M413.3 543.9l1.2 .1M418 541.3l1.8 -.2M427.8 544.3l.4 -.6M457.1 553.6l1.6 .2M463.3 531.2l1.4 -1.1M479.3 569.7l1.6 -.3M421.4 535.8l1 -.8M476.1 563.6l.7 -1.1M436 534.9l.2 -.3M411.6 516.8l.7 -.2M436 546.5l1.1 -.2M476 543.1l1.8 -.2M447.5 544.5l1 -.6M469.8 547.6l1 -.1M434.6 517.4l1.4 -.7M429.1 544.8l1 -1.3M417.9 532l1.1 -1.2M477.8 548.6l1.2 -.1M421.1 528.5l.6 -.3M458.9 539.5l1.4 -.2M476.1 556.5l1 -.4M431.7 550.2l.3 -.3M429 529.2l1.2 .1M426.9 528.6l.5 .1M470.3 546.9l1 .1M430.2 531.3l1 -.5M445.8 530.1l1.2 -.8M432.3 527.8l1.1 -.4M429.1 538.7l1.2 -1.4M421.2 527.6l.7 -.9M436 520l.5 -.2M464 542.4l.5 -.8M429.1 534.9l1.8 .2M418.9 519.3l1.4 -.4M456 545.8l1.4 -.3M465.7 547l1.1 -.8M462 556.4l1.3 .1M455 532.2l.3 -.4M460.7 561.9l.8 0M471.8 541.5l.4 -.7M429 514.2l1.7 -.6M474.1 547.2l.2 -.3M428.3 525.8l.8 0M422.8 533.7l1.6 .2M479.1 553l1.1 -1.5M427.6 521.7l1 -1.6M461.1 558.9l1.7 -.5M480.6 565.5l1.6 .1M440.6 528.8l.3 -.2M415.2 538.8l.9 -1.2M418.1 513.6l.3 -.1M468.1 543l.6 -0M482.3 544.2l.5 -.9M434.8 527.3l1 -.7M463.5 559.5l1.5 -.6M435.8 546.3l1.2 -1.3M416.1 546.2l.7 -.3M437.5 545.1l1 -1.5M468.8 537.7l1.8 -.4M435.9 535.7l1.4 -.6M433.2 553.8l1.1 .1M441.5 529.1l.7 -.4M440.9 524.8l.6 0M448.3 529.8l1.1 -1.2M453.2 541.4l.2 -.3M474.4 564.4l.8 -.3M449.2 564.6l1 -.4M464.2 555.7l1.7 -.5M424.4 518.5l1.2 -1.1M467.1 549.2l1.1 -1.1M453.6 555.2l.3 -.4M417.4 518.3l.5 -.2M439 525.8l.4 -.1M479 569.6l.9 .1M415.5 536.9l.9 -1M421.3 521.5l1.1 -0M456.8 536.5l1 -.4M464.7 538.4l1 -.2M453.8 539.9l.4 -.7M417.3 524.1l1.2 -.9M468.7 563.4l1 -1.6M436 529.1l.5 -.3M461 556.8l1 -.7M415 520.9l1.4 -.4M443.6 559.5l.8 0M456.6 527.9l1.1 -.7M471.4 559.9l.6 -.1M463.6 543.8l1.5 -1.2M444.1 528.1l1.1 -.6M427.2 524.8l1.5 -.2M448.4 547.2l1.4 -.5M449.4 549l1.9 -.5M463 555.3l.7 -1.2M431.5 545.6l.2 -.4M430.8 549.5l.9 -.4M442.2 558.5l1.3 -.3M461.2 539.7l.7 -.4M435.1 526.4l.5 .1M457.8 547.4l.6 -.2M460.7 542.9l1.6 .2M466.8 540.6l1.4 -1.1" stroke="#3030a8" stroke-width="1.0" stroke-linecap="round" opacity="0.5" fill="none"/><path d="M434.9 556.8l0 -0M409.7 531.3l.7 -.1M440.2 546.9l.4 -.2M451.7 545.5l1 -.6M469.1 564.5l1.7 -.1M467.1 545l1.4 .2" stroke="#4848c0" stroke-width="1.5" stroke-linecap="round" opacity="0.75" fill="none"/><path d="M438.4 552.5l.3 -.4M456.6 550.7l1.9 -.6M445.7 544l1.2 -.7M468.3 540.9l.6 -.1M434.7 555.3l1.4 -.4M438.4 544.2l1 -.9M421.7 548.4l.9 -.3M448.7 561.5l.9 -.4M427.8 546l.6 -.8M468.4 558l.9 -1.1M431.3 548.1l1 -1.3M466.8 533.1l1 -1.4M458.8 539.2l.8 -.7M447.7 552.3l.9 -1.1M481 557.9l1.9 -.2M444.7 531.8l1.3 .1M426 514.7l.8 -.7M459.4 540.7l1 -.4M466.5 565.2l1 -.1M433.4 553.7l.7 -.4M427.8 515.7l1.4 -.5M460.9 562.6l.3 -.5M429.6 533l.3 0M476.6 548.6l.8 -.6M417.1 518.9l1.3 -.1M440.2 521.4l1 -.1M422.1 522.1l1.4 -.4M471.1 553.4l.2 -.3M447.5 544.5l.9 -1.2M433.3 549.9l1.6 .2" stroke="#3030c0" stroke-width="1.0" stroke-linecap="round" opacity="0.5" fill="none"/><path d="M439.8 532.7l.3 -.1M418.4 513.5l.4 -.3M416.8 543.3l.4 -.4M476.6 569.9l.1 -.1M433 559.7l1.5 0M440.9 521.1l.7 -.4M477.3 538.4l0 -0M455.4 554.8l1.2 .1M441 529l1.1 -.1M447.7 560.4l1 .1M408.6 517.1l1 -.6M473.5 569.2l1.1 -.1M451.4 553l.2 -.2M429.6 524.4l1.3 -.4M419.8 537.7l1.1 -1.1M431.7 554l.3 -0M464.1 543.3l.5 0M429.6 556.9l.8 -.7M415.3 546.4l.5 -.1M448.1 544.3l.2 -.1M477.6 541.5l1.1 -.2M414.1 545.4l.9 .1M479 567.6l1 -.4M465.4 536.7l1.3 .2M481.2 567.9l.3 -.2M477 556.3l.8 -1.1M432 518.5l.4 -.6M433.6 558.7l.8 -.1M409.7 533.7l.2 -.1M473.2 558.1l.9 -.6M466 537.3l.4 -.2M438.7 544.7l.7 -.1M465.4 533.8l.3 -.1" stroke="#303090" stroke-width="1.5" stroke-linecap="round" opacity="0.75" fill="none"/><path d="M463.2 542.7l.6 -.3M436.9 559.9l.8 -0M446.9 530l.7 -1.1M450.9 557.8l.7 -.1M456.2 535.8l1 -.1M408.2 518.8l.4 -.1M462.3 563.6l1.1 -.3M415.4 537.1l.9 -.7M447.8 524.7l.8 -0M416.5 548.8l1.1 -.2M444.7 530.5l.3 -.4M438 560.2l.8 -.7M417.3 549.4l.3 -.3M422.3 546.6l.6 -.4M478.4 568.1l.1 -0M475.3 569.1l1 -.5M414.2 526.1l.4 -.6M408.6 528.8l.2 -.3M423 519.9l.4 -.4M450.4 526.3l1.7 -0M442.4 522.7l.7 .1M412.9 520.8l1.3 .1M478.7 571.3l.9 -.6M454.2 542.3l.9 -.5M448.2 546l1.3 -.7M434.6 530.7l1.3 -.5M441.5 540.7l.6 -.8M424.7 540.7l1.4 -.3M458.5 538.8l.5 -.5M435.3 532.5l1.1 -.2M414.1 536.9l.7 .1M424.3 514.3l.7 -.9M482.2 555.4l.7 -.5M473.6 570.9l.7 -1M424.5 538.4l.5 -.4M438.8 552.5l1.1 -.4M458.5 565.4l.2 -0M440.9 562l1.2 -.8M418 514l.6 -.2M440.7 527.6l1.3 -1M433.9 538l1.2 -.7M472.3 544.8l1 -.4M481.1 551.6l.9 -.3" stroke="#3030a8" stroke-width="1.5" stroke-linecap="round" opacity="0.5" fill="none"/><path d="M467.1 568l.3 -0M416.3 536.1l.7 -1.1M475.5 548.9l1 -.3M419.2 517.9l.7 -.7M467.8 569.4l1.1 -.2M469.8 537.8l.8 -.5M464.7 563.1l.8 -0M430.5 539.5l.6 -1M424.3 552.9l1.1 -1.6M414.8 528.8l.4 0M445.8 527l1.3 -.4M453.7 560.8l.8 -.2M440.9 554.9l.8 .1M424.3 529.8l.9 -1.4M474.1 550.5l.7 -.3M449.5 533.7l.7 -1.1M476.5 559.8l.4 -.1M454.8 537.2l1.4 -.8" stroke="#4848c0" stroke-width="1.0" stroke-linecap="round" opacity="0.75" fill="none"/><path d="M414.3 545.5l.9 -1.2M473.8 548.6l.5 -.7M470.3 566.6l.5 -.6M481.1 558.8l1.2 -.4M457.3 564.9l.4 -.5M440.6 536.4l.6 -.1M414.7 517.9l.1 -.1M478.9 548.1l.4 -.6M409.6 545.8l.9 -.9M414.8 523.5l.7 -1.2M455.6 531.9l1 -.5M416.4 532.6l.4 -.1M425.4 520.4l1.3 -.7M435.9 527.1l.8 -.4M465.7 537.6l1.1 -.2M442.1 522.3l1.3 -.5M452.2 528.3l.2 -.3M437.1 545.7l.8 -.5M420.9 541l1.1 -.3M422.7 537.4l.2 -.1M412.2 513.9l1.5 .2M411.4 522.3l1.5 -.9M473 563.3l.4 -.5M441.6 562.3l.9 0M426 551.7l1.1 -.7M446.5 561.5l1.2 -.3M481.2 539.3l.1 -0M467.3 559.6l.6 -.8M476.8 543.4l.1 -0M417.9 514.8l1.3 -.2M451.2 546.9l.6 -.1" stroke="#303090" stroke-width="1.5" stroke-linecap="round" opacity="0.5" fill="none"/><path d="M441.9 544.4l1.6 -.2M420.4 525.8l1.2 -.1M424.3 513.4l.8 -.6M424.4 528.4l1.5 -.6M461.3 558.4l1.4 -.1M452.3 545.6l1.8 -.6M433.4 550.8l.6 -.5M447.7 541.7l.6 -.5M413.8 521.1l.5 -0M477.7 539.7l1.1 -.2M460.1 568.3l.4 0M433.2 537.5l1.3 -1.5M449.7 548.9l.4 .1M443.7 533.7l1 -1.6M415.9 517.6l.3 -.2M425.1 547.4l.3 -.3M447 540.3l.6 -.1M433.4 528.5l.7 -.8M478.3 558.9l1 -.1M460.1 569l.9 -.9M444.1 545.7l1.4 0M418.2 519.3l.7 -.2M477.3 561.3l.8 .1M420.3 528.1l1.4 -.4M448.5 554.2l1 .2M437.1 548.4l.8 -.5M411.6 533.6l1 -.5M427.5 556.9l.6 -.3M475.8 544l1.2 -0M475.6 558.9l.5 -.1M460.8 537.9l1.9 -.4M417.3 525.7l1.5 -.6M464.4 566.2l1.7 -.3M425.3 541.4l.9 -.1M480.7 565.5l.4 -.3M461.1 557.7l1 -.6M477.9 567.7l.9 -1M460.1 566.8l1.3 -1.1M427.5 546.1l1.9 -.7M428 549.5l1 -.4M460.3 564.7l1.3 -1M450 551.9l.6 -.4M453.7 538.4l.4 -.6M420.1 518.6l.7 -1.1M437.2 562.1l1.1 -1.1M453.5 530.7l1 -1.1M429.3 535.4l1.5 -.6M463.3 558.3l.3 -.3M439 539.3l.3 -.3M452.7 555.2l.6 -.2M480.5 560l1.4 .1M434 531.1l1.5 -.8M421 520.5l1.4 -.9M473.8 561.7l1.6 -1M440.1 522.5l1.4 -.4" stroke="#303090" stroke-width="1.0" stroke-linecap="round" opacity="0.75" fill="none"/><path d="M448.9 553.2l1.1 -.7M443.6 550.2l1.3 -.2M449.2 559.3l.3 -.3M478.4 561.4l.5 -.2M477.4 549.5l.9 -1.2M460.6 539.4l.6 0M470 539.9l1.1 -.2M451.2 559.7l1.2 -.7M430.7 526.5l.4 -.5M432 543.1l.4 -0M413.1 517.6l.5 -.6M427.8 512.5l.3 0M447 530.8l.7 -.1M414.6 520.9l1.2 -.2M451.1 557.9l.4 -.4M413.2 535.3l1.2 -1.1M479.7 566.5l1.1 -.8M476.3 556.3l1.6 -.8M412.1 526.4l1 -.7M436 527.5l.4 -.4M459.3 551.2l.4 -.3M435.6 536l1.6 -.2M418.4 524l.3 -.2M420.6 538.8l.5 0M461.9 543l1.3 -.4M422 532.6l.8 -.6" stroke="#3030c0" stroke-width="1.0" stroke-linecap="round" opacity="0.75" fill="none"/><path d="M419.4 550.5l.7 -.2M429.6 513.4l1.2 -.2M432.8 548.3l.3 -.3M448.7 554.8l.7 -.4M418.7 551.9l1.2 -.4M446.2 532.5l.3 -.2M440.8 533.1l1.2 .1M443.6 541.7l.6 -.8M446.1 554l.6 -0M407.5 526.1l1.6 -.1M438.2 521.1l.3 0M478.5 551.9l.2 -0" stroke="#3030c0" stroke-width="1.5" stroke-linecap="round" opacity="0.75" fill="none"/><path d="M476.7 562.9l1.6 -.2M477.3 553.8l1.5 -.2M435.9 542.8l.4 -.1M440.4 555.3l.8 -1.2M477.5 538.6l.4 -.4M442.8 539.3l1 -1M414.1 545.1l1.4 -0M465.2 541.3l1.4 -.6M455 529.8l.2 -.3M425.7 527.3l.9 -1.4M440.6 547.6l1.6 .1" stroke="#4848c0" stroke-width="1.0" stroke-linecap="round" opacity="0.5" fill="none"/><path d="M456.2 530.9l1.5 -.5M440.2 541.9l.3 -.4M443.4 553.6l.2 -0M438.8 529.6l.6 -.1M420.8 550.6l.2 -0M437.2 535.1l.3 -.4M464.2 560l1 .1M443.9 524l.6 -0" stroke="#3030c0" stroke-width="1.5" stroke-linecap="round" opacity="0.5" fill="none"/><path d="M442.1 553.6l.6 -.2M435.7 517.2l.7 -.6M436.1 536.6l.9 -.1M425.2 539.1l.3 -.5M463.3 570l1 -1.3M449.5 549.6l.2 -.1" stroke="#4848c0" stroke-width="1.5" stroke-linecap="round" opacity="0.5" fill="none"/></g>
<path d="M463.7 568.9l.5 0" stroke="#78d8d8" stroke-width="1.0" stroke-linecap="round" opacity="0.5" fill="none"/><path d="M437 533.2l.5 0" stroke="#78c0d8" stroke-width="1.0" stroke-linecap="round" opacity="0.75" fill="none"/><path d="M445.4 556.1l.2 0" stroke="#a8c0f0" stroke-width="1.0" stroke-linecap="round" opacity="0.75" fill="none"/><path d="M421.1 547.3l0 0" stroke="#a8c0c0" stroke-width="1.0" stroke-linecap="round" opacity="1.0" fill="none"/><path d="M446.2 541.1l0 0" stroke="#78a8d8" stroke-width="1.0" stroke-linecap="round" opacity="0.5" fill="none"/><path d="M458.6 551.9l0 0M450.1 551.3l.3 0M443.8 537.9l0 0M472 547.4l.4 0" stroke="#90c0d8" stroke-width="1.0" stroke-linecap="round" opacity="0.75" fill="none"/><path d="M436 536.6l.3 0" stroke="#78d8d8" stroke-width="1.0" stroke-linecap="round" opacity="0.75" fill="none"/><path d="M432.6 545.9l.2 0" stroke="#90d8c0" stroke-width="1.0" stroke-linecap="round" opacity="0.75" fill="none"/><path d="M454.6 556.8l.2 0M417.2 526.2l.5 0M435.9 562.1l0 0" stroke="#a8d8d8" stroke-width="1.0" stroke-linecap="round" opacity="0.5" fill="none"/><path d="M458.6 545.4l0 0M461.6 563.4l.2 0" stroke="#90c0c0" stroke-width="1.0" stroke-linecap="round" opacity="0.5" fill="none"/><path d="M439.8 549.8l.4 0M442.7 543.1l.1 0" stroke="#90a8c0" stroke-width="1.0" stroke-linecap="round" opacity="0.5" fill="none"/><path d="M448.3 542.6l0 0" stroke="#78a8d8" stroke-width="1.0" stroke-linecap="round" opacity="0.75" fill="none"/><path d="M465.6 562l0 0M418.8 525.3l.2 0" stroke="#a8a8d8" stroke-width="1.0" stroke-linecap="round" opacity="0.5" fill="none"/><path d="M421.2 526.2l.3 0" stroke="#90c0c0" stroke-width="1.0" stroke-linecap="round" opacity="0.75" fill="none"/><path d="M462.4 550.6l.1 0" stroke="#78c0c0" stroke-width="1.0" stroke-linecap="round" opacity="0.5" fill="none"/><path d="M436.4 519.2l0 0M470.2 551.6l0 0" stroke="#90a8c0" stroke-width="1.0" stroke-linecap="round" opacity="0.75" fill="none"/><path d="M443.6 532.5l0 0" stroke="#78c0f0" stroke-width="1.0" stroke-linecap="round" opacity="0.5" fill="none"/><path d="M433 543.8l.2 0M475.5 541.5l0 0" stroke="#78a8c0" stroke-width="1.0" stroke-linecap="round" opacity="1.0" fill="none"/><path d="M425.8 557.1l.3 0" stroke="#a8c0f0" stroke-width="1.0" stroke-linecap="round" opacity="0.5" fill="none"/><path d="M431.5 537.7l0 0" stroke="#90d8d8" stroke-width="1.0" stroke-linecap="round" opacity="0.75" fill="none"/><path d="M423.5 568.3l.1 0" stroke="#78a8d8" stroke-width="1.0" stroke-linecap="round" opacity="1.0" fill="none"/><path d="M453.6 528l.5 0" stroke="#78d8c0" stroke-width="1.0" stroke-linecap="round" opacity="0.5" fill="none"/><path d="M458.8 546.6l.4 0" stroke="#78a8c0" stroke-width="1.0" stroke-linecap="round" opacity="0.5" fill="none"/><path d="M426.3 545.1l.1 0M441.9 532.1l0 0" stroke="#78a8c0" stroke-width="1.0" stroke-linecap="round" opacity="0.75" fill="none"/><path d="M417.2 527.2l.4 0" stroke="#90a8d8" stroke-width="1.0" stroke-linecap="round" opacity="0.75" fill="none"/><path d="M447.8 524.2l0 0" stroke="#a8c0c0" stroke-width="1.0" stroke-linecap="round" opacity="0.75" fill="none"/><path d="M414.1 527.1l.1 0" stroke="#90c0d8" stroke-width="1.0" stroke-linecap="round" opacity="0.5" fill="none"/><path d="M450.6 565.6l.2 0M473.4 570.5l0 0" stroke="#90d8d8" stroke-width="1.0" stroke-linecap="round" opacity="0.5" fill="none"/>
<rect x="465" y="572.4" width="13" height="0.6" fill="#ddd"/><text x="471.5" y="575.6" font-size="3.1" text-anchor="middle" fill="#eee" font-weight="bold">100 µm</text>
</g>
<text x="0" y="0" transform="translate(402.70,344.90) rotate(-90)" font-size="8.3" text-anchor="middle" fill="#333" stroke="#333" stroke-width="0.22">H<tspan font-size="72%" dy="1.76">2</tspan><tspan dy="-1.76">O</tspan> Plac</text>
<text x="0" y="0" transform="translate(402.70,414.20) rotate(-90)" font-size="8.3" text-anchor="middle" fill="#333" stroke="#333" stroke-width="0.22">H<tspan font-size="72%" dy="1.76">2</tspan><tspan dy="-1.76">O</tspan> Cis</text>
<text x="0" y="0" transform="translate(402.70,474.90) rotate(-90)" font-size="8.3" text-anchor="middle" fill="#333" stroke="#333" stroke-width="0.22">ABX Plac</text>
<text x="0" y="0" transform="translate(402.70,542.90) rotate(-90)" font-size="8.3" text-anchor="middle" fill="#333" stroke="#333" stroke-width="0.22">ABX Cis</text>
<text x="2.60" y="445.80" font-size="15" text-anchor="start" fill="#111" font-weight="bold" stroke="#111" stroke-width="0.22">H</text>
<line x1="59.00" y1="455.80" x2="59.00" y2="551.90" stroke="#444" stroke-width="1.1"/>
<line x1="56.60" y1="551.40" x2="59.00" y2="551.40" stroke="#444" stroke-width="1.0"/>
<text x="53.20" y="553.90" font-size="8.6" text-anchor="end" fill="#333" stroke="#333" stroke-width="0.22">0.0</text>
<line x1="56.60" y1="519.70" x2="59.00" y2="519.70" stroke="#444" stroke-width="1.0"/>
<text x="53.20" y="522.20" font-size="8.6" text-anchor="end" fill="#333" stroke="#333" stroke-width="0.22">0.5</text>
<line x1="56.60" y1="488.00" x2="59.00" y2="488.00" stroke="#444" stroke-width="1.0"/>
<text x="53.20" y="490.50" font-size="8.6" text-anchor="end" fill="#333" stroke="#333" stroke-width="0.22">1.0</text>
<line x1="56.60" y1="456.30" x2="59.00" y2="456.30" stroke="#444" stroke-width="1.0"/>
<text x="53.20" y="458.80" font-size="8.6" text-anchor="end" fill="#333" stroke="#333" stroke-width="0.22">1.5</text>
<line x1="59.00" y1="551.40" x2="112.50" y2="551.40" stroke="#444" stroke-width="1.1"/>
<rect x="67.20" y="488.00" width="15.40" height="63.40" fill="#050505" stroke="none" stroke-width="1"/>
<line x1="74.90" y1="551.40" x2="74.90" y2="553.80" stroke="#444" stroke-width="1.0"/>
<circle cx="70.90" cy="488.00" r="1.15" fill="#111"/>
<circle cx="74.90" cy="488.00" r="1.15" fill="#111"/>
<circle cx="78.90" cy="488.00" r="1.15" fill="#111"/>
<text x="0" y="0" transform="translate(75.20,562.40) rotate(-45)" font-size="8.6" text-anchor="end" fill="#333" stroke="#333" stroke-width="0.22">H<tspan font-size="72%" dy="1.76">2</tspan><tspan dy="-1.76">O</tspan>+Cis</text>
<rect x="89.90" y="547.60" width="15.20" height="3.80" fill="#e3262e" stroke="none" stroke-width="1"/>
<line x1="97.50" y1="551.40" x2="97.50" y2="553.80" stroke="#444" stroke-width="1.0"/>
<circle cx="93.50" cy="546.96" r="1.15" fill="#111"/>
<circle cx="97.50" cy="546.64" r="1.15" fill="#111"/>
<circle cx="101.50" cy="547.28" r="1.15" fill="#111"/>
<text x="0" y="0" transform="translate(97.80,562.40) rotate(-45)" font-size="8.6" text-anchor="end" fill="#333" stroke="#333" stroke-width="0.22">ABX+Cis</text>
<text x="0" y="0" transform="translate(35.20,504.60) rotate(-90)" font-size="9.0" text-anchor="middle" fill="#333" stroke="#333" stroke-width="0.22">Gene expression of 53BP1, 2<tspan font-size="60%" dy="-3.4">−(ΔΔ<tspan font-style="italic">Ct</tspan>)</tspan></text>
<line x1="161.10" y1="466.00" x2="161.10" y2="556.50" stroke="#444" stroke-width="1.1"/>
<line x1="158.70" y1="556.00" x2="161.10" y2="556.00" stroke="#444" stroke-width="1.0"/>
<text x="156.50" y="558.42" font-size="8.4" text-anchor="end" fill="#333" stroke="#333" stroke-width="0.22">0.0</text>
<line x1="158.70" y1="538.10" x2="161.10" y2="538.10" stroke="#444" stroke-width="1.0"/>
<text x="156.50" y="540.52" font-size="8.4" text-anchor="end" fill="#333" stroke="#333" stroke-width="0.22">0.5</text>
<line x1="158.70" y1="520.20" x2="161.10" y2="520.20" stroke="#444" stroke-width="1.0"/>
<text x="156.50" y="522.62" font-size="8.4" text-anchor="end" fill="#333" stroke="#333" stroke-width="0.22">1.0</text>
<line x1="158.70" y1="502.30" x2="161.10" y2="502.30" stroke="#444" stroke-width="1.0"/>
<text x="156.50" y="504.72" font-size="8.4" text-anchor="end" fill="#333" stroke="#333" stroke-width="0.22">1.5</text>
<line x1="158.70" y1="484.40" x2="161.10" y2="484.40" stroke="#444" stroke-width="1.0"/>
<text x="156.50" y="486.82" font-size="8.4" text-anchor="end" fill="#333" stroke="#333" stroke-width="0.22">2.0</text>
<line x1="158.70" y1="466.50" x2="161.10" y2="466.50" stroke="#444" stroke-width="1.0"/>
<text x="156.50" y="468.92" font-size="8.4" text-anchor="end" fill="#333" stroke="#333" stroke-width="0.22">2.5</text>
<line x1="161.10" y1="556.00" x2="207.50" y2="556.00" stroke="#444" stroke-width="1.1"/>
<rect x="168.00" y="520.20" width="12.80" height="35.80" fill="#050505" stroke="none" stroke-width="1"/>
<line x1="174.40" y1="556.00" x2="174.40" y2="558.40" stroke="#444" stroke-width="1.0"/>
<circle cx="170.40" cy="520.20" r="1.15" fill="#111"/>
<circle cx="174.40" cy="520.20" r="1.15" fill="#111"/>
<circle cx="178.40" cy="520.20" r="1.15" fill="#111"/>
<text x="0" y="0" transform="translate(175.10,563.40) rotate(-45)" font-size="7.9" text-anchor="end" fill="#333" stroke="#333" stroke-width="0.22">H<tspan font-size="72%" dy="1.76">2</tspan><tspan dy="-1.76">O</tspan>+Cis</text>
<rect x="187.80" y="492.63" width="13.00" height="63.37" fill="#e3262e" stroke="none" stroke-width="1"/>
<line x1="194.30" y1="556.00" x2="194.30" y2="558.40" stroke="#444" stroke-width="1.0"/>
<line x1="194.30" y1="485.83" x2="194.30" y2="492.63" stroke="#555" stroke-width="0.9"/>
<line x1="191.80" y1="485.83" x2="196.80" y2="485.83" stroke="#555" stroke-width="0.9"/>
<line x1="191.80" y1="499.44" x2="196.80" y2="499.44" stroke="#222" stroke-width="0.8"/>
<circle cx="194.30" cy="481.89" r="1.15" fill="#111"/>
<circle cx="194.30" cy="493.35" r="1.15" fill="#111"/>
<circle cx="194.30" cy="504.81" r="1.15" fill="#111"/>
<text x="0" y="0" transform="translate(195.00,563.40) rotate(-45)" font-size="7.9" text-anchor="end" fill="#333" stroke="#333" stroke-width="0.22">ABX+Cis</text>
<text x="0" y="0" transform="translate(137.60,506.50) rotate(-90)" font-size="8.3" text-anchor="middle" fill="#333" stroke="#333" stroke-width="0.22">Gene expression of BRCA1, 2<tspan font-size="60%" dy="-3.4">−(ΔΔ<tspan font-style="italic">Ct</tspan>)</tspan></text>
<line x1="257.00" y1="467.12" x2="257.00" y2="556.50" stroke="#444" stroke-width="1.1"/>
<line x1="254.60" y1="556.00" x2="257.00" y2="556.00" stroke="#444" stroke-width="1.0"/>
<text x="251.80" y="558.32" font-size="8.1" text-anchor="end" fill="#333" stroke="#333" stroke-width="0.22">0.9</text>
<line x1="254.60" y1="541.27" x2="257.00" y2="541.27" stroke="#444" stroke-width="1.0"/>
<text x="251.80" y="543.59" font-size="8.1" text-anchor="end" fill="#333" stroke="#333" stroke-width="0.22">1.0</text>
<line x1="254.60" y1="526.54" x2="257.00" y2="526.54" stroke="#444" stroke-width="1.0"/>
<text x="251.80" y="528.86" font-size="8.1" text-anchor="end" fill="#333" stroke="#333" stroke-width="0.22">1.1</text>
<line x1="254.60" y1="511.81" x2="257.00" y2="511.81" stroke="#444" stroke-width="1.0"/>
<text x="251.80" y="514.13" font-size="8.1" text-anchor="end" fill="#333" stroke="#333" stroke-width="0.22">1.2</text>
<line x1="254.60" y1="497.08" x2="257.00" y2="497.08" stroke="#444" stroke-width="1.0"/>
<text x="251.80" y="499.40" font-size="8.1" text-anchor="end" fill="#333" stroke="#333" stroke-width="0.22">1.3</text>
<line x1="254.60" y1="482.35" x2="257.00" y2="482.35" stroke="#444" stroke-width="1.0"/>
<text x="251.80" y="484.67" font-size="8.1" text-anchor="end" fill="#333" stroke="#333" stroke-width="0.22">1.4</text>
<line x1="254.60" y1="467.62" x2="257.00" y2="467.62" stroke="#444" stroke-width="1.0"/>
<text x="251.80" y="469.94" font-size="8.1" text-anchor="end" fill="#333" stroke="#333" stroke-width="0.22">1.5</text>
<line x1="257.00" y1="556.00" x2="304.20" y2="556.00" stroke="#444" stroke-width="1.1"/>
<rect x="264.20" y="541.27" width="13.60" height="14.73" fill="#050505" stroke="none" stroke-width="1"/>
<line x1="271.00" y1="556.00" x2="271.00" y2="558.40" stroke="#444" stroke-width="1.0"/>
<circle cx="267.00" cy="541.27" r="1.15" fill="#111"/>
<circle cx="271.00" cy="541.27" r="1.15" fill="#111"/>
<circle cx="275.00" cy="541.27" r="1.15" fill="#111"/>
<text x="0" y="0" transform="translate(271.30,565.40) rotate(-45)" font-size="7.9" text-anchor="end" fill="#333" stroke="#333" stroke-width="0.22">H<tspan font-size="72%" dy="1.76">2</tspan><tspan dy="-1.76">O</tspan>+Cis</text>
<rect x="285.50" y="502.97" width="13.20" height="53.03" fill="#e3262e" stroke="none" stroke-width="1"/>
<line x1="292.10" y1="556.00" x2="292.10" y2="558.40" stroke="#444" stroke-width="1.0"/>
<line x1="292.10" y1="491.19" x2="292.10" y2="502.97" stroke="#555" stroke-width="0.9"/>
<line x1="289.60" y1="491.19" x2="294.60" y2="491.19" stroke="#555" stroke-width="0.9"/>
<line x1="289.60" y1="514.76" x2="294.60" y2="514.76" stroke="#222" stroke-width="0.8"/>
<circle cx="292.10" cy="477.93" r="1.15" fill="#111"/>
<circle cx="292.10" cy="511.81" r="1.15" fill="#111"/>
<circle cx="292.10" cy="516.23" r="1.15" fill="#111"/>
<text x="0" y="0" transform="translate(292.40,565.40) rotate(-45)" font-size="7.9" text-anchor="end" fill="#333" stroke="#333" stroke-width="0.22">ABX+Cis</text>
<text x="0" y="0" transform="translate(235.40,510.50) rotate(-90)" font-size="9.1" text-anchor="middle" fill="#333" stroke="#333" stroke-width="0.22">Gene expression of CD-31, 2<tspan font-size="60%" dy="-3.4">−(ΔΔ<tspan font-style="italic">Ct</tspan>)</tspan></text>
</svg>
</body></html>
